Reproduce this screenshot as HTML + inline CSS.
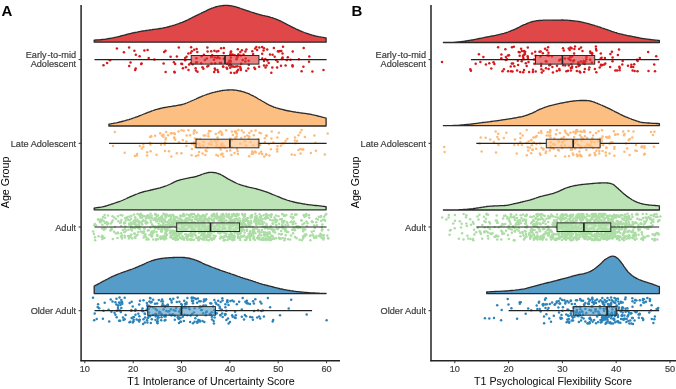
<!DOCTYPE html>
<html><head><meta charset="utf-8"><style>
html,body{margin:0;padding:0;background:#fff;width:676px;height:389px;overflow:hidden}
svg{display:block;filter:blur(0.35px);font-family:"Liberation Sans",sans-serif}
</style></head><body>
<svg width="676" height="389" viewBox="0 0 676 389">
<rect width="676" height="389" fill="#fff"/>
<text transform="translate(1.50,15.70) scale(1,1.000)" text-anchor="start" font-size="15.00" fill="#000" stroke="#000" stroke-width="0" font-weight="bold">A</text>
<line x1="81.1" y1="5" x2="81.1" y2="361.2" stroke="#222" stroke-width="1.5"/>
<line x1="80.4" y1="360.7" x2="340.0" y2="360.7" stroke="#222" stroke-width="1.5"/>
<line x1="78.6" y1="59.6" x2="81.1" y2="59.6" stroke="#333" stroke-width="1"/>
<text transform="translate(76.10,57.80) scale(1,1.080)" text-anchor="end" font-size="9.20" fill="#404040" stroke="#404040" stroke-width="0.2">Early<tspan dx="0.9">-to-mid</tspan></text>
<text transform="translate(76.10,67.40) scale(1,1.080)" text-anchor="end" font-size="9.20" fill="#404040" stroke="#404040" stroke-width="0.2">Adolescent</text>
<line x1="78.6" y1="143.3" x2="81.1" y2="143.3" stroke="#333" stroke-width="1"/>
<text transform="translate(76.10,146.80) scale(1,1.080)" text-anchor="end" font-size="9.20" fill="#404040" stroke="#404040" stroke-width="0.2">Late Adolescent</text>
<line x1="78.6" y1="227.0" x2="81.1" y2="227.0" stroke="#333" stroke-width="1"/>
<text transform="translate(76.10,230.50) scale(1,1.080)" text-anchor="end" font-size="9.20" fill="#404040" stroke="#404040" stroke-width="0.2">Adult</text>
<line x1="78.6" y1="310.7" x2="81.1" y2="310.7" stroke="#333" stroke-width="1"/>
<text transform="translate(76.10,314.20) scale(1,1.080)" text-anchor="end" font-size="9.20" fill="#404040" stroke="#404040" stroke-width="0.2">Older Adult</text>
<line x1="84.8" y1="360.7" x2="84.8" y2="363.2" stroke="#333" stroke-width="1"/>
<text transform="translate(84.80,372.20) scale(1,1.080)" text-anchor="middle" font-size="9.20" fill="#404040" stroke="#404040" stroke-width="0.2">10</text>
<line x1="133.2" y1="360.7" x2="133.2" y2="363.2" stroke="#333" stroke-width="1"/>
<text transform="translate(133.16,372.20) scale(1,1.080)" text-anchor="middle" font-size="9.20" fill="#404040" stroke="#404040" stroke-width="0.2">20</text>
<line x1="181.5" y1="360.7" x2="181.5" y2="363.2" stroke="#333" stroke-width="1"/>
<text transform="translate(181.52,372.20) scale(1,1.080)" text-anchor="middle" font-size="9.20" fill="#404040" stroke="#404040" stroke-width="0.2">30</text>
<line x1="229.9" y1="360.7" x2="229.9" y2="363.2" stroke="#333" stroke-width="1"/>
<text transform="translate(229.88,372.20) scale(1,1.080)" text-anchor="middle" font-size="9.20" fill="#404040" stroke="#404040" stroke-width="0.2">40</text>
<line x1="278.2" y1="360.7" x2="278.2" y2="363.2" stroke="#333" stroke-width="1"/>
<text transform="translate(278.24,372.20) scale(1,1.080)" text-anchor="middle" font-size="9.20" fill="#404040" stroke="#404040" stroke-width="0.2">50</text>
<line x1="326.6" y1="360.7" x2="326.6" y2="363.2" stroke="#333" stroke-width="1"/>
<text transform="translate(326.60,372.20) scale(1,1.080)" text-anchor="middle" font-size="9.20" fill="#404040" stroke="#404040" stroke-width="0.2">60</text>
<text transform="translate(211.00,384.80) scale(1,1.080)" text-anchor="middle" font-size="10.65" fill="#111" stroke="#111" stroke-width="0.05">T1 Intolerance of Uncertainty Score</text>
<text transform="translate(9.3,182.4) rotate(-90) scale(1,1.04)" text-anchor="middle" font-size="10.7" fill="#000">Age Group</text>
<path d="M94.2,42.2 L94.2,40.1 L94.9,40.1 L95.9,40.0 L97.0,39.9 L98.3,39.8 L99.6,39.8 L101.0,39.6 L102.3,39.5 L103.5,39.4 L104.7,39.3 L105.8,39.1 L107.0,38.9 L108.1,38.7 L109.2,38.5 L110.4,38.3 L111.5,38.1 L112.7,37.9 L113.9,37.7 L115.0,37.4 L116.2,37.1 L117.4,36.9 L118.5,36.6 L119.7,36.3 L120.8,36.0 L122.0,35.7 L123.2,35.4 L124.3,35.1 L125.5,34.8 L126.6,34.5 L127.7,34.2 L128.9,33.9 L130.0,33.6 L131.2,33.3 L132.4,33.0 L133.5,32.8 L134.7,32.5 L135.8,32.3 L137.0,32.1 L138.2,31.8 L139.3,31.6 L140.5,31.4 L141.7,31.2 L142.8,31.0 L144.0,30.8 L145.1,30.7 L146.2,30.5 L147.4,30.3 L148.5,30.2 L149.7,30.0 L150.9,29.8 L152.0,29.7 L153.2,29.5 L154.3,29.4 L155.5,29.2 L156.7,29.1 L157.8,28.9 L159.0,28.7 L160.2,28.5 L161.3,28.3 L162.5,28.1 L163.6,27.8 L164.7,27.6 L165.9,27.4 L167.0,27.1 L168.2,26.8 L169.4,26.5 L170.5,26.2 L171.7,25.9 L172.8,25.5 L174.0,25.2 L175.2,24.8 L176.3,24.4 L177.5,24.0 L178.7,23.6 L179.8,23.2 L181.0,22.7 L182.1,22.3 L183.2,21.8 L184.4,21.3 L185.5,20.8 L186.7,20.3 L187.9,19.8 L189.0,19.2 L190.2,18.6 L191.4,18.0 L192.5,17.4 L193.7,16.9 L194.8,16.3 L196.0,15.7 L197.1,15.1 L198.3,14.6 L199.4,14.0 L200.6,13.5 L201.7,12.9 L202.8,12.4 L204.0,11.8 L205.1,11.3 L206.2,10.8 L207.4,10.2 L208.5,9.7 L209.6,9.2 L210.8,8.7 L211.9,8.2 L213.1,7.8 L214.2,7.4 L215.4,7.0 L216.5,6.7 L217.7,6.4 L218.8,6.2 L220.0,5.9 L221.2,5.8 L222.3,5.6 L223.5,5.5 L224.7,5.4 L225.8,5.4 L227.0,5.4 L228.1,5.5 L229.2,5.6 L230.4,5.7 L231.5,5.9 L232.7,6.1 L233.9,6.3 L235.0,6.6 L236.2,7.0 L237.3,7.3 L238.5,7.7 L239.7,8.1 L240.8,8.5 L242.0,8.9 L243.2,9.3 L244.3,9.7 L245.5,10.1 L246.6,10.5 L247.7,10.8 L248.9,11.2 L250.0,11.6 L251.2,12.0 L252.4,12.4 L253.5,12.7 L254.7,13.1 L255.8,13.5 L257.0,13.8 L258.2,14.1 L259.3,14.5 L260.5,14.8 L261.7,15.1 L262.8,15.4 L264.0,15.6 L265.1,15.9 L266.2,16.1 L267.4,16.4 L268.5,16.7 L269.7,17.0 L270.9,17.4 L272.0,17.7 L273.2,18.1 L274.4,18.5 L275.5,18.9 L276.7,19.4 L277.8,19.8 L279.0,20.3 L280.2,20.8 L281.3,21.4 L282.5,22.0 L283.6,22.6 L284.7,23.2 L285.9,23.8 L287.0,24.4 L288.2,25.0 L289.4,25.6 L290.5,26.2 L291.7,26.8 L292.9,27.4 L294.0,27.9 L295.2,28.5 L296.3,29.1 L297.5,29.6 L298.7,30.1 L299.8,30.6 L301.0,31.1 L302.1,31.6 L303.2,32.0 L304.4,32.5 L305.5,32.9 L306.7,33.3 L307.9,33.7 L309.0,34.1 L310.1,34.5 L311.3,34.8 L312.4,35.2 L313.6,35.5 L314.8,35.8 L316.0,36.1 L317.3,36.4 L318.7,36.7 L320.2,36.9 L321.6,37.2 L323.0,37.4 L324.3,37.6 L325.3,37.8 L326.1,37.9 L326.1,42.2 Z" fill="#DF4749" stroke="#2a2a2a" stroke-width="1.3" stroke-linejoin="round"/>
<path d="M108.9,126.0 L108.9,124.2 L109.6,124.1 L110.6,123.9 L111.8,123.6 L113.1,123.4 L114.5,123.1 L115.9,122.9 L117.3,122.6 L118.5,122.3 L119.7,122.0 L120.8,121.8 L122.0,121.5 L123.1,121.2 L124.3,120.9 L125.4,120.6 L126.5,120.2 L127.7,119.9 L128.9,119.6 L130.0,119.2 L131.2,118.8 L132.3,118.4 L133.5,118.0 L134.7,117.6 L135.8,117.2 L137.0,116.8 L138.2,116.4 L139.3,115.9 L140.5,115.4 L141.6,115.0 L142.7,114.5 L143.9,114.0 L145.0,113.6 L146.2,113.1 L147.4,112.7 L148.5,112.2 L149.7,111.8 L150.8,111.3 L152.0,110.9 L153.2,110.5 L154.3,110.1 L155.5,109.7 L156.7,109.4 L157.8,109.0 L159.0,108.8 L160.1,108.5 L161.2,108.2 L162.4,108.0 L163.5,107.7 L164.7,107.5 L165.9,107.3 L167.0,107.1 L168.2,106.9 L169.3,106.7 L170.5,106.6 L171.7,106.4 L172.8,106.2 L174.0,106.0 L175.2,105.8 L176.3,105.6 L177.5,105.4 L178.6,105.2 L179.7,105.0 L180.9,104.8 L182.0,104.5 L183.2,104.2 L184.4,103.8 L185.5,103.4 L186.7,103.0 L187.8,102.5 L189.0,102.0 L190.2,101.5 L191.3,101.0 L192.5,100.5 L193.7,100.0 L194.8,99.5 L196.0,99.0 L197.1,98.4 L198.3,97.9 L199.4,97.4 L200.6,96.9 L201.7,96.4 L202.9,95.9 L204.1,95.5 L205.3,95.0 L206.5,94.6 L207.6,94.2 L208.8,93.8 L209.9,93.4 L210.9,93.1 L211.8,92.8 L212.7,92.6 L213.6,92.4 L214.4,92.2 L215.1,92.0 L215.9,91.8 L216.7,91.7 L217.5,91.5 L218.3,91.3 L219.1,91.2 L219.9,91.0 L220.7,90.8 L221.5,90.7 L222.3,90.5 L223.2,90.4 L224.2,90.3 L225.2,90.2 L226.3,90.1 L227.5,90.0 L228.7,90.0 L229.9,89.9 L231.1,89.9 L232.3,89.9 L233.5,90.0 L234.7,90.1 L235.8,90.2 L237.0,90.4 L238.1,90.6 L239.2,90.8 L240.4,91.0 L241.5,91.3 L242.7,91.6 L243.9,92.0 L245.0,92.3 L246.2,92.8 L247.3,93.2 L248.5,93.7 L249.7,94.2 L250.8,94.8 L252.0,95.3 L253.2,95.9 L254.3,96.5 L255.5,97.1 L256.6,97.8 L257.7,98.5 L258.9,99.2 L260.0,99.8 L261.2,100.5 L262.4,101.2 L263.5,101.8 L264.7,102.5 L265.9,103.2 L267.0,103.9 L268.2,104.5 L269.3,105.2 L270.5,105.7 L271.7,106.2 L272.8,106.6 L274.0,107.1 L275.1,107.4 L276.2,107.8 L277.4,108.1 L278.5,108.5 L279.7,108.8 L280.9,109.1 L282.0,109.4 L283.2,109.7 L284.4,110.0 L285.5,110.3 L286.7,110.5 L287.8,110.8 L289.0,111.0 L290.2,111.2 L291.3,111.4 L292.5,111.6 L293.6,111.8 L294.7,112.0 L295.9,112.2 L297.0,112.3 L298.2,112.5 L299.4,112.7 L300.5,112.8 L301.7,113.0 L302.9,113.1 L304.0,113.3 L305.2,113.4 L306.3,113.6 L307.5,113.8 L308.7,114.0 L309.8,114.2 L310.9,114.4 L312.1,114.7 L313.2,114.9 L314.4,115.2 L315.5,115.4 L316.7,115.7 L317.9,116.0 L319.3,116.3 L320.6,116.7 L322.0,117.0 L323.3,117.4 L324.4,117.7 L325.4,117.9 L326.1,118.1 L326.1,126.0 Z" fill="#FDBE81" stroke="#2a2a2a" stroke-width="1.3" stroke-linejoin="round"/>
<path d="M94.2,209.8 L94.2,208.1 L94.9,208.0 L95.9,207.9 L97.0,207.7 L98.3,207.5 L99.6,207.3 L101.0,207.1 L102.3,206.9 L103.5,206.6 L104.7,206.3 L105.8,206.0 L107.0,205.7 L108.1,205.3 L109.2,204.9 L110.4,204.6 L111.5,204.2 L112.7,203.8 L113.9,203.4 L115.0,203.0 L116.2,202.6 L117.4,202.2 L118.5,201.8 L119.7,201.4 L120.8,201.0 L122.0,200.5 L123.2,200.0 L124.3,199.5 L125.5,199.0 L126.6,198.5 L127.7,197.9 L128.9,197.4 L130.0,196.9 L131.2,196.4 L132.4,195.9 L133.5,195.4 L134.7,194.9 L135.8,194.4 L137.0,194.0 L138.2,193.5 L139.3,193.1 L140.5,192.7 L141.7,192.3 L142.8,192.0 L144.0,191.7 L145.1,191.4 L146.2,191.1 L147.4,190.9 L148.5,190.6 L149.7,190.3 L150.9,190.0 L152.0,189.8 L153.2,189.5 L154.3,189.2 L155.5,189.0 L156.7,188.7 L157.8,188.4 L159.0,188.1 L160.2,187.8 L161.3,187.4 L162.5,187.1 L163.6,186.7 L164.7,186.3 L165.9,185.9 L167.0,185.5 L168.2,185.0 L169.4,184.5 L170.5,184.0 L171.7,183.4 L172.8,182.8 L174.0,182.2 L175.2,181.7 L176.3,181.2 L177.5,180.7 L178.7,180.3 L179.8,180.0 L181.0,179.6 L182.1,179.3 L183.2,179.1 L184.4,178.8 L185.5,178.6 L186.7,178.3 L187.9,178.1 L189.0,177.8 L190.2,177.6 L191.4,177.4 L192.5,177.3 L193.7,177.0 L194.8,176.8 L196.0,176.5 L197.2,176.2 L198.3,175.7 L199.5,175.3 L200.7,174.8 L201.8,174.4 L203.0,174.0 L204.1,173.6 L205.1,173.3 L206.1,173.1 L207.0,172.9 L208.0,172.7 L208.9,172.5 L209.7,172.4 L210.6,172.4 L211.5,172.4 L212.4,172.4 L213.3,172.5 L214.2,172.6 L215.1,172.7 L216.0,172.9 L216.9,173.2 L217.8,173.4 L218.8,173.8 L219.8,174.2 L220.9,174.7 L222.0,175.3 L223.1,175.9 L224.3,176.6 L225.5,177.3 L226.7,178.1 L227.8,178.8 L229.0,179.4 L230.2,180.0 L231.3,180.6 L232.5,181.2 L233.7,181.9 L234.8,182.4 L236.0,183.0 L237.1,183.5 L238.3,184.0 L239.5,184.4 L240.6,184.8 L241.8,185.2 L242.9,185.5 L244.0,185.9 L245.2,186.2 L246.3,186.5 L247.5,186.8 L248.7,187.1 L249.8,187.4 L251.0,187.6 L252.2,187.9 L253.3,188.2 L254.5,188.4 L255.6,188.7 L256.8,189.0 L258.0,189.3 L259.1,189.6 L260.3,190.0 L261.4,190.3 L262.5,190.7 L263.7,191.0 L264.8,191.4 L266.0,191.8 L267.2,192.2 L268.3,192.7 L269.5,193.1 L270.7,193.6 L271.8,194.1 L273.0,194.6 L274.1,195.0 L275.3,195.5 L276.5,196.0 L277.6,196.4 L278.8,196.9 L279.9,197.4 L281.0,197.9 L282.2,198.3 L283.3,198.8 L284.5,199.2 L285.7,199.6 L286.8,200.0 L288.0,200.4 L289.2,200.7 L290.3,201.1 L291.5,201.4 L292.6,201.7 L293.8,202.0 L295.0,202.3 L296.1,202.5 L297.3,202.8 L298.4,203.0 L299.6,203.2 L300.7,203.4 L301.9,203.6 L303.0,203.8 L304.1,204.0 L305.2,204.2 L306.2,204.3 L307.3,204.5 L308.4,204.6 L309.6,204.8 L310.8,204.9 L312.2,205.1 L313.8,205.3 L315.7,205.5 L317.7,205.7 L319.7,205.9 L321.7,206.1 L323.5,206.3 L325.0,206.5 L326.1,206.6 L326.1,209.8 Z" fill="#BCE4B6" stroke="#2a2a2a" stroke-width="1.3" stroke-linejoin="round"/>
<path d="M94.2,293.6 L94.2,286.1 L94.9,285.7 L95.9,285.2 L97.0,284.6 L98.3,283.9 L99.6,283.2 L101.0,282.4 L102.3,281.7 L103.5,281.1 L104.7,280.5 L105.8,279.9 L107.0,279.3 L108.1,278.7 L109.2,278.1 L110.4,277.5 L111.5,276.9 L112.7,276.4 L113.9,275.9 L115.0,275.4 L116.2,274.9 L117.4,274.4 L118.5,273.9 L119.7,273.5 L120.8,273.0 L122.0,272.6 L123.2,272.2 L124.3,271.8 L125.5,271.4 L126.6,271.0 L127.7,270.6 L128.9,270.2 L130.0,269.8 L131.2,269.4 L132.4,269.0 L133.5,268.5 L134.7,268.1 L135.8,267.6 L137.0,267.1 L138.2,266.7 L139.3,266.2 L140.5,265.7 L141.7,265.2 L142.8,264.6 L144.0,264.1 L145.1,263.5 L146.2,263.0 L147.4,262.4 L148.5,262.0 L149.7,261.5 L150.9,261.1 L152.0,260.7 L153.2,260.3 L154.3,260.0 L155.5,259.7 L156.7,259.4 L157.8,259.1 L159.0,258.9 L160.2,258.7 L161.3,258.5 L162.5,258.3 L163.6,258.2 L164.7,258.1 L165.9,258.0 L167.0,257.9 L168.2,257.8 L169.4,257.7 L170.5,257.6 L171.7,257.6 L172.8,257.5 L174.0,257.5 L175.2,257.4 L176.3,257.4 L177.5,257.4 L178.7,257.4 L179.8,257.4 L181.0,257.4 L182.1,257.4 L183.2,257.5 L184.4,257.5 L185.5,257.6 L186.7,257.8 L187.9,258.0 L189.0,258.2 L190.2,258.5 L191.4,258.8 L192.5,259.1 L193.7,259.4 L194.8,259.8 L196.0,260.2 L197.1,260.6 L198.3,261.1 L199.4,261.6 L200.6,262.2 L201.7,262.7 L202.8,263.3 L204.0,263.8 L205.1,264.3 L206.2,264.8 L207.4,265.2 L208.5,265.7 L209.6,266.1 L210.8,266.6 L211.9,267.0 L213.1,267.5 L214.2,267.9 L215.4,268.3 L216.5,268.8 L217.7,269.2 L218.8,269.6 L220.0,270.1 L221.2,270.5 L222.3,270.9 L223.5,271.3 L224.7,271.7 L225.8,272.1 L227.0,272.5 L228.1,272.9 L229.2,273.2 L230.4,273.6 L231.5,274.0 L232.7,274.4 L233.9,274.8 L235.0,275.2 L236.2,275.6 L237.3,276.1 L238.5,276.5 L239.7,276.9 L240.8,277.3 L242.0,277.7 L243.2,278.1 L244.3,278.4 L245.5,278.8 L246.6,279.1 L247.7,279.4 L248.9,279.8 L250.0,280.1 L251.2,280.5 L252.4,280.9 L253.5,281.3 L254.7,281.7 L255.8,282.1 L257.0,282.5 L258.2,282.9 L259.3,283.3 L260.5,283.7 L261.7,284.0 L262.8,284.4 L264.0,284.7 L265.1,285.0 L266.2,285.2 L267.4,285.5 L268.5,285.8 L269.7,286.1 L270.9,286.4 L272.0,286.7 L273.2,287.0 L274.4,287.3 L275.5,287.6 L276.7,287.9 L277.8,288.2 L279.0,288.5 L280.2,288.8 L281.3,289.0 L282.5,289.2 L283.6,289.5 L284.7,289.7 L285.9,289.9 L287.0,290.1 L288.2,290.3 L289.4,290.5 L290.5,290.7 L291.7,290.8 L292.9,291.0 L294.0,291.2 L295.2,291.3 L296.3,291.5 L297.5,291.6 L298.7,291.7 L299.8,291.9 L301.0,292.0 L302.1,292.1 L303.2,292.2 L304.4,292.3 L305.5,292.4 L306.7,292.5 L307.9,292.6 L309.0,292.7 L310.1,292.8 L311.3,292.8 L312.4,292.9 L313.6,293.0 L314.8,293.0 L316.0,293.1 L317.3,293.2 L318.7,293.2 L320.2,293.3 L321.6,293.3 L323.0,293.4 L324.3,293.4 L325.3,293.5 L326.1,293.5 L326.1,293.6 Z" fill="#559CC8" stroke="#2a2a2a" stroke-width="1.3" stroke-linejoin="round"/>
<rect x="191.2" y="55.5" width="67.7" height="8.6" fill="#E98082"/>
<g fill="#D7191C"><circle cx="241.1" cy="63.8" r="1.25"/><circle cx="278.8" cy="51.4" r="1.25"/><circle cx="259.3" cy="47.4" r="1.25"/><circle cx="197.5" cy="71.8" r="1.25"/><circle cx="207.4" cy="47.6" r="1.25"/><circle cx="272.6" cy="54.8" r="1.25"/><circle cx="107.1" cy="63.0" r="1.25"/><circle cx="270.0" cy="54.6" r="1.25"/><circle cx="265.5" cy="67.5" r="1.25"/><circle cx="223.3" cy="66.7" r="1.25"/><circle cx="207.6" cy="51.5" r="1.25"/><circle cx="201.2" cy="63.3" r="1.25"/><circle cx="196.6" cy="48.9" r="1.25"/><circle cx="221.0" cy="63.1" r="1.25"/><circle cx="226.6" cy="67.7" r="1.25"/><circle cx="229.0" cy="65.5" r="1.25"/><circle cx="323.5" cy="70.1" r="1.25"/><circle cx="262.1" cy="47.0" r="1.25"/><circle cx="240.3" cy="52.0" r="1.25"/><circle cx="312.4" cy="71.4" r="1.25"/><circle cx="190.6" cy="53.0" r="1.25"/><circle cx="181.3" cy="63.8" r="1.25"/><circle cx="237.6" cy="56.4" r="1.25"/><circle cx="141.1" cy="63.9" r="1.25"/><circle cx="139.6" cy="56.3" r="1.25"/><circle cx="229.3" cy="60.7" r="1.25"/><circle cx="223.7" cy="52.9" r="1.25"/><circle cx="282.3" cy="58.5" r="1.25"/><circle cx="237.5" cy="66.3" r="1.25"/><circle cx="230.3" cy="54.3" r="1.25"/><circle cx="223.0" cy="66.6" r="1.25"/><circle cx="194.2" cy="49.8" r="1.25"/><circle cx="116.9" cy="48.5" r="1.25"/><circle cx="188.3" cy="53.5" r="1.25"/><circle cx="248.3" cy="68.5" r="1.25"/><circle cx="191.8" cy="51.3" r="1.25"/><circle cx="215.1" cy="69.8" r="1.25"/><circle cx="103.5" cy="65.2" r="1.25"/><circle cx="266.6" cy="65.6" r="1.25"/><circle cx="182.9" cy="68.3" r="1.25"/><circle cx="201.7" cy="56.2" r="1.25"/><circle cx="276.1" cy="60.1" r="1.25"/><circle cx="231.1" cy="51.4" r="1.25"/><circle cx="267.4" cy="60.6" r="1.25"/><circle cx="240.8" cy="70.1" r="1.25"/><circle cx="252.3" cy="51.2" r="1.25"/><circle cx="163.6" cy="63.4" r="1.25"/><circle cx="230.9" cy="72.8" r="1.25"/><circle cx="227.2" cy="68.7" r="1.25"/><circle cx="274.7" cy="56.8" r="1.25"/><circle cx="211.2" cy="51.2" r="1.25"/><circle cx="236.0" cy="66.5" r="1.25"/><circle cx="148.7" cy="58.1" r="1.25"/><circle cx="214.8" cy="57.5" r="1.25"/><circle cx="203.4" cy="68.8" r="1.25"/><circle cx="176.9" cy="56.6" r="1.25"/><circle cx="264.0" cy="65.5" r="1.25"/><circle cx="214.8" cy="68.4" r="1.25"/><circle cx="309.3" cy="56.6" r="1.25"/><circle cx="233.0" cy="66.5" r="1.25"/><circle cx="241.9" cy="50.2" r="1.25"/><circle cx="240.6" cy="68.3" r="1.25"/><circle cx="246.4" cy="49.6" r="1.25"/><circle cx="174.7" cy="72.6" r="1.25"/><circle cx="218.4" cy="51.0" r="1.25"/><circle cx="196.4" cy="58.2" r="1.25"/><circle cx="216.6" cy="51.4" r="1.25"/><circle cx="164.2" cy="52.1" r="1.25"/><circle cx="303.7" cy="48.1" r="1.25"/><circle cx="191.1" cy="47.2" r="1.25"/><circle cx="243.5" cy="54.6" r="1.25"/><circle cx="206.8" cy="58.4" r="1.25"/><circle cx="271.3" cy="72.8" r="1.25"/><circle cx="246.3" cy="70.7" r="1.25"/><circle cx="170.6" cy="56.8" r="1.25"/><circle cx="267.2" cy="49.6" r="1.25"/><circle cx="290.5" cy="59.7" r="1.25"/><circle cx="281.3" cy="51.0" r="1.25"/><circle cx="236.5" cy="59.2" r="1.25"/><circle cx="175.2" cy="64.1" r="1.25"/><circle cx="185.2" cy="60.3" r="1.25"/><circle cx="286.9" cy="60.0" r="1.25"/><circle cx="230.5" cy="60.6" r="1.25"/><circle cx="185.9" cy="67.3" r="1.25"/><circle cx="280.0" cy="51.1" r="1.25"/><circle cx="237.8" cy="49.3" r="1.25"/><circle cx="237.0" cy="71.3" r="1.25"/><circle cx="214.1" cy="72.1" r="1.25"/><circle cx="214.0" cy="59.8" r="1.25"/><circle cx="196.0" cy="70.6" r="1.25"/><circle cx="135.8" cy="54.7" r="1.25"/><circle cx="273.9" cy="48.1" r="1.25"/><circle cx="223.8" cy="58.7" r="1.25"/><circle cx="231.7" cy="66.5" r="1.25"/><circle cx="207.3" cy="66.5" r="1.25"/><circle cx="255.1" cy="68.9" r="1.25"/><circle cx="129.2" cy="65.9" r="1.25"/><circle cx="214.4" cy="50.8" r="1.25"/><circle cx="134.4" cy="50.7" r="1.25"/><circle cx="173.9" cy="62.2" r="1.25"/><circle cx="301.6" cy="71.2" r="1.25"/><circle cx="242.7" cy="60.0" r="1.25"/><circle cx="218.2" cy="72.0" r="1.25"/><circle cx="230.2" cy="67.7" r="1.25"/><circle cx="272.3" cy="67.6" r="1.25"/><circle cx="211.5" cy="63.4" r="1.25"/><circle cx="236.9" cy="57.8" r="1.25"/><circle cx="248.8" cy="64.7" r="1.25"/><circle cx="212.2" cy="55.2" r="1.25"/><circle cx="230.7" cy="51.9" r="1.25"/><circle cx="259.1" cy="66.8" r="1.25"/><circle cx="281.0" cy="65.7" r="1.25"/><circle cx="174.3" cy="71.8" r="1.25"/><circle cx="287.8" cy="57.2" r="1.25"/><circle cx="110.0" cy="60.2" r="1.25"/><circle cx="255.2" cy="48.6" r="1.25"/><circle cx="264.0" cy="61.1" r="1.25"/><circle cx="178.8" cy="47.4" r="1.25"/><circle cx="220.0" cy="63.1" r="1.25"/><circle cx="264.0" cy="48.3" r="1.25"/><circle cx="123.9" cy="52.2" r="1.25"/><circle cx="238.1" cy="69.7" r="1.25"/><circle cx="262.3" cy="58.4" r="1.25"/><circle cx="231.1" cy="65.1" r="1.25"/><circle cx="254.3" cy="67.8" r="1.25"/><circle cx="195.9" cy="62.8" r="1.25"/><circle cx="192.7" cy="64.3" r="1.25"/><circle cx="211.2" cy="57.1" r="1.25"/><circle cx="186.6" cy="56.8" r="1.25"/><circle cx="211.7" cy="56.4" r="1.25"/><circle cx="292.6" cy="66.4" r="1.25"/><circle cx="234.7" cy="55.3" r="1.25"/><circle cx="212.1" cy="56.4" r="1.25"/><circle cx="202.5" cy="67.2" r="1.25"/><circle cx="292.5" cy="65.3" r="1.25"/><circle cx="218.0" cy="56.7" r="1.25"/><circle cx="309.0" cy="61.7" r="1.25"/><circle cx="230.2" cy="64.0" r="1.25"/><circle cx="230.7" cy="61.8" r="1.25"/><circle cx="277.9" cy="51.2" r="1.25"/><circle cx="253.1" cy="54.1" r="1.25"/><circle cx="234.4" cy="72.9" r="1.25"/><circle cx="219.5" cy="58.2" r="1.25"/><circle cx="277.6" cy="61.8" r="1.25"/><circle cx="217.5" cy="69.9" r="1.25"/><circle cx="282.5" cy="53.4" r="1.25"/><circle cx="154.4" cy="59.4" r="1.25"/><circle cx="221.1" cy="48.2" r="1.25"/><circle cx="231.7" cy="54.6" r="1.25"/><circle cx="292.7" cy="51.6" r="1.25"/><circle cx="195.6" cy="68.3" r="1.25"/><circle cx="265.3" cy="58.9" r="1.25"/><circle cx="245.7" cy="58.5" r="1.25"/><circle cx="248.6" cy="60.8" r="1.25"/><circle cx="238.1" cy="54.7" r="1.25"/><circle cx="303.4" cy="66.8" r="1.25"/><circle cx="208.4" cy="65.8" r="1.25"/><circle cx="216.9" cy="58.1" r="1.25"/><circle cx="189.1" cy="64.5" r="1.25"/><circle cx="141.6" cy="63.4" r="1.25"/><circle cx="190.6" cy="63.2" r="1.25"/><circle cx="281.9" cy="59.0" r="1.25"/><circle cx="268.7" cy="63.1" r="1.25"/><circle cx="165.6" cy="71.9" r="1.25"/><circle cx="238.5" cy="54.4" r="1.25"/><circle cx="223.9" cy="48.1" r="1.25"/><circle cx="234.3" cy="66.8" r="1.25"/><circle cx="245.4" cy="51.5" r="1.25"/><circle cx="203.9" cy="54.8" r="1.25"/><circle cx="298.9" cy="59.3" r="1.25"/><circle cx="227.1" cy="63.8" r="1.25"/><circle cx="240.1" cy="66.7" r="1.25"/><circle cx="240.8" cy="55.4" r="1.25"/><circle cx="185.2" cy="57.9" r="1.25"/><circle cx="147.6" cy="50.1" r="1.25"/><circle cx="215.1" cy="63.3" r="1.25"/><circle cx="257.1" cy="50.0" r="1.25"/><circle cx="262.2" cy="53.8" r="1.25"/><circle cx="256.3" cy="47.0" r="1.25"/><circle cx="165.5" cy="50.7" r="1.25"/><circle cx="283.0" cy="46.7" r="1.25"/><circle cx="263.5" cy="50.6" r="1.25"/><circle cx="277.1" cy="67.4" r="1.25"/><circle cx="228.4" cy="62.7" r="1.25"/><circle cx="282.6" cy="57.4" r="1.25"/><circle cx="144.4" cy="50.6" r="1.25"/><circle cx="135.2" cy="70.1" r="1.25"/><circle cx="129.1" cy="47.6" r="1.25"/><circle cx="196.8" cy="62.3" r="1.25"/><circle cx="197.3" cy="52.0" r="1.25"/><circle cx="188.5" cy="69.9" r="1.25"/><circle cx="232.9" cy="54.7" r="1.25"/><circle cx="135.7" cy="68.4" r="1.25"/><circle cx="236.7" cy="72.6" r="1.25"/><circle cx="182.1" cy="64.0" r="1.25"/><circle cx="245.3" cy="61.5" r="1.25"/><circle cx="130.5" cy="62.5" r="1.25"/><circle cx="204.9" cy="59.9" r="1.25"/><circle cx="285.6" cy="65.6" r="1.25"/><circle cx="230.8" cy="57.5" r="1.25"/></g>
<line x1="94.5" y1="59.6" x2="191.2" y2="59.6" stroke="#222" stroke-width="1.2"/>
<line x1="258.9" y1="59.6" x2="326.6" y2="59.6" stroke="#222" stroke-width="1.2"/>
<rect x="191.2" y="55.5" width="67.7" height="8.6" fill="#E98082" fill-opacity="0.15" stroke="#2b2b2b" stroke-width="1"/>
<line x1="225.0" y1="55.5" x2="225.0" y2="64.1" stroke="#222" stroke-width="1.7"/>
<rect x="196.0" y="139.2" width="62.9" height="8.6" fill="#FED6B0"/>
<g fill="#FDBA79"><circle cx="271.7" cy="131.6" r="1.25"/><circle cx="260.1" cy="145.0" r="1.25"/><circle cx="206.5" cy="151.3" r="1.25"/><circle cx="151.2" cy="136.2" r="1.25"/><circle cx="165.9" cy="138.1" r="1.25"/><circle cx="182.8" cy="140.0" r="1.25"/><circle cx="200.0" cy="146.9" r="1.25"/><circle cx="218.7" cy="132.8" r="1.25"/><circle cx="298.5" cy="150.1" r="1.25"/><circle cx="195.0" cy="146.9" r="1.25"/><circle cx="285.7" cy="140.8" r="1.25"/><circle cx="244.8" cy="136.7" r="1.25"/><circle cx="277.5" cy="146.2" r="1.25"/><circle cx="215.8" cy="134.1" r="1.25"/><circle cx="114.8" cy="132.1" r="1.25"/><circle cx="266.0" cy="135.4" r="1.25"/><circle cx="190.0" cy="135.3" r="1.25"/><circle cx="174.2" cy="137.6" r="1.25"/><circle cx="264.2" cy="156.4" r="1.25"/><circle cx="251.4" cy="131.1" r="1.25"/><circle cx="186.5" cy="146.0" r="1.25"/><circle cx="197.0" cy="138.9" r="1.25"/><circle cx="301.6" cy="130.1" r="1.25"/><circle cx="193.8" cy="144.6" r="1.25"/><circle cx="247.2" cy="135.4" r="1.25"/><circle cx="166.2" cy="131.9" r="1.25"/><circle cx="266.3" cy="154.7" r="1.25"/><circle cx="161.9" cy="135.4" r="1.25"/><circle cx="226.1" cy="130.3" r="1.25"/><circle cx="136.8" cy="155.6" r="1.25"/><circle cx="231.8" cy="146.9" r="1.25"/><circle cx="271.4" cy="138.5" r="1.25"/><circle cx="155.1" cy="135.8" r="1.25"/><circle cx="193.7" cy="133.4" r="1.25"/><circle cx="259.5" cy="132.7" r="1.25"/><circle cx="237.9" cy="154.0" r="1.25"/><circle cx="200.1" cy="138.9" r="1.25"/><circle cx="237.6" cy="151.2" r="1.25"/><circle cx="221.1" cy="144.6" r="1.25"/><circle cx="278.8" cy="132.7" r="1.25"/><circle cx="199.7" cy="145.5" r="1.25"/><circle cx="261.1" cy="151.7" r="1.25"/><circle cx="240.2" cy="143.8" r="1.25"/><circle cx="251.7" cy="153.7" r="1.25"/><circle cx="208.4" cy="133.4" r="1.25"/><circle cx="255.0" cy="151.6" r="1.25"/><circle cx="250.6" cy="142.0" r="1.25"/><circle cx="209.0" cy="130.9" r="1.25"/><circle cx="134.9" cy="156.0" r="1.25"/><circle cx="310.9" cy="153.0" r="1.25"/><circle cx="248.8" cy="138.3" r="1.25"/><circle cx="181.5" cy="130.2" r="1.25"/><circle cx="253.8" cy="135.3" r="1.25"/><circle cx="197.1" cy="143.4" r="1.25"/><circle cx="222.0" cy="153.9" r="1.25"/><circle cx="277.4" cy="137.5" r="1.25"/><circle cx="222.3" cy="143.4" r="1.25"/><circle cx="194.1" cy="131.2" r="1.25"/><circle cx="203.2" cy="145.4" r="1.25"/><circle cx="150.3" cy="143.6" r="1.25"/><circle cx="186.4" cy="141.6" r="1.25"/><circle cx="198.2" cy="155.2" r="1.25"/><circle cx="174.9" cy="134.0" r="1.25"/><circle cx="147.2" cy="152.2" r="1.25"/><circle cx="220.8" cy="149.4" r="1.25"/><circle cx="186.7" cy="135.6" r="1.25"/><circle cx="255.6" cy="130.4" r="1.25"/><circle cx="298.5" cy="135.2" r="1.25"/><circle cx="195.9" cy="155.9" r="1.25"/><circle cx="234.9" cy="131.5" r="1.25"/><circle cx="224.7" cy="147.6" r="1.25"/><circle cx="150.4" cy="136.7" r="1.25"/><circle cx="164.7" cy="144.4" r="1.25"/><circle cx="282.5" cy="143.4" r="1.25"/><circle cx="219.2" cy="147.5" r="1.25"/><circle cx="262.2" cy="154.1" r="1.25"/><circle cx="149.9" cy="143.1" r="1.25"/><circle cx="234.5" cy="152.9" r="1.25"/><circle cx="277.2" cy="151.4" r="1.25"/><circle cx="277.2" cy="149.2" r="1.25"/><circle cx="113.0" cy="146.0" r="1.25"/><circle cx="231.9" cy="131.4" r="1.25"/><circle cx="212.0" cy="144.4" r="1.25"/><circle cx="258.3" cy="139.3" r="1.25"/><circle cx="150.4" cy="136.9" r="1.25"/><circle cx="196.6" cy="132.6" r="1.25"/><circle cx="269.4" cy="155.6" r="1.25"/><circle cx="222.5" cy="153.7" r="1.25"/><circle cx="221.7" cy="134.7" r="1.25"/><circle cx="314.4" cy="135.4" r="1.25"/><circle cx="202.6" cy="153.4" r="1.25"/><circle cx="143.4" cy="143.9" r="1.25"/><circle cx="209.1" cy="143.8" r="1.25"/><circle cx="170.8" cy="133.3" r="1.25"/><circle cx="150.7" cy="151.3" r="1.25"/><circle cx="236.8" cy="133.8" r="1.25"/><circle cx="304.9" cy="137.0" r="1.25"/><circle cx="232.9" cy="135.0" r="1.25"/><circle cx="244.8" cy="141.2" r="1.25"/><circle cx="205.4" cy="135.5" r="1.25"/><circle cx="235.5" cy="137.7" r="1.25"/><circle cx="258.4" cy="142.3" r="1.25"/><circle cx="236.7" cy="136.6" r="1.25"/><circle cx="264.8" cy="138.2" r="1.25"/><circle cx="231.8" cy="140.5" r="1.25"/><circle cx="181.5" cy="153.3" r="1.25"/><circle cx="235.6" cy="132.5" r="1.25"/><circle cx="223.3" cy="156.4" r="1.25"/><circle cx="174.4" cy="138.0" r="1.25"/><circle cx="241.8" cy="130.4" r="1.25"/><circle cx="266.9" cy="135.7" r="1.25"/><circle cx="165.0" cy="142.6" r="1.25"/><circle cx="230.3" cy="138.5" r="1.25"/><circle cx="252.2" cy="151.6" r="1.25"/><circle cx="216.8" cy="145.0" r="1.25"/><circle cx="194.3" cy="144.4" r="1.25"/><circle cx="211.2" cy="141.4" r="1.25"/><circle cx="231.6" cy="140.4" r="1.25"/><circle cx="249.3" cy="133.0" r="1.25"/><circle cx="230.2" cy="150.4" r="1.25"/><circle cx="163.3" cy="136.8" r="1.25"/><circle cx="270.9" cy="149.2" r="1.25"/><circle cx="297.2" cy="141.0" r="1.25"/><circle cx="163.5" cy="134.7" r="1.25"/><circle cx="191.9" cy="149.1" r="1.25"/><circle cx="176.8" cy="153.2" r="1.25"/><circle cx="273.3" cy="142.4" r="1.25"/><circle cx="291.7" cy="154.5" r="1.25"/><circle cx="141.9" cy="148.5" r="1.25"/><circle cx="205.3" cy="154.9" r="1.25"/><circle cx="183.7" cy="130.8" r="1.25"/><circle cx="222.6" cy="146.1" r="1.25"/><circle cx="295.5" cy="143.2" r="1.25"/><circle cx="150.3" cy="144.6" r="1.25"/><circle cx="175.2" cy="139.8" r="1.25"/><circle cx="224.1" cy="146.0" r="1.25"/><circle cx="231.4" cy="154.9" r="1.25"/><circle cx="253.2" cy="145.2" r="1.25"/><circle cx="217.8" cy="139.9" r="1.25"/><circle cx="174.1" cy="133.2" r="1.25"/><circle cx="207.5" cy="147.4" r="1.25"/><circle cx="315.9" cy="150.7" r="1.25"/><circle cx="253.0" cy="153.8" r="1.25"/><circle cx="160.2" cy="133.2" r="1.25"/><circle cx="264.9" cy="141.9" r="1.25"/><circle cx="199.2" cy="143.7" r="1.25"/><circle cx="257.9" cy="144.6" r="1.25"/><circle cx="124.7" cy="152.8" r="1.25"/><circle cx="280.9" cy="145.8" r="1.25"/><circle cx="179.0" cy="142.2" r="1.25"/><circle cx="221.5" cy="132.6" r="1.25"/><circle cx="246.2" cy="145.5" r="1.25"/><circle cx="226.9" cy="150.9" r="1.25"/><circle cx="178.5" cy="131.5" r="1.25"/><circle cx="168.1" cy="135.2" r="1.25"/><circle cx="194.9" cy="138.6" r="1.25"/><circle cx="143.3" cy="146.7" r="1.25"/><circle cx="188.4" cy="130.3" r="1.25"/><circle cx="165.5" cy="139.6" r="1.25"/><circle cx="221.7" cy="144.6" r="1.25"/><circle cx="205.8" cy="150.2" r="1.25"/><circle cx="235.5" cy="137.7" r="1.25"/><circle cx="194.0" cy="142.3" r="1.25"/><circle cx="139.8" cy="145.9" r="1.25"/><circle cx="203.5" cy="141.7" r="1.25"/><circle cx="258.3" cy="145.5" r="1.25"/><circle cx="191.6" cy="155.3" r="1.25"/><circle cx="214.6" cy="140.9" r="1.25"/><circle cx="259.4" cy="153.6" r="1.25"/><circle cx="216.4" cy="142.5" r="1.25"/><circle cx="284.6" cy="142.9" r="1.25"/><circle cx="295.0" cy="137.5" r="1.25"/><circle cx="199.1" cy="152.1" r="1.25"/><circle cx="253.1" cy="152.5" r="1.25"/><circle cx="191.7" cy="143.5" r="1.25"/><circle cx="165.0" cy="150.9" r="1.25"/><circle cx="218.1" cy="155.7" r="1.25"/><circle cx="241.4" cy="138.1" r="1.25"/><circle cx="300.6" cy="153.6" r="1.25"/><circle cx="171.8" cy="133.3" r="1.25"/><circle cx="249.2" cy="136.6" r="1.25"/><circle cx="219.8" cy="147.0" r="1.25"/><circle cx="169.0" cy="151.3" r="1.25"/><circle cx="315.3" cy="142.7" r="1.25"/><circle cx="249.2" cy="156.3" r="1.25"/><circle cx="165.0" cy="143.6" r="1.25"/><circle cx="294.8" cy="140.6" r="1.25"/><circle cx="161.0" cy="144.8" r="1.25"/><circle cx="156.5" cy="154.7" r="1.25"/><circle cx="203.7" cy="135.5" r="1.25"/><circle cx="300.4" cy="148.9" r="1.25"/><circle cx="137.0" cy="153.9" r="1.25"/><circle cx="294.7" cy="154.9" r="1.25"/><circle cx="238.4" cy="130.0" r="1.25"/><circle cx="147.1" cy="155.6" r="1.25"/><circle cx="236.0" cy="131.6" r="1.25"/><circle cx="221.2" cy="154.4" r="1.25"/><circle cx="237.0" cy="149.0" r="1.25"/><circle cx="255.8" cy="152.4" r="1.25"/><circle cx="243.7" cy="132.6" r="1.25"/><circle cx="327.7" cy="133.6" r="1.25"/><circle cx="171.3" cy="156.5" r="1.25"/><circle cx="268.9" cy="143.9" r="1.25"/><circle cx="217.5" cy="137.6" r="1.25"/><circle cx="266.1" cy="154.3" r="1.25"/><circle cx="287.3" cy="138.7" r="1.25"/><circle cx="324.8" cy="154.4" r="1.25"/><circle cx="194.5" cy="130.2" r="1.25"/><circle cx="222.1" cy="145.9" r="1.25"/><circle cx="303.3" cy="149.5" r="1.25"/><circle cx="300.2" cy="132.4" r="1.25"/><circle cx="210.5" cy="131.3" r="1.25"/><circle cx="302.4" cy="149.6" r="1.25"/><circle cx="216.1" cy="146.4" r="1.25"/><circle cx="208.3" cy="136.3" r="1.25"/><circle cx="260.8" cy="133.3" r="1.25"/><circle cx="220.4" cy="131.3" r="1.25"/><circle cx="222.3" cy="134.6" r="1.25"/><circle cx="210.1" cy="144.5" r="1.25"/><circle cx="216.4" cy="154.9" r="1.25"/></g>
<line x1="109.0" y1="143.3" x2="196.0" y2="143.3" stroke="#222" stroke-width="1.2"/>
<line x1="258.9" y1="143.3" x2="326.6" y2="143.3" stroke="#222" stroke-width="1.2"/>
<rect x="196.0" y="139.2" width="62.9" height="8.6" fill="#FED6B0" fill-opacity="0.15" stroke="#2b2b2b" stroke-width="1"/>
<line x1="229.9" y1="139.2" x2="229.9" y2="147.8" stroke="#222" stroke-width="1.7"/>
<rect x="176.7" y="222.9" width="62.9" height="8.6" fill="#D5EED2"/>
<g fill="#ABDDA4"><circle cx="245.0" cy="220.7" r="1.25"/><circle cx="187.9" cy="219.0" r="1.25"/><circle cx="127.9" cy="219.5" r="1.25"/><circle cx="241.3" cy="230.2" r="1.25"/><circle cx="312.7" cy="222.1" r="1.25"/><circle cx="102.6" cy="236.5" r="1.25"/><circle cx="255.3" cy="233.2" r="1.25"/><circle cx="154.9" cy="228.6" r="1.25"/><circle cx="199.3" cy="229.9" r="1.25"/><circle cx="209.5" cy="227.3" r="1.25"/><circle cx="224.8" cy="228.7" r="1.25"/><circle cx="323.8" cy="235.3" r="1.25"/><circle cx="234.3" cy="235.4" r="1.25"/><circle cx="192.9" cy="234.3" r="1.25"/><circle cx="239.8" cy="237.6" r="1.25"/><circle cx="200.8" cy="216.5" r="1.25"/><circle cx="194.9" cy="231.2" r="1.25"/><circle cx="185.8" cy="224.9" r="1.25"/><circle cx="205.2" cy="218.8" r="1.25"/><circle cx="169.9" cy="215.0" r="1.25"/><circle cx="167.8" cy="222.3" r="1.25"/><circle cx="147.5" cy="238.6" r="1.25"/><circle cx="201.5" cy="235.3" r="1.25"/><circle cx="178.0" cy="239.1" r="1.25"/><circle cx="266.5" cy="223.9" r="1.25"/><circle cx="270.7" cy="226.1" r="1.25"/><circle cx="188.5" cy="218.6" r="1.25"/><circle cx="222.9" cy="237.5" r="1.25"/><circle cx="282.6" cy="227.2" r="1.25"/><circle cx="188.5" cy="219.5" r="1.25"/><circle cx="217.6" cy="224.2" r="1.25"/><circle cx="199.6" cy="219.9" r="1.25"/><circle cx="230.0" cy="226.1" r="1.25"/><circle cx="309.1" cy="215.1" r="1.25"/><circle cx="140.6" cy="217.8" r="1.25"/><circle cx="312.6" cy="234.5" r="1.25"/><circle cx="229.8" cy="230.0" r="1.25"/><circle cx="259.6" cy="214.2" r="1.25"/><circle cx="223.8" cy="240.2" r="1.25"/><circle cx="272.6" cy="238.9" r="1.25"/><circle cx="181.5" cy="219.6" r="1.25"/><circle cx="237.1" cy="219.5" r="1.25"/><circle cx="171.0" cy="225.4" r="1.25"/><circle cx="210.3" cy="228.3" r="1.25"/><circle cx="234.6" cy="214.6" r="1.25"/><circle cx="156.2" cy="239.3" r="1.25"/><circle cx="121.2" cy="233.2" r="1.25"/><circle cx="253.9" cy="232.5" r="1.25"/><circle cx="258.1" cy="223.5" r="1.25"/><circle cx="230.0" cy="237.9" r="1.25"/><circle cx="180.7" cy="216.0" r="1.25"/><circle cx="227.6" cy="237.1" r="1.25"/><circle cx="127.4" cy="216.9" r="1.25"/><circle cx="230.3" cy="236.2" r="1.25"/><circle cx="220.7" cy="217.7" r="1.25"/><circle cx="224.6" cy="220.8" r="1.25"/><circle cx="198.5" cy="239.4" r="1.25"/><circle cx="162.0" cy="217.3" r="1.25"/><circle cx="246.2" cy="239.9" r="1.25"/><circle cx="202.4" cy="220.4" r="1.25"/><circle cx="242.9" cy="227.7" r="1.25"/><circle cx="186.8" cy="237.1" r="1.25"/><circle cx="135.4" cy="237.9" r="1.25"/><circle cx="214.6" cy="229.3" r="1.25"/><circle cx="223.2" cy="227.5" r="1.25"/><circle cx="290.7" cy="216.7" r="1.25"/><circle cx="276.4" cy="221.7" r="1.25"/><circle cx="117.7" cy="232.5" r="1.25"/><circle cx="252.0" cy="216.7" r="1.25"/><circle cx="172.6" cy="231.6" r="1.25"/><circle cx="240.6" cy="232.9" r="1.25"/><circle cx="192.0" cy="228.4" r="1.25"/><circle cx="182.7" cy="215.9" r="1.25"/><circle cx="204.3" cy="233.4" r="1.25"/><circle cx="209.0" cy="227.8" r="1.25"/><circle cx="233.6" cy="225.2" r="1.25"/><circle cx="226.7" cy="231.3" r="1.25"/><circle cx="234.5" cy="221.0" r="1.25"/><circle cx="192.7" cy="231.2" r="1.25"/><circle cx="234.4" cy="236.8" r="1.25"/><circle cx="187.3" cy="239.8" r="1.25"/><circle cx="221.0" cy="237.6" r="1.25"/><circle cx="201.1" cy="232.6" r="1.25"/><circle cx="217.0" cy="216.1" r="1.25"/><circle cx="104.0" cy="229.8" r="1.25"/><circle cx="203.6" cy="234.7" r="1.25"/><circle cx="163.2" cy="238.6" r="1.25"/><circle cx="190.6" cy="226.2" r="1.25"/><circle cx="130.3" cy="224.6" r="1.25"/><circle cx="231.5" cy="224.9" r="1.25"/><circle cx="282.3" cy="221.1" r="1.25"/><circle cx="185.0" cy="225.2" r="1.25"/><circle cx="136.4" cy="235.7" r="1.25"/><circle cx="227.3" cy="216.3" r="1.25"/><circle cx="140.7" cy="213.8" r="1.25"/><circle cx="285.2" cy="215.7" r="1.25"/><circle cx="138.9" cy="221.8" r="1.25"/><circle cx="184.9" cy="220.3" r="1.25"/><circle cx="206.6" cy="214.2" r="1.25"/><circle cx="139.8" cy="228.8" r="1.25"/><circle cx="180.2" cy="219.2" r="1.25"/><circle cx="172.6" cy="230.4" r="1.25"/><circle cx="238.7" cy="222.6" r="1.25"/><circle cx="321.6" cy="237.9" r="1.25"/><circle cx="186.5" cy="236.0" r="1.25"/><circle cx="254.7" cy="228.7" r="1.25"/><circle cx="142.8" cy="231.8" r="1.25"/><circle cx="220.2" cy="233.0" r="1.25"/><circle cx="194.5" cy="222.3" r="1.25"/><circle cx="178.5" cy="224.2" r="1.25"/><circle cx="265.4" cy="238.6" r="1.25"/><circle cx="244.8" cy="216.4" r="1.25"/><circle cx="144.1" cy="231.4" r="1.25"/><circle cx="175.7" cy="236.7" r="1.25"/><circle cx="263.6" cy="215.2" r="1.25"/><circle cx="324.5" cy="219.8" r="1.25"/><circle cx="225.6" cy="235.4" r="1.25"/><circle cx="271.5" cy="214.3" r="1.25"/><circle cx="322.4" cy="224.6" r="1.25"/><circle cx="244.1" cy="235.5" r="1.25"/><circle cx="231.9" cy="239.4" r="1.25"/><circle cx="163.5" cy="213.8" r="1.25"/><circle cx="184.7" cy="229.3" r="1.25"/><circle cx="227.2" cy="215.9" r="1.25"/><circle cx="292.8" cy="224.2" r="1.25"/><circle cx="176.2" cy="220.8" r="1.25"/><circle cx="190.1" cy="220.0" r="1.25"/><circle cx="102.2" cy="228.4" r="1.25"/><circle cx="239.3" cy="232.7" r="1.25"/><circle cx="201.5" cy="239.0" r="1.25"/><circle cx="258.1" cy="237.2" r="1.25"/><circle cx="166.5" cy="231.3" r="1.25"/><circle cx="231.4" cy="224.3" r="1.25"/><circle cx="234.5" cy="230.5" r="1.25"/><circle cx="199.0" cy="227.8" r="1.25"/><circle cx="155.4" cy="219.7" r="1.25"/><circle cx="191.8" cy="239.6" r="1.25"/><circle cx="246.8" cy="220.6" r="1.25"/><circle cx="155.6" cy="227.5" r="1.25"/><circle cx="132.9" cy="223.8" r="1.25"/><circle cx="202.2" cy="232.6" r="1.25"/><circle cx="167.3" cy="230.2" r="1.25"/><circle cx="259.3" cy="231.7" r="1.25"/><circle cx="265.8" cy="238.9" r="1.25"/><circle cx="304.7" cy="236.6" r="1.25"/><circle cx="266.7" cy="225.7" r="1.25"/><circle cx="231.2" cy="221.5" r="1.25"/><circle cx="157.9" cy="215.2" r="1.25"/><circle cx="262.3" cy="224.3" r="1.25"/><circle cx="242.3" cy="225.0" r="1.25"/><circle cx="243.1" cy="236.6" r="1.25"/><circle cx="238.7" cy="223.8" r="1.25"/><circle cx="265.2" cy="228.6" r="1.25"/><circle cx="174.5" cy="219.5" r="1.25"/><circle cx="235.3" cy="219.0" r="1.25"/><circle cx="209.3" cy="230.3" r="1.25"/><circle cx="181.5" cy="220.9" r="1.25"/><circle cx="181.8" cy="230.6" r="1.25"/><circle cx="145.4" cy="221.0" r="1.25"/><circle cx="204.8" cy="237.1" r="1.25"/><circle cx="184.2" cy="222.9" r="1.25"/><circle cx="194.6" cy="232.2" r="1.25"/><circle cx="270.1" cy="215.2" r="1.25"/><circle cx="236.5" cy="232.2" r="1.25"/><circle cx="233.3" cy="238.1" r="1.25"/><circle cx="320.8" cy="234.7" r="1.25"/><circle cx="160.1" cy="225.8" r="1.25"/><circle cx="210.6" cy="237.5" r="1.25"/><circle cx="134.8" cy="228.2" r="1.25"/><circle cx="189.0" cy="225.1" r="1.25"/><circle cx="301.8" cy="240.2" r="1.25"/><circle cx="129.2" cy="224.5" r="1.25"/><circle cx="248.6" cy="234.1" r="1.25"/><circle cx="271.4" cy="235.4" r="1.25"/><circle cx="211.4" cy="225.3" r="1.25"/><circle cx="259.9" cy="224.3" r="1.25"/><circle cx="199.1" cy="224.8" r="1.25"/><circle cx="184.2" cy="216.0" r="1.25"/><circle cx="210.2" cy="235.6" r="1.25"/><circle cx="155.9" cy="227.0" r="1.25"/><circle cx="179.0" cy="235.7" r="1.25"/><circle cx="178.6" cy="231.7" r="1.25"/><circle cx="322.2" cy="229.2" r="1.25"/><circle cx="182.0" cy="226.1" r="1.25"/><circle cx="161.5" cy="220.0" r="1.25"/><circle cx="295.5" cy="223.5" r="1.25"/><circle cx="144.1" cy="228.4" r="1.25"/><circle cx="310.5" cy="235.4" r="1.25"/><circle cx="266.4" cy="238.5" r="1.25"/><circle cx="230.6" cy="228.5" r="1.25"/><circle cx="195.6" cy="235.6" r="1.25"/><circle cx="155.0" cy="214.1" r="1.25"/><circle cx="138.1" cy="221.6" r="1.25"/><circle cx="132.7" cy="228.0" r="1.25"/><circle cx="184.1" cy="239.8" r="1.25"/><circle cx="196.9" cy="216.3" r="1.25"/><circle cx="293.9" cy="227.9" r="1.25"/><circle cx="211.4" cy="233.3" r="1.25"/><circle cx="324.1" cy="216.8" r="1.25"/><circle cx="242.0" cy="226.4" r="1.25"/><circle cx="146.2" cy="223.6" r="1.25"/><circle cx="214.7" cy="237.5" r="1.25"/><circle cx="147.8" cy="215.5" r="1.25"/><circle cx="114.9" cy="226.9" r="1.25"/><circle cx="303.9" cy="214.9" r="1.25"/><circle cx="183.3" cy="237.5" r="1.25"/><circle cx="155.0" cy="226.4" r="1.25"/><circle cx="131.3" cy="227.8" r="1.25"/><circle cx="227.9" cy="237.3" r="1.25"/><circle cx="199.3" cy="231.5" r="1.25"/><circle cx="100.1" cy="222.2" r="1.25"/><circle cx="238.2" cy="238.0" r="1.25"/><circle cx="164.8" cy="220.5" r="1.25"/><circle cx="253.2" cy="229.2" r="1.25"/><circle cx="205.1" cy="216.7" r="1.25"/><circle cx="210.9" cy="233.0" r="1.25"/><circle cx="201.9" cy="226.7" r="1.25"/><circle cx="233.8" cy="214.0" r="1.25"/><circle cx="321.9" cy="230.4" r="1.25"/><circle cx="258.6" cy="239.2" r="1.25"/><circle cx="122.0" cy="235.4" r="1.25"/><circle cx="206.8" cy="237.6" r="1.25"/><circle cx="169.1" cy="220.0" r="1.25"/><circle cx="135.2" cy="224.4" r="1.25"/><circle cx="158.2" cy="239.0" r="1.25"/><circle cx="167.5" cy="229.2" r="1.25"/><circle cx="305.2" cy="229.6" r="1.25"/><circle cx="243.1" cy="224.0" r="1.25"/><circle cx="268.0" cy="239.6" r="1.25"/><circle cx="240.2" cy="233.0" r="1.25"/><circle cx="179.9" cy="221.8" r="1.25"/><circle cx="193.0" cy="216.9" r="1.25"/><circle cx="203.1" cy="225.1" r="1.25"/><circle cx="176.2" cy="227.4" r="1.25"/><circle cx="195.8" cy="226.2" r="1.25"/><circle cx="253.7" cy="232.4" r="1.25"/><circle cx="127.2" cy="218.1" r="1.25"/><circle cx="171.5" cy="216.0" r="1.25"/><circle cx="205.4" cy="226.8" r="1.25"/><circle cx="236.1" cy="216.6" r="1.25"/><circle cx="229.4" cy="234.5" r="1.25"/><circle cx="243.6" cy="235.9" r="1.25"/><circle cx="139.1" cy="214.8" r="1.25"/><circle cx="151.9" cy="234.1" r="1.25"/><circle cx="176.8" cy="231.6" r="1.25"/><circle cx="174.2" cy="231.7" r="1.25"/><circle cx="249.4" cy="236.2" r="1.25"/><circle cx="326.3" cy="214.0" r="1.25"/><circle cx="233.6" cy="229.5" r="1.25"/><circle cx="111.1" cy="229.8" r="1.25"/><circle cx="175.6" cy="240.1" r="1.25"/><circle cx="258.4" cy="219.8" r="1.25"/><circle cx="293.0" cy="222.9" r="1.25"/><circle cx="218.3" cy="232.7" r="1.25"/><circle cx="187.3" cy="239.6" r="1.25"/><circle cx="184.6" cy="237.9" r="1.25"/><circle cx="226.5" cy="220.4" r="1.25"/><circle cx="273.3" cy="230.5" r="1.25"/><circle cx="180.6" cy="216.6" r="1.25"/><circle cx="159.0" cy="218.1" r="1.25"/><circle cx="94.4" cy="225.3" r="1.25"/><circle cx="144.8" cy="228.6" r="1.25"/><circle cx="268.2" cy="239.7" r="1.25"/><circle cx="224.3" cy="233.0" r="1.25"/><circle cx="320.5" cy="233.8" r="1.25"/><circle cx="124.7" cy="235.7" r="1.25"/><circle cx="186.3" cy="219.6" r="1.25"/><circle cx="259.5" cy="237.9" r="1.25"/><circle cx="229.0" cy="214.2" r="1.25"/><circle cx="122.0" cy="238.5" r="1.25"/><circle cx="188.8" cy="215.1" r="1.25"/><circle cx="223.1" cy="237.4" r="1.25"/><circle cx="234.2" cy="232.1" r="1.25"/><circle cx="201.9" cy="225.2" r="1.25"/><circle cx="158.5" cy="226.0" r="1.25"/><circle cx="312.3" cy="221.9" r="1.25"/><circle cx="198.5" cy="229.5" r="1.25"/><circle cx="238.4" cy="221.0" r="1.25"/><circle cx="212.4" cy="223.3" r="1.25"/><circle cx="126.4" cy="230.5" r="1.25"/><circle cx="167.2" cy="215.2" r="1.25"/><circle cx="122.8" cy="230.0" r="1.25"/><circle cx="156.3" cy="239.9" r="1.25"/><circle cx="158.8" cy="227.1" r="1.25"/><circle cx="198.0" cy="214.6" r="1.25"/><circle cx="180.2" cy="238.0" r="1.25"/><circle cx="186.4" cy="218.2" r="1.25"/><circle cx="264.1" cy="233.1" r="1.25"/><circle cx="104.6" cy="214.9" r="1.25"/><circle cx="130.9" cy="224.5" r="1.25"/><circle cx="256.6" cy="215.9" r="1.25"/><circle cx="211.2" cy="225.4" r="1.25"/><circle cx="198.9" cy="237.0" r="1.25"/><circle cx="171.2" cy="237.2" r="1.25"/><circle cx="215.9" cy="230.2" r="1.25"/><circle cx="161.8" cy="231.6" r="1.25"/><circle cx="272.2" cy="220.5" r="1.25"/><circle cx="265.5" cy="219.1" r="1.25"/><circle cx="181.0" cy="233.5" r="1.25"/><circle cx="108.2" cy="223.4" r="1.25"/><circle cx="280.2" cy="219.2" r="1.25"/><circle cx="175.4" cy="237.3" r="1.25"/><circle cx="228.8" cy="222.5" r="1.25"/><circle cx="275.3" cy="222.2" r="1.25"/><circle cx="261.3" cy="235.5" r="1.25"/><circle cx="275.1" cy="219.7" r="1.25"/><circle cx="204.3" cy="233.7" r="1.25"/><circle cx="270.1" cy="219.7" r="1.25"/><circle cx="199.4" cy="220.2" r="1.25"/><circle cx="170.1" cy="224.9" r="1.25"/><circle cx="205.7" cy="230.4" r="1.25"/><circle cx="179.4" cy="218.8" r="1.25"/><circle cx="247.4" cy="220.9" r="1.25"/><circle cx="262.2" cy="238.6" r="1.25"/><circle cx="142.2" cy="217.4" r="1.25"/><circle cx="153.3" cy="239.6" r="1.25"/><circle cx="192.6" cy="230.9" r="1.25"/><circle cx="200.3" cy="224.4" r="1.25"/><circle cx="306.3" cy="235.1" r="1.25"/><circle cx="299.1" cy="226.7" r="1.25"/><circle cx="313.8" cy="231.0" r="1.25"/><circle cx="245.3" cy="220.8" r="1.25"/><circle cx="233.5" cy="219.8" r="1.25"/><circle cx="173.8" cy="235.0" r="1.25"/><circle cx="188.3" cy="235.6" r="1.25"/><circle cx="95.9" cy="225.3" r="1.25"/><circle cx="265.0" cy="218.1" r="1.25"/><circle cx="172.6" cy="214.8" r="1.25"/><circle cx="130.6" cy="237.1" r="1.25"/><circle cx="179.9" cy="234.1" r="1.25"/><circle cx="183.1" cy="214.8" r="1.25"/><circle cx="244.7" cy="224.9" r="1.25"/><circle cx="95.0" cy="237.3" r="1.25"/><circle cx="163.3" cy="219.3" r="1.25"/><circle cx="283.3" cy="228.6" r="1.25"/><circle cx="266.2" cy="217.2" r="1.25"/><circle cx="224.4" cy="218.4" r="1.25"/><circle cx="214.1" cy="231.7" r="1.25"/><circle cx="164.4" cy="225.9" r="1.25"/><circle cx="278.9" cy="234.0" r="1.25"/><circle cx="250.1" cy="231.2" r="1.25"/><circle cx="208.1" cy="236.8" r="1.25"/><circle cx="146.0" cy="218.5" r="1.25"/><circle cx="162.2" cy="229.3" r="1.25"/><circle cx="192.4" cy="221.5" r="1.25"/><circle cx="183.7" cy="230.4" r="1.25"/><circle cx="125.2" cy="226.4" r="1.25"/><circle cx="194.0" cy="214.0" r="1.25"/><circle cx="201.5" cy="225.0" r="1.25"/><circle cx="176.4" cy="222.4" r="1.25"/><circle cx="189.6" cy="226.3" r="1.25"/><circle cx="180.3" cy="237.4" r="1.25"/><circle cx="189.6" cy="239.4" r="1.25"/><circle cx="226.8" cy="223.9" r="1.25"/><circle cx="207.0" cy="229.1" r="1.25"/><circle cx="157.2" cy="235.3" r="1.25"/><circle cx="260.5" cy="219.1" r="1.25"/><circle cx="212.5" cy="214.6" r="1.25"/><circle cx="198.5" cy="226.6" r="1.25"/><circle cx="238.6" cy="224.9" r="1.25"/><circle cx="249.1" cy="226.2" r="1.25"/><circle cx="270.5" cy="238.1" r="1.25"/><circle cx="258.2" cy="221.4" r="1.25"/><circle cx="230.6" cy="219.0" r="1.25"/><circle cx="239.1" cy="232.8" r="1.25"/><circle cx="145.3" cy="234.2" r="1.25"/><circle cx="240.7" cy="224.0" r="1.25"/><circle cx="165.8" cy="228.1" r="1.25"/><circle cx="170.9" cy="235.5" r="1.25"/><circle cx="138.4" cy="221.9" r="1.25"/><circle cx="192.7" cy="229.9" r="1.25"/><circle cx="102.4" cy="224.7" r="1.25"/><circle cx="229.8" cy="238.8" r="1.25"/><circle cx="248.4" cy="225.6" r="1.25"/><circle cx="256.4" cy="225.0" r="1.25"/><circle cx="144.4" cy="216.3" r="1.25"/><circle cx="229.4" cy="218.6" r="1.25"/><circle cx="270.4" cy="228.4" r="1.25"/><circle cx="112.5" cy="216.2" r="1.25"/><circle cx="157.0" cy="216.3" r="1.25"/><circle cx="171.8" cy="233.1" r="1.25"/><circle cx="199.9" cy="218.2" r="1.25"/><circle cx="151.8" cy="218.1" r="1.25"/><circle cx="212.2" cy="216.3" r="1.25"/><circle cx="187.5" cy="222.6" r="1.25"/><circle cx="231.0" cy="234.2" r="1.25"/><circle cx="208.8" cy="233.8" r="1.25"/><circle cx="236.9" cy="228.8" r="1.25"/><circle cx="167.7" cy="222.3" r="1.25"/><circle cx="238.0" cy="233.5" r="1.25"/><circle cx="245.9" cy="219.2" r="1.25"/><circle cx="237.7" cy="223.1" r="1.25"/><circle cx="124.1" cy="223.4" r="1.25"/><circle cx="304.7" cy="234.8" r="1.25"/><circle cx="222.2" cy="229.7" r="1.25"/><circle cx="173.1" cy="239.0" r="1.25"/><circle cx="193.8" cy="229.0" r="1.25"/><circle cx="209.0" cy="234.8" r="1.25"/><circle cx="209.2" cy="233.4" r="1.25"/><circle cx="166.2" cy="231.0" r="1.25"/><circle cx="172.7" cy="237.9" r="1.25"/><circle cx="188.2" cy="225.3" r="1.25"/><circle cx="255.0" cy="218.6" r="1.25"/><circle cx="198.9" cy="232.7" r="1.25"/><circle cx="115.8" cy="233.6" r="1.25"/><circle cx="200.9" cy="230.4" r="1.25"/><circle cx="158.5" cy="228.8" r="1.25"/><circle cx="98.6" cy="236.3" r="1.25"/><circle cx="316.3" cy="237.7" r="1.25"/><circle cx="178.1" cy="234.8" r="1.25"/><circle cx="212.1" cy="239.9" r="1.25"/><circle cx="188.7" cy="227.0" r="1.25"/><circle cx="118.1" cy="233.2" r="1.25"/><circle cx="285.3" cy="230.5" r="1.25"/><circle cx="295.3" cy="214.7" r="1.25"/><circle cx="157.2" cy="234.7" r="1.25"/><circle cx="197.9" cy="223.7" r="1.25"/><circle cx="191.3" cy="227.3" r="1.25"/><circle cx="150.5" cy="213.7" r="1.25"/><circle cx="230.0" cy="227.1" r="1.25"/><circle cx="255.8" cy="218.5" r="1.25"/><circle cx="250.9" cy="220.9" r="1.25"/><circle cx="234.9" cy="232.5" r="1.25"/><circle cx="102.4" cy="238.9" r="1.25"/><circle cx="164.4" cy="239.5" r="1.25"/><circle cx="208.1" cy="230.8" r="1.25"/><circle cx="240.4" cy="237.1" r="1.25"/><circle cx="189.7" cy="217.0" r="1.25"/><circle cx="202.4" cy="220.7" r="1.25"/><circle cx="266.5" cy="216.1" r="1.25"/><circle cx="104.8" cy="228.0" r="1.25"/><circle cx="173.0" cy="235.2" r="1.25"/><circle cx="174.3" cy="238.5" r="1.25"/><circle cx="328.4" cy="238.5" r="1.25"/><circle cx="163.5" cy="223.9" r="1.25"/><circle cx="117.4" cy="238.0" r="1.25"/><circle cx="195.6" cy="226.7" r="1.25"/><circle cx="230.8" cy="232.0" r="1.25"/><circle cx="148.6" cy="230.3" r="1.25"/><circle cx="268.6" cy="234.1" r="1.25"/><circle cx="156.8" cy="220.7" r="1.25"/><circle cx="241.5" cy="236.2" r="1.25"/><circle cx="148.7" cy="218.2" r="1.25"/><circle cx="276.0" cy="238.2" r="1.25"/><circle cx="159.5" cy="220.9" r="1.25"/><circle cx="245.0" cy="214.2" r="1.25"/><circle cx="268.1" cy="232.4" r="1.25"/><circle cx="166.3" cy="235.2" r="1.25"/><circle cx="135.2" cy="217.3" r="1.25"/><circle cx="221.1" cy="223.7" r="1.25"/><circle cx="204.1" cy="223.0" r="1.25"/><circle cx="205.6" cy="237.5" r="1.25"/><circle cx="255.3" cy="213.8" r="1.25"/><circle cx="198.7" cy="240.1" r="1.25"/><circle cx="206.0" cy="229.9" r="1.25"/><circle cx="205.0" cy="235.8" r="1.25"/><circle cx="201.1" cy="229.5" r="1.25"/><circle cx="194.8" cy="234.4" r="1.25"/><circle cx="146.3" cy="217.4" r="1.25"/><circle cx="177.2" cy="235.8" r="1.25"/><circle cx="170.8" cy="221.7" r="1.25"/><circle cx="165.3" cy="229.7" r="1.25"/><circle cx="255.4" cy="217.0" r="1.25"/><circle cx="138.2" cy="228.1" r="1.25"/><circle cx="155.4" cy="227.8" r="1.25"/><circle cx="209.4" cy="219.0" r="1.25"/><circle cx="183.9" cy="216.1" r="1.25"/><circle cx="166.3" cy="230.2" r="1.25"/><circle cx="190.7" cy="214.2" r="1.25"/><circle cx="207.5" cy="220.1" r="1.25"/><circle cx="234.3" cy="237.9" r="1.25"/><circle cx="314.4" cy="238.0" r="1.25"/><circle cx="268.1" cy="233.5" r="1.25"/><circle cx="197.7" cy="218.9" r="1.25"/><circle cx="203.1" cy="216.4" r="1.25"/><circle cx="196.8" cy="220.1" r="1.25"/><circle cx="165.6" cy="217.4" r="1.25"/><circle cx="304.6" cy="217.1" r="1.25"/><circle cx="125.5" cy="218.1" r="1.25"/><circle cx="156.5" cy="219.3" r="1.25"/><circle cx="232.2" cy="216.2" r="1.25"/><circle cx="222.0" cy="221.7" r="1.25"/><circle cx="174.0" cy="233.7" r="1.25"/><circle cx="296.4" cy="227.3" r="1.25"/><circle cx="194.4" cy="224.5" r="1.25"/><circle cx="217.9" cy="231.8" r="1.25"/><circle cx="133.6" cy="220.9" r="1.25"/><circle cx="280.7" cy="238.7" r="1.25"/><circle cx="131.3" cy="222.4" r="1.25"/><circle cx="188.9" cy="223.9" r="1.25"/><circle cx="277.8" cy="227.9" r="1.25"/><circle cx="301.6" cy="220.3" r="1.25"/><circle cx="284.5" cy="221.1" r="1.25"/><circle cx="262.9" cy="226.8" r="1.25"/><circle cx="165.9" cy="233.0" r="1.25"/><circle cx="107.0" cy="222.3" r="1.25"/><circle cx="200.5" cy="220.6" r="1.25"/><circle cx="125.1" cy="223.1" r="1.25"/><circle cx="306.9" cy="226.2" r="1.25"/><circle cx="100.9" cy="219.5" r="1.25"/><circle cx="183.1" cy="238.9" r="1.25"/><circle cx="156.2" cy="218.2" r="1.25"/><circle cx="100.7" cy="222.0" r="1.25"/><circle cx="204.4" cy="215.8" r="1.25"/><circle cx="128.9" cy="238.6" r="1.25"/><circle cx="284.9" cy="229.4" r="1.25"/><circle cx="234.4" cy="239.7" r="1.25"/><circle cx="187.1" cy="239.1" r="1.25"/><circle cx="269.5" cy="232.2" r="1.25"/><circle cx="259.9" cy="217.0" r="1.25"/><circle cx="180.3" cy="215.5" r="1.25"/><circle cx="270.7" cy="240.2" r="1.25"/><circle cx="293.3" cy="217.8" r="1.25"/><circle cx="223.2" cy="225.6" r="1.25"/><circle cx="185.8" cy="218.9" r="1.25"/><circle cx="281.1" cy="230.9" r="1.25"/><circle cx="303.8" cy="215.4" r="1.25"/><circle cx="185.4" cy="221.7" r="1.25"/><circle cx="128.5" cy="229.8" r="1.25"/><circle cx="273.0" cy="236.7" r="1.25"/><circle cx="229.4" cy="221.8" r="1.25"/><circle cx="163.5" cy="236.1" r="1.25"/><circle cx="217.2" cy="218.2" r="1.25"/><circle cx="175.2" cy="226.0" r="1.25"/><circle cx="295.0" cy="230.2" r="1.25"/><circle cx="182.1" cy="222.4" r="1.25"/><circle cx="159.7" cy="218.6" r="1.25"/><circle cx="114.1" cy="231.7" r="1.25"/><circle cx="187.9" cy="235.3" r="1.25"/><circle cx="321.2" cy="220.9" r="1.25"/><circle cx="164.5" cy="228.4" r="1.25"/><circle cx="199.8" cy="217.4" r="1.25"/><circle cx="313.6" cy="236.3" r="1.25"/><circle cx="94.8" cy="223.9" r="1.25"/><circle cx="177.5" cy="239.8" r="1.25"/><circle cx="264.1" cy="234.6" r="1.25"/><circle cx="135.0" cy="233.8" r="1.25"/><circle cx="292.7" cy="218.4" r="1.25"/><circle cx="264.7" cy="235.8" r="1.25"/><circle cx="149.9" cy="217.8" r="1.25"/><circle cx="218.3" cy="230.6" r="1.25"/><circle cx="217.0" cy="215.7" r="1.25"/><circle cx="235.3" cy="220.8" r="1.25"/><circle cx="179.1" cy="223.3" r="1.25"/><circle cx="189.2" cy="234.5" r="1.25"/><circle cx="166.0" cy="224.8" r="1.25"/><circle cx="174.9" cy="222.5" r="1.25"/><circle cx="150.7" cy="220.5" r="1.25"/><circle cx="283.5" cy="221.7" r="1.25"/><circle cx="279.0" cy="237.7" r="1.25"/><circle cx="186.7" cy="214.5" r="1.25"/><circle cx="236.9" cy="219.0" r="1.25"/><circle cx="205.0" cy="227.7" r="1.25"/><circle cx="172.4" cy="222.8" r="1.25"/><circle cx="186.1" cy="230.4" r="1.25"/><circle cx="311.9" cy="221.2" r="1.25"/><circle cx="181.1" cy="223.9" r="1.25"/><circle cx="219.2" cy="229.7" r="1.25"/><circle cx="302.5" cy="224.6" r="1.25"/><circle cx="177.7" cy="235.3" r="1.25"/><circle cx="259.6" cy="222.8" r="1.25"/><circle cx="140.1" cy="216.5" r="1.25"/><circle cx="245.9" cy="224.9" r="1.25"/><circle cx="258.4" cy="236.1" r="1.25"/><circle cx="269.3" cy="239.6" r="1.25"/><circle cx="318.8" cy="216.8" r="1.25"/><circle cx="239.6" cy="234.1" r="1.25"/><circle cx="314.9" cy="228.1" r="1.25"/><circle cx="174.2" cy="220.1" r="1.25"/><circle cx="208.7" cy="221.4" r="1.25"/><circle cx="161.4" cy="221.3" r="1.25"/><circle cx="128.0" cy="235.9" r="1.25"/><circle cx="200.9" cy="229.4" r="1.25"/><circle cx="237.7" cy="215.4" r="1.25"/><circle cx="256.2" cy="222.9" r="1.25"/><circle cx="106.3" cy="222.6" r="1.25"/><circle cx="303.1" cy="231.3" r="1.25"/><circle cx="165.0" cy="215.6" r="1.25"/><circle cx="176.4" cy="217.1" r="1.25"/><circle cx="262.7" cy="218.9" r="1.25"/><circle cx="282.2" cy="225.8" r="1.25"/><circle cx="243.5" cy="222.6" r="1.25"/><circle cx="181.5" cy="231.9" r="1.25"/><circle cx="198.6" cy="240.2" r="1.25"/><circle cx="263.4" cy="238.3" r="1.25"/><circle cx="184.0" cy="215.2" r="1.25"/><circle cx="257.0" cy="238.0" r="1.25"/><circle cx="253.6" cy="236.2" r="1.25"/><circle cx="201.8" cy="216.0" r="1.25"/><circle cx="282.4" cy="222.5" r="1.25"/><circle cx="191.0" cy="233.8" r="1.25"/><circle cx="247.2" cy="238.3" r="1.25"/><circle cx="229.8" cy="223.4" r="1.25"/><circle cx="182.5" cy="221.1" r="1.25"/><circle cx="211.6" cy="224.8" r="1.25"/><circle cx="220.1" cy="218.7" r="1.25"/><circle cx="209.1" cy="236.6" r="1.25"/><circle cx="138.4" cy="224.9" r="1.25"/><circle cx="327.9" cy="238.0" r="1.25"/><circle cx="310.4" cy="240.2" r="1.25"/><circle cx="111.5" cy="230.0" r="1.25"/><circle cx="301.3" cy="220.4" r="1.25"/><circle cx="210.5" cy="229.8" r="1.25"/><circle cx="142.5" cy="232.7" r="1.25"/><circle cx="265.9" cy="218.2" r="1.25"/><circle cx="194.8" cy="229.9" r="1.25"/><circle cx="239.1" cy="222.1" r="1.25"/><circle cx="263.8" cy="232.2" r="1.25"/><circle cx="212.5" cy="238.7" r="1.25"/><circle cx="120.2" cy="222.9" r="1.25"/><circle cx="265.6" cy="232.6" r="1.25"/><circle cx="233.1" cy="239.1" r="1.25"/><circle cx="286.7" cy="231.8" r="1.25"/><circle cx="172.8" cy="237.9" r="1.25"/><circle cx="254.9" cy="239.9" r="1.25"/><circle cx="271.3" cy="214.7" r="1.25"/><circle cx="184.9" cy="229.0" r="1.25"/><circle cx="195.7" cy="215.9" r="1.25"/><circle cx="180.1" cy="229.1" r="1.25"/><circle cx="94.0" cy="234.0" r="1.25"/><circle cx="162.0" cy="237.0" r="1.25"/><circle cx="182.8" cy="226.9" r="1.25"/><circle cx="137.3" cy="219.4" r="1.25"/><circle cx="248.2" cy="223.1" r="1.25"/><circle cx="195.4" cy="218.5" r="1.25"/><circle cx="215.2" cy="216.7" r="1.25"/><circle cx="178.5" cy="228.3" r="1.25"/><circle cx="184.4" cy="222.4" r="1.25"/><circle cx="248.0" cy="217.9" r="1.25"/><circle cx="205.6" cy="218.6" r="1.25"/><circle cx="218.5" cy="232.4" r="1.25"/><circle cx="195.7" cy="231.6" r="1.25"/><circle cx="215.2" cy="227.1" r="1.25"/><circle cx="282.2" cy="225.0" r="1.25"/><circle cx="171.8" cy="222.8" r="1.25"/><circle cx="212.1" cy="220.3" r="1.25"/><circle cx="233.4" cy="222.9" r="1.25"/><circle cx="129.7" cy="236.2" r="1.25"/><circle cx="307.6" cy="223.3" r="1.25"/><circle cx="206.4" cy="235.7" r="1.25"/><circle cx="165.8" cy="231.5" r="1.25"/><circle cx="250.2" cy="224.1" r="1.25"/><circle cx="262.0" cy="229.9" r="1.25"/><circle cx="223.6" cy="223.5" r="1.25"/><circle cx="288.1" cy="239.3" r="1.25"/><circle cx="131.5" cy="215.7" r="1.25"/><circle cx="210.7" cy="238.8" r="1.25"/><circle cx="242.2" cy="230.8" r="1.25"/><circle cx="285.6" cy="228.4" r="1.25"/><circle cx="228.0" cy="231.2" r="1.25"/><circle cx="219.5" cy="231.1" r="1.25"/><circle cx="190.0" cy="215.7" r="1.25"/><circle cx="213.8" cy="221.0" r="1.25"/><circle cx="213.8" cy="219.0" r="1.25"/><circle cx="288.1" cy="225.3" r="1.25"/><circle cx="265.3" cy="226.9" r="1.25"/><circle cx="244.6" cy="232.6" r="1.25"/><circle cx="294.5" cy="229.3" r="1.25"/><circle cx="121.2" cy="225.9" r="1.25"/><circle cx="247.0" cy="229.8" r="1.25"/><circle cx="198.8" cy="228.1" r="1.25"/><circle cx="247.5" cy="236.5" r="1.25"/><circle cx="174.7" cy="231.2" r="1.25"/><circle cx="201.8" cy="221.0" r="1.25"/><circle cx="264.2" cy="222.5" r="1.25"/><circle cx="112.7" cy="220.6" r="1.25"/><circle cx="174.3" cy="231.6" r="1.25"/><circle cx="203.6" cy="218.9" r="1.25"/><circle cx="266.6" cy="235.1" r="1.25"/><circle cx="172.0" cy="226.1" r="1.25"/><circle cx="264.1" cy="235.2" r="1.25"/><circle cx="167.6" cy="227.4" r="1.25"/><circle cx="175.8" cy="227.4" r="1.25"/><circle cx="217.7" cy="228.9" r="1.25"/><circle cx="229.8" cy="237.3" r="1.25"/><circle cx="276.1" cy="215.4" r="1.25"/><circle cx="279.6" cy="238.8" r="1.25"/><circle cx="164.8" cy="214.3" r="1.25"/><circle cx="242.0" cy="229.0" r="1.25"/><circle cx="223.3" cy="228.6" r="1.25"/><circle cx="192.0" cy="214.1" r="1.25"/><circle cx="255.8" cy="220.4" r="1.25"/><circle cx="283.3" cy="223.1" r="1.25"/><circle cx="204.9" cy="224.4" r="1.25"/><circle cx="285.5" cy="225.1" r="1.25"/><circle cx="141.7" cy="223.2" r="1.25"/><circle cx="150.9" cy="222.6" r="1.25"/><circle cx="250.2" cy="239.9" r="1.25"/><circle cx="175.2" cy="236.8" r="1.25"/><circle cx="220.8" cy="216.4" r="1.25"/><circle cx="203.4" cy="237.2" r="1.25"/><circle cx="146.4" cy="216.5" r="1.25"/><circle cx="250.0" cy="232.5" r="1.25"/><circle cx="246.3" cy="227.0" r="1.25"/><circle cx="146.8" cy="222.2" r="1.25"/><circle cx="170.4" cy="230.6" r="1.25"/><circle cx="261.0" cy="216.0" r="1.25"/><circle cx="287.4" cy="223.1" r="1.25"/><circle cx="271.4" cy="229.5" r="1.25"/><circle cx="208.0" cy="221.1" r="1.25"/><circle cx="187.5" cy="237.7" r="1.25"/><circle cx="199.8" cy="238.1" r="1.25"/><circle cx="153.7" cy="230.9" r="1.25"/><circle cx="204.2" cy="221.1" r="1.25"/><circle cx="160.2" cy="237.5" r="1.25"/><circle cx="149.2" cy="216.0" r="1.25"/><circle cx="191.3" cy="219.4" r="1.25"/><circle cx="124.8" cy="228.9" r="1.25"/><circle cx="207.9" cy="233.0" r="1.25"/><circle cx="232.8" cy="223.6" r="1.25"/><circle cx="230.2" cy="238.0" r="1.25"/><circle cx="316.3" cy="218.7" r="1.25"/><circle cx="277.2" cy="220.3" r="1.25"/><circle cx="223.4" cy="222.8" r="1.25"/><circle cx="281.9" cy="227.3" r="1.25"/><circle cx="202.8" cy="239.1" r="1.25"/><circle cx="257.2" cy="228.8" r="1.25"/><circle cx="177.5" cy="217.8" r="1.25"/><circle cx="210.7" cy="219.0" r="1.25"/><circle cx="316.3" cy="222.3" r="1.25"/><circle cx="221.7" cy="219.9" r="1.25"/><circle cx="210.7" cy="229.3" r="1.25"/><circle cx="253.2" cy="238.4" r="1.25"/><circle cx="175.9" cy="222.4" r="1.25"/><circle cx="264.7" cy="226.7" r="1.25"/><circle cx="105.2" cy="217.8" r="1.25"/><circle cx="165.3" cy="233.3" r="1.25"/><circle cx="152.0" cy="236.5" r="1.25"/><circle cx="170.6" cy="220.1" r="1.25"/><circle cx="304.2" cy="223.3" r="1.25"/><circle cx="102.3" cy="219.6" r="1.25"/><circle cx="178.0" cy="220.8" r="1.25"/><circle cx="215.6" cy="235.9" r="1.25"/><circle cx="240.1" cy="233.7" r="1.25"/><circle cx="256.4" cy="221.7" r="1.25"/><circle cx="193.0" cy="228.4" r="1.25"/><circle cx="160.7" cy="217.2" r="1.25"/><circle cx="267.7" cy="217.4" r="1.25"/><circle cx="139.3" cy="228.5" r="1.25"/><circle cx="121.3" cy="237.1" r="1.25"/><circle cx="162.6" cy="225.5" r="1.25"/><circle cx="204.0" cy="226.2" r="1.25"/><circle cx="304.4" cy="229.2" r="1.25"/><circle cx="244.2" cy="229.9" r="1.25"/><circle cx="215.6" cy="230.3" r="1.25"/><circle cx="209.1" cy="217.7" r="1.25"/><circle cx="232.4" cy="235.8" r="1.25"/><circle cx="222.6" cy="220.5" r="1.25"/><circle cx="181.9" cy="227.0" r="1.25"/><circle cx="135.1" cy="219.4" r="1.25"/><circle cx="155.5" cy="218.0" r="1.25"/><circle cx="254.0" cy="221.4" r="1.25"/><circle cx="224.8" cy="232.0" r="1.25"/><circle cx="258.0" cy="231.4" r="1.25"/><circle cx="111.5" cy="228.2" r="1.25"/><circle cx="285.0" cy="238.5" r="1.25"/><circle cx="191.5" cy="239.9" r="1.25"/><circle cx="291.5" cy="221.6" r="1.25"/><circle cx="220.0" cy="227.2" r="1.25"/><circle cx="216.9" cy="225.6" r="1.25"/><circle cx="261.5" cy="232.3" r="1.25"/><circle cx="223.7" cy="237.2" r="1.25"/><circle cx="233.3" cy="221.6" r="1.25"/><circle cx="145.9" cy="221.7" r="1.25"/><circle cx="220.7" cy="220.8" r="1.25"/><circle cx="184.2" cy="229.3" r="1.25"/><circle cx="129.5" cy="216.6" r="1.25"/><circle cx="142.5" cy="215.5" r="1.25"/><circle cx="203.4" cy="223.7" r="1.25"/><circle cx="170.8" cy="237.0" r="1.25"/><circle cx="246.9" cy="230.9" r="1.25"/><circle cx="139.1" cy="224.8" r="1.25"/><circle cx="99.3" cy="220.3" r="1.25"/><circle cx="325.4" cy="215.1" r="1.25"/><circle cx="183.5" cy="214.5" r="1.25"/><circle cx="208.8" cy="233.0" r="1.25"/><circle cx="162.0" cy="227.3" r="1.25"/><circle cx="161.2" cy="218.0" r="1.25"/><circle cx="192.6" cy="217.0" r="1.25"/><circle cx="253.1" cy="233.7" r="1.25"/><circle cx="112.8" cy="239.0" r="1.25"/><circle cx="267.0" cy="227.7" r="1.25"/><circle cx="321.9" cy="227.0" r="1.25"/><circle cx="216.7" cy="214.9" r="1.25"/><circle cx="186.6" cy="234.7" r="1.25"/><circle cx="164.8" cy="228.2" r="1.25"/><circle cx="152.2" cy="224.5" r="1.25"/><circle cx="181.7" cy="230.3" r="1.25"/><circle cx="269.6" cy="237.6" r="1.25"/><circle cx="95.2" cy="240.3" r="1.25"/><circle cx="254.9" cy="220.9" r="1.25"/><circle cx="228.2" cy="215.6" r="1.25"/><circle cx="103.0" cy="216.9" r="1.25"/><circle cx="124.4" cy="232.0" r="1.25"/><circle cx="244.9" cy="223.9" r="1.25"/><circle cx="234.5" cy="220.6" r="1.25"/><circle cx="183.5" cy="214.1" r="1.25"/><circle cx="272.5" cy="228.9" r="1.25"/><circle cx="160.6" cy="236.4" r="1.25"/><circle cx="195.9" cy="223.6" r="1.25"/><circle cx="135.9" cy="221.2" r="1.25"/><circle cx="230.3" cy="221.2" r="1.25"/><circle cx="131.0" cy="229.1" r="1.25"/><circle cx="151.6" cy="236.2" r="1.25"/><circle cx="250.2" cy="232.9" r="1.25"/><circle cx="207.6" cy="235.2" r="1.25"/><circle cx="229.1" cy="228.8" r="1.25"/><circle cx="243.2" cy="219.1" r="1.25"/><circle cx="218.8" cy="216.7" r="1.25"/><circle cx="156.1" cy="219.7" r="1.25"/><circle cx="240.4" cy="220.4" r="1.25"/><circle cx="135.8" cy="224.9" r="1.25"/><circle cx="170.4" cy="232.0" r="1.25"/><circle cx="199.5" cy="228.5" r="1.25"/><circle cx="136.4" cy="226.5" r="1.25"/><circle cx="139.8" cy="221.8" r="1.25"/><circle cx="230.0" cy="225.4" r="1.25"/><circle cx="242.3" cy="214.2" r="1.25"/><circle cx="188.0" cy="222.8" r="1.25"/><circle cx="192.1" cy="224.7" r="1.25"/><circle cx="159.0" cy="218.9" r="1.25"/><circle cx="210.5" cy="228.3" r="1.25"/><circle cx="221.6" cy="214.5" r="1.25"/><circle cx="296.9" cy="226.3" r="1.25"/><circle cx="114.2" cy="217.5" r="1.25"/><circle cx="288.1" cy="232.1" r="1.25"/><circle cx="322.9" cy="219.7" r="1.25"/><circle cx="186.1" cy="221.6" r="1.25"/><circle cx="243.8" cy="223.4" r="1.25"/><circle cx="265.9" cy="214.1" r="1.25"/><circle cx="232.0" cy="214.6" r="1.25"/><circle cx="174.6" cy="219.2" r="1.25"/><circle cx="224.0" cy="236.5" r="1.25"/><circle cx="279.9" cy="238.6" r="1.25"/><circle cx="137.5" cy="214.1" r="1.25"/><circle cx="206.3" cy="237.6" r="1.25"/><circle cx="102.2" cy="235.7" r="1.25"/><circle cx="266.2" cy="233.2" r="1.25"/><circle cx="254.0" cy="237.9" r="1.25"/><circle cx="120.5" cy="214.9" r="1.25"/><circle cx="244.4" cy="220.1" r="1.25"/><circle cx="234.4" cy="215.5" r="1.25"/><circle cx="142.2" cy="224.6" r="1.25"/><circle cx="208.1" cy="226.3" r="1.25"/><circle cx="236.6" cy="215.3" r="1.25"/><circle cx="183.7" cy="226.7" r="1.25"/><circle cx="204.3" cy="239.5" r="1.25"/><circle cx="316.8" cy="225.3" r="1.25"/><circle cx="224.4" cy="237.1" r="1.25"/><circle cx="203.9" cy="219.3" r="1.25"/><circle cx="122.4" cy="215.4" r="1.25"/><circle cx="139.7" cy="226.7" r="1.25"/><circle cx="269.1" cy="237.3" r="1.25"/><circle cx="244.4" cy="221.0" r="1.25"/><circle cx="263.9" cy="227.0" r="1.25"/><circle cx="219.2" cy="219.9" r="1.25"/><circle cx="219.5" cy="233.3" r="1.25"/><circle cx="208.9" cy="240.2" r="1.25"/><circle cx="243.1" cy="221.0" r="1.25"/><circle cx="179.7" cy="224.1" r="1.25"/><circle cx="205.1" cy="231.8" r="1.25"/><circle cx="207.6" cy="220.3" r="1.25"/><circle cx="231.4" cy="221.9" r="1.25"/><circle cx="161.7" cy="217.1" r="1.25"/><circle cx="110.9" cy="223.6" r="1.25"/><circle cx="134.1" cy="214.4" r="1.25"/><circle cx="153.5" cy="219.7" r="1.25"/><circle cx="273.2" cy="231.6" r="1.25"/><circle cx="238.0" cy="227.7" r="1.25"/><circle cx="250.8" cy="218.0" r="1.25"/><circle cx="200.7" cy="218.6" r="1.25"/><circle cx="131.4" cy="226.7" r="1.25"/><circle cx="200.7" cy="230.8" r="1.25"/><circle cx="275.1" cy="232.5" r="1.25"/><circle cx="209.7" cy="226.6" r="1.25"/><circle cx="225.9" cy="236.0" r="1.25"/><circle cx="192.1" cy="227.1" r="1.25"/><circle cx="145.9" cy="236.8" r="1.25"/><circle cx="224.0" cy="224.5" r="1.25"/><circle cx="207.6" cy="219.2" r="1.25"/><circle cx="188.4" cy="219.8" r="1.25"/><circle cx="169.9" cy="227.4" r="1.25"/><circle cx="236.1" cy="224.4" r="1.25"/><circle cx="183.2" cy="224.2" r="1.25"/><circle cx="221.7" cy="216.7" r="1.25"/><circle cx="170.8" cy="217.0" r="1.25"/><circle cx="250.4" cy="226.2" r="1.25"/><circle cx="191.9" cy="220.0" r="1.25"/><circle cx="206.8" cy="240.1" r="1.25"/><circle cx="290.7" cy="222.2" r="1.25"/><circle cx="241.3" cy="236.4" r="1.25"/><circle cx="246.2" cy="219.7" r="1.25"/><circle cx="181.8" cy="216.0" r="1.25"/><circle cx="268.2" cy="229.0" r="1.25"/><circle cx="190.0" cy="224.9" r="1.25"/><circle cx="321.1" cy="216.0" r="1.25"/><circle cx="281.0" cy="234.5" r="1.25"/><circle cx="227.5" cy="239.9" r="1.25"/><circle cx="265.7" cy="240.0" r="1.25"/><circle cx="216.8" cy="213.8" r="1.25"/><circle cx="242.5" cy="222.2" r="1.25"/><circle cx="141.3" cy="215.3" r="1.25"/><circle cx="323.8" cy="237.9" r="1.25"/><circle cx="260.2" cy="220.4" r="1.25"/><circle cx="144.5" cy="235.5" r="1.25"/><circle cx="166.2" cy="217.1" r="1.25"/><circle cx="218.4" cy="224.6" r="1.25"/><circle cx="250.8" cy="215.7" r="1.25"/><circle cx="147.3" cy="223.1" r="1.25"/><circle cx="309.2" cy="217.8" r="1.25"/><circle cx="187.1" cy="222.3" r="1.25"/><circle cx="327.3" cy="235.6" r="1.25"/><circle cx="250.8" cy="236.2" r="1.25"/><circle cx="204.7" cy="221.0" r="1.25"/><circle cx="184.5" cy="220.5" r="1.25"/><circle cx="131.3" cy="234.6" r="1.25"/><circle cx="131.0" cy="218.8" r="1.25"/><circle cx="226.4" cy="234.1" r="1.25"/><circle cx="256.3" cy="223.9" r="1.25"/><circle cx="285.7" cy="235.2" r="1.25"/><circle cx="185.3" cy="234.3" r="1.25"/><circle cx="295.3" cy="214.6" r="1.25"/><circle cx="177.2" cy="231.9" r="1.25"/><circle cx="297.9" cy="227.9" r="1.25"/><circle cx="293.2" cy="217.2" r="1.25"/><circle cx="145.6" cy="223.0" r="1.25"/><circle cx="273.6" cy="220.3" r="1.25"/><circle cx="238.0" cy="225.6" r="1.25"/><circle cx="239.1" cy="220.8" r="1.25"/><circle cx="270.6" cy="238.8" r="1.25"/><circle cx="208.3" cy="226.5" r="1.25"/><circle cx="209.3" cy="222.6" r="1.25"/><circle cx="184.1" cy="215.8" r="1.25"/><circle cx="271.1" cy="217.0" r="1.25"/><circle cx="283.8" cy="215.8" r="1.25"/><circle cx="149.5" cy="235.0" r="1.25"/><circle cx="252.9" cy="232.1" r="1.25"/><circle cx="174.0" cy="216.8" r="1.25"/><circle cx="152.8" cy="226.1" r="1.25"/><circle cx="156.4" cy="221.4" r="1.25"/><circle cx="213.4" cy="230.9" r="1.25"/><circle cx="170.4" cy="224.9" r="1.25"/><circle cx="169.1" cy="223.0" r="1.25"/><circle cx="132.3" cy="238.5" r="1.25"/><circle cx="181.9" cy="228.9" r="1.25"/><circle cx="252.7" cy="230.8" r="1.25"/><circle cx="103.6" cy="228.2" r="1.25"/><circle cx="205.2" cy="215.9" r="1.25"/><circle cx="222.0" cy="232.1" r="1.25"/><circle cx="120.9" cy="221.9" r="1.25"/><circle cx="175.6" cy="217.3" r="1.25"/><circle cx="287.0" cy="222.3" r="1.25"/><circle cx="325.1" cy="220.7" r="1.25"/><circle cx="267.6" cy="236.5" r="1.25"/><circle cx="152.2" cy="235.5" r="1.25"/><circle cx="247.0" cy="218.7" r="1.25"/><circle cx="203.1" cy="215.0" r="1.25"/><circle cx="150.4" cy="227.5" r="1.25"/><circle cx="204.7" cy="218.9" r="1.25"/><circle cx="293.3" cy="229.9" r="1.25"/><circle cx="276.7" cy="228.0" r="1.25"/><circle cx="191.0" cy="236.2" r="1.25"/><circle cx="121.4" cy="219.9" r="1.25"/><circle cx="283.4" cy="214.6" r="1.25"/><circle cx="323.4" cy="239.5" r="1.25"/><circle cx="209.7" cy="234.3" r="1.25"/><circle cx="161.0" cy="238.9" r="1.25"/><circle cx="214.0" cy="213.9" r="1.25"/><circle cx="232.6" cy="225.9" r="1.25"/><circle cx="203.5" cy="239.8" r="1.25"/><circle cx="187.0" cy="228.8" r="1.25"/><circle cx="167.6" cy="224.8" r="1.25"/><circle cx="178.5" cy="232.7" r="1.25"/><circle cx="118.3" cy="221.3" r="1.25"/><circle cx="165.3" cy="222.1" r="1.25"/><circle cx="306.5" cy="215.8" r="1.25"/><circle cx="101.4" cy="220.6" r="1.25"/><circle cx="244.6" cy="215.5" r="1.25"/><circle cx="254.3" cy="230.9" r="1.25"/><circle cx="194.0" cy="239.7" r="1.25"/><circle cx="218.6" cy="220.7" r="1.25"/><circle cx="163.3" cy="222.7" r="1.25"/><circle cx="231.7" cy="220.0" r="1.25"/><circle cx="238.7" cy="232.1" r="1.25"/><circle cx="246.1" cy="237.2" r="1.25"/><circle cx="204.7" cy="227.8" r="1.25"/><circle cx="311.7" cy="231.7" r="1.25"/><circle cx="272.1" cy="236.0" r="1.25"/><circle cx="216.4" cy="218.4" r="1.25"/><circle cx="233.8" cy="222.6" r="1.25"/><circle cx="173.9" cy="225.8" r="1.25"/><circle cx="303.0" cy="238.5" r="1.25"/><circle cx="229.4" cy="238.9" r="1.25"/><circle cx="282.1" cy="214.0" r="1.25"/><circle cx="174.8" cy="232.1" r="1.25"/><circle cx="316.4" cy="235.9" r="1.25"/><circle cx="138.2" cy="231.9" r="1.25"/><circle cx="209.8" cy="229.3" r="1.25"/><circle cx="139.0" cy="223.7" r="1.25"/><circle cx="157.3" cy="236.1" r="1.25"/><circle cx="251.3" cy="223.0" r="1.25"/><circle cx="121.4" cy="236.1" r="1.25"/><circle cx="190.9" cy="239.5" r="1.25"/><circle cx="158.6" cy="223.5" r="1.25"/><circle cx="270.3" cy="228.3" r="1.25"/><circle cx="129.4" cy="237.2" r="1.25"/><circle cx="181.9" cy="238.9" r="1.25"/><circle cx="272.9" cy="223.8" r="1.25"/><circle cx="235.4" cy="224.5" r="1.25"/><circle cx="240.6" cy="227.8" r="1.25"/><circle cx="322.9" cy="235.7" r="1.25"/><circle cx="104.5" cy="238.0" r="1.25"/><circle cx="231.2" cy="236.5" r="1.25"/><circle cx="242.1" cy="214.1" r="1.25"/><circle cx="249.9" cy="222.6" r="1.25"/><circle cx="241.4" cy="224.1" r="1.25"/><circle cx="129.5" cy="220.2" r="1.25"/><circle cx="129.0" cy="237.7" r="1.25"/><circle cx="255.8" cy="223.4" r="1.25"/><circle cx="225.0" cy="227.9" r="1.25"/><circle cx="171.1" cy="226.6" r="1.25"/><circle cx="101.6" cy="237.1" r="1.25"/><circle cx="209.6" cy="231.9" r="1.25"/><circle cx="135.3" cy="223.3" r="1.25"/><circle cx="250.9" cy="234.9" r="1.25"/><circle cx="183.4" cy="215.9" r="1.25"/><circle cx="260.9" cy="239.8" r="1.25"/><circle cx="131.9" cy="230.5" r="1.25"/><circle cx="203.7" cy="229.7" r="1.25"/><circle cx="134.2" cy="233.5" r="1.25"/><circle cx="255.8" cy="221.5" r="1.25"/><circle cx="213.5" cy="235.4" r="1.25"/><circle cx="164.7" cy="219.9" r="1.25"/><circle cx="306.0" cy="234.3" r="1.25"/><circle cx="234.4" cy="236.0" r="1.25"/><circle cx="182.3" cy="236.1" r="1.25"/><circle cx="270.0" cy="237.1" r="1.25"/><circle cx="190.1" cy="223.2" r="1.25"/><circle cx="303.0" cy="229.2" r="1.25"/><circle cx="178.0" cy="235.2" r="1.25"/><circle cx="320.8" cy="216.9" r="1.25"/><circle cx="124.7" cy="232.0" r="1.25"/><circle cx="243.3" cy="215.2" r="1.25"/><circle cx="174.4" cy="220.3" r="1.25"/><circle cx="194.9" cy="219.2" r="1.25"/><circle cx="222.9" cy="218.2" r="1.25"/><circle cx="117.9" cy="216.2" r="1.25"/><circle cx="160.8" cy="225.4" r="1.25"/><circle cx="134.8" cy="236.9" r="1.25"/><circle cx="243.9" cy="217.0" r="1.25"/><circle cx="161.1" cy="231.6" r="1.25"/><circle cx="205.3" cy="228.9" r="1.25"/><circle cx="182.7" cy="231.2" r="1.25"/><circle cx="168.8" cy="216.0" r="1.25"/><circle cx="296.6" cy="214.6" r="1.25"/><circle cx="210.6" cy="230.1" r="1.25"/><circle cx="228.7" cy="215.2" r="1.25"/><circle cx="239.4" cy="218.2" r="1.25"/><circle cx="262.3" cy="223.8" r="1.25"/><circle cx="174.0" cy="223.3" r="1.25"/><circle cx="129.3" cy="223.6" r="1.25"/><circle cx="200.4" cy="217.4" r="1.25"/><circle cx="151.0" cy="234.2" r="1.25"/><circle cx="103.8" cy="221.3" r="1.25"/><circle cx="295.1" cy="237.1" r="1.25"/><circle cx="223.9" cy="225.3" r="1.25"/><circle cx="196.4" cy="218.1" r="1.25"/><circle cx="142.5" cy="221.3" r="1.25"/><circle cx="250.7" cy="216.2" r="1.25"/><circle cx="212.9" cy="220.0" r="1.25"/><circle cx="151.7" cy="215.7" r="1.25"/><circle cx="318.9" cy="235.7" r="1.25"/><circle cx="300.3" cy="227.7" r="1.25"/><circle cx="292.2" cy="229.8" r="1.25"/><circle cx="262.9" cy="239.1" r="1.25"/><circle cx="209.2" cy="235.5" r="1.25"/><circle cx="175.6" cy="231.0" r="1.25"/><circle cx="229.5" cy="227.7" r="1.25"/><circle cx="147.8" cy="230.4" r="1.25"/><circle cx="223.0" cy="215.3" r="1.25"/><circle cx="125.8" cy="220.4" r="1.25"/><circle cx="98.6" cy="220.1" r="1.25"/><circle cx="240.3" cy="239.9" r="1.25"/><circle cx="185.9" cy="222.2" r="1.25"/><circle cx="238.8" cy="214.4" r="1.25"/><circle cx="252.1" cy="215.0" r="1.25"/><circle cx="262.9" cy="239.9" r="1.25"/><circle cx="223.3" cy="228.3" r="1.25"/><circle cx="267.2" cy="214.7" r="1.25"/><circle cx="231.5" cy="217.1" r="1.25"/><circle cx="291.0" cy="235.4" r="1.25"/><circle cx="281.8" cy="219.0" r="1.25"/><circle cx="116.0" cy="218.9" r="1.25"/><circle cx="173.5" cy="221.9" r="1.25"/><circle cx="191.5" cy="222.0" r="1.25"/><circle cx="166.2" cy="238.5" r="1.25"/><circle cx="154.5" cy="218.4" r="1.25"/><circle cx="274.5" cy="217.4" r="1.25"/><circle cx="108.0" cy="215.6" r="1.25"/><circle cx="153.2" cy="233.0" r="1.25"/><circle cx="250.4" cy="234.3" r="1.25"/><circle cx="161.7" cy="218.4" r="1.25"/><circle cx="169.5" cy="225.4" r="1.25"/><circle cx="314.2" cy="225.6" r="1.25"/><circle cx="249.8" cy="238.1" r="1.25"/><circle cx="202.6" cy="233.4" r="1.25"/><circle cx="143.3" cy="219.9" r="1.25"/><circle cx="173.1" cy="224.8" r="1.25"/><circle cx="317.9" cy="219.6" r="1.25"/><circle cx="256.2" cy="218.1" r="1.25"/><circle cx="124.9" cy="237.4" r="1.25"/><circle cx="237.9" cy="236.7" r="1.25"/><circle cx="191.9" cy="229.8" r="1.25"/><circle cx="238.4" cy="222.4" r="1.25"/><circle cx="175.4" cy="225.4" r="1.25"/><circle cx="143.5" cy="233.1" r="1.25"/><circle cx="105.1" cy="222.9" r="1.25"/><circle cx="175.9" cy="234.0" r="1.25"/><circle cx="275.7" cy="219.6" r="1.25"/><circle cx="282.7" cy="221.0" r="1.25"/><circle cx="237.0" cy="214.1" r="1.25"/><circle cx="251.1" cy="234.1" r="1.25"/><circle cx="156.5" cy="231.8" r="1.25"/><circle cx="185.7" cy="230.6" r="1.25"/><circle cx="282.7" cy="238.0" r="1.25"/><circle cx="321.6" cy="235.3" r="1.25"/><circle cx="201.2" cy="223.6" r="1.25"/><circle cx="256.3" cy="218.9" r="1.25"/><circle cx="299.6" cy="239.8" r="1.25"/><circle cx="328.3" cy="229.9" r="1.25"/><circle cx="177.3" cy="238.4" r="1.25"/><circle cx="229.6" cy="235.6" r="1.25"/><circle cx="192.5" cy="236.5" r="1.25"/><circle cx="200.6" cy="231.1" r="1.25"/><circle cx="198.9" cy="215.6" r="1.25"/><circle cx="169.9" cy="233.3" r="1.25"/><circle cx="103.4" cy="237.9" r="1.25"/><circle cx="247.2" cy="218.3" r="1.25"/><circle cx="236.3" cy="224.8" r="1.25"/><circle cx="267.2" cy="234.5" r="1.25"/><circle cx="146.4" cy="239.6" r="1.25"/><circle cx="165.9" cy="236.5" r="1.25"/><circle cx="220.1" cy="238.6" r="1.25"/><circle cx="296.6" cy="238.3" r="1.25"/><circle cx="204.7" cy="225.6" r="1.25"/><circle cx="158.0" cy="228.4" r="1.25"/><circle cx="221.0" cy="232.2" r="1.25"/><circle cx="306.1" cy="213.9" r="1.25"/><circle cx="274.5" cy="229.7" r="1.25"/><circle cx="283.4" cy="226.9" r="1.25"/><circle cx="198.1" cy="221.6" r="1.25"/><circle cx="173.8" cy="218.2" r="1.25"/><circle cx="274.3" cy="238.7" r="1.25"/><circle cx="252.4" cy="234.2" r="1.25"/><circle cx="267.5" cy="215.3" r="1.25"/><circle cx="190.9" cy="232.3" r="1.25"/><circle cx="175.6" cy="239.0" r="1.25"/><circle cx="164.6" cy="220.8" r="1.25"/><circle cx="272.6" cy="223.6" r="1.25"/><circle cx="291.8" cy="214.3" r="1.25"/><circle cx="185.0" cy="220.7" r="1.25"/><circle cx="279.1" cy="223.7" r="1.25"/><circle cx="192.3" cy="225.5" r="1.25"/><circle cx="200.1" cy="217.9" r="1.25"/><circle cx="214.1" cy="237.7" r="1.25"/><circle cx="162.0" cy="222.0" r="1.25"/><circle cx="170.5" cy="237.0" r="1.25"/><circle cx="172.8" cy="232.2" r="1.25"/><circle cx="173.3" cy="220.1" r="1.25"/><circle cx="211.7" cy="215.6" r="1.25"/><circle cx="134.0" cy="222.3" r="1.25"/><circle cx="254.8" cy="219.7" r="1.25"/><circle cx="151.8" cy="231.5" r="1.25"/><circle cx="203.0" cy="222.8" r="1.25"/><circle cx="228.3" cy="217.0" r="1.25"/><circle cx="143.7" cy="237.5" r="1.25"/><circle cx="193.7" cy="222.9" r="1.25"/><circle cx="213.8" cy="239.1" r="1.25"/><circle cx="213.6" cy="215.5" r="1.25"/><circle cx="284.4" cy="240.3" r="1.25"/><circle cx="255.4" cy="216.7" r="1.25"/><circle cx="137.6" cy="227.5" r="1.25"/><circle cx="265.7" cy="233.7" r="1.25"/><circle cx="213.2" cy="225.8" r="1.25"/><circle cx="236.1" cy="228.1" r="1.25"/><circle cx="148.5" cy="239.4" r="1.25"/><circle cx="208.0" cy="236.0" r="1.25"/><circle cx="239.9" cy="221.9" r="1.25"/><circle cx="257.3" cy="218.2" r="1.25"/><circle cx="259.6" cy="234.3" r="1.25"/><circle cx="163.9" cy="238.0" r="1.25"/><circle cx="262.7" cy="222.6" r="1.25"/><circle cx="213.9" cy="228.2" r="1.25"/><circle cx="232.0" cy="233.9" r="1.25"/><circle cx="268.3" cy="217.9" r="1.25"/><circle cx="197.7" cy="237.5" r="1.25"/><circle cx="294.0" cy="221.5" r="1.25"/><circle cx="277.7" cy="229.2" r="1.25"/><circle cx="260.9" cy="220.2" r="1.25"/><circle cx="190.8" cy="215.3" r="1.25"/><circle cx="208.1" cy="220.2" r="1.25"/><circle cx="154.0" cy="231.7" r="1.25"/><circle cx="249.1" cy="224.6" r="1.25"/><circle cx="281.9" cy="234.1" r="1.25"/><circle cx="147.6" cy="215.6" r="1.25"/><circle cx="245.0" cy="240.1" r="1.25"/><circle cx="232.7" cy="240.2" r="1.25"/><circle cx="111.9" cy="221.9" r="1.25"/><circle cx="290.2" cy="239.6" r="1.25"/><circle cx="204.2" cy="232.9" r="1.25"/><circle cx="172.4" cy="224.3" r="1.25"/><circle cx="110.4" cy="230.6" r="1.25"/><circle cx="252.7" cy="226.7" r="1.25"/><circle cx="182.5" cy="230.2" r="1.25"/><circle cx="210.7" cy="233.3" r="1.25"/><circle cx="155.6" cy="214.8" r="1.25"/><circle cx="217.9" cy="230.2" r="1.25"/><circle cx="190.9" cy="235.9" r="1.25"/><circle cx="261.2" cy="216.7" r="1.25"/><circle cx="229.3" cy="224.9" r="1.25"/><circle cx="239.8" cy="237.9" r="1.25"/><circle cx="167.5" cy="221.8" r="1.25"/><circle cx="124.3" cy="222.5" r="1.25"/><circle cx="278.5" cy="216.3" r="1.25"/><circle cx="297.9" cy="226.4" r="1.25"/><circle cx="230.6" cy="228.8" r="1.25"/><circle cx="293.1" cy="233.3" r="1.25"/><circle cx="237.8" cy="233.7" r="1.25"/><circle cx="220.8" cy="232.0" r="1.25"/><circle cx="195.5" cy="216.0" r="1.25"/><circle cx="188.4" cy="235.7" r="1.25"/><circle cx="208.0" cy="225.9" r="1.25"/><circle cx="164.0" cy="236.9" r="1.25"/><circle cx="196.3" cy="237.7" r="1.25"/><circle cx="212.1" cy="216.4" r="1.25"/><circle cx="107.2" cy="224.5" r="1.25"/><circle cx="191.4" cy="231.1" r="1.25"/><circle cx="177.0" cy="237.0" r="1.25"/><circle cx="226.5" cy="216.4" r="1.25"/><circle cx="258.1" cy="237.3" r="1.25"/><circle cx="226.3" cy="214.1" r="1.25"/><circle cx="230.5" cy="217.1" r="1.25"/><circle cx="225.1" cy="240.1" r="1.25"/><circle cx="165.0" cy="235.6" r="1.25"/><circle cx="191.1" cy="239.7" r="1.25"/><circle cx="270.3" cy="215.4" r="1.25"/><circle cx="303.1" cy="236.6" r="1.25"/><circle cx="151.4" cy="232.4" r="1.25"/><circle cx="98.1" cy="219.2" r="1.25"/><circle cx="306.4" cy="221.5" r="1.25"/><circle cx="275.6" cy="220.0" r="1.25"/><circle cx="219.8" cy="226.6" r="1.25"/><circle cx="264.7" cy="239.5" r="1.25"/><circle cx="220.8" cy="236.6" r="1.25"/><circle cx="286.1" cy="231.3" r="1.25"/><circle cx="165.4" cy="236.9" r="1.25"/><circle cx="201.3" cy="217.3" r="1.25"/><circle cx="236.4" cy="227.7" r="1.25"/><circle cx="162.1" cy="215.9" r="1.25"/><circle cx="241.5" cy="227.4" r="1.25"/><circle cx="173.6" cy="215.7" r="1.25"/><circle cx="240.4" cy="223.7" r="1.25"/><circle cx="259.1" cy="230.3" r="1.25"/><circle cx="197.6" cy="238.3" r="1.25"/><circle cx="320.2" cy="236.6" r="1.25"/><circle cx="223.2" cy="214.0" r="1.25"/><circle cx="248.3" cy="221.3" r="1.25"/><circle cx="105.5" cy="228.6" r="1.25"/><circle cx="137.5" cy="234.7" r="1.25"/><circle cx="241.7" cy="230.8" r="1.25"/><circle cx="303.2" cy="236.6" r="1.25"/><circle cx="224.0" cy="240.2" r="1.25"/><circle cx="286.3" cy="214.9" r="1.25"/><circle cx="125.1" cy="218.3" r="1.25"/><circle cx="282.3" cy="227.3" r="1.25"/><circle cx="276.4" cy="225.0" r="1.25"/><circle cx="224.3" cy="216.0" r="1.25"/><circle cx="196.5" cy="225.7" r="1.25"/><circle cx="237.9" cy="234.7" r="1.25"/><circle cx="166.6" cy="214.4" r="1.25"/><circle cx="231.7" cy="224.6" r="1.25"/><circle cx="232.7" cy="221.4" r="1.25"/><circle cx="214.2" cy="214.9" r="1.25"/><circle cx="171.0" cy="218.2" r="1.25"/><circle cx="93.1" cy="231.6" r="1.25"/><circle cx="155.7" cy="214.3" r="1.25"/><circle cx="262.2" cy="221.6" r="1.25"/><circle cx="160.6" cy="229.6" r="1.25"/><circle cx="130.2" cy="235.8" r="1.25"/><circle cx="166.9" cy="234.6" r="1.25"/><circle cx="211.9" cy="230.6" r="1.25"/><circle cx="221.7" cy="223.8" r="1.25"/><circle cx="279.4" cy="227.6" r="1.25"/><circle cx="269.7" cy="233.4" r="1.25"/><circle cx="310.0" cy="235.9" r="1.25"/><circle cx="276.0" cy="225.1" r="1.25"/><circle cx="201.3" cy="235.6" r="1.25"/><circle cx="140.7" cy="231.6" r="1.25"/><circle cx="306.5" cy="214.8" r="1.25"/><circle cx="161.4" cy="230.7" r="1.25"/></g>
<line x1="94.5" y1="227.0" x2="176.7" y2="227.0" stroke="#222" stroke-width="1.2"/>
<line x1="239.6" y1="227.0" x2="326.6" y2="227.0" stroke="#222" stroke-width="1.2"/>
<rect x="176.7" y="222.9" width="62.9" height="8.6" fill="#D5EED2" fill-opacity="0.15" stroke="#2b2b2b" stroke-width="1"/>
<line x1="210.5" y1="222.9" x2="210.5" y2="231.5" stroke="#222" stroke-width="1.7"/>
<rect x="147.7" y="306.6" width="67.7" height="8.6" fill="#95C1DC"/>
<g fill="#2B83BA"><circle cx="124.7" cy="297.7" r="1.25"/><circle cx="225.4" cy="307.2" r="1.25"/><circle cx="114.5" cy="312.8" r="1.25"/><circle cx="147.6" cy="318.1" r="1.25"/><circle cx="157.7" cy="321.3" r="1.25"/><circle cx="119.1" cy="320.7" r="1.25"/><circle cx="246.1" cy="316.2" r="1.25"/><circle cx="258.1" cy="310.3" r="1.25"/><circle cx="232.7" cy="316.7" r="1.25"/><circle cx="143.5" cy="319.2" r="1.25"/><circle cx="218.2" cy="300.8" r="1.25"/><circle cx="158.0" cy="316.9" r="1.25"/><circle cx="150.4" cy="298.2" r="1.25"/><circle cx="200.0" cy="306.4" r="1.25"/><circle cx="121.3" cy="300.0" r="1.25"/><circle cx="93.0" cy="297.8" r="1.25"/><circle cx="242.7" cy="298.1" r="1.25"/><circle cx="161.5" cy="317.3" r="1.25"/><circle cx="216.2" cy="313.5" r="1.25"/><circle cx="171.7" cy="302.4" r="1.25"/><circle cx="121.3" cy="302.3" r="1.25"/><circle cx="178.8" cy="319.1" r="1.25"/><circle cx="138.3" cy="313.7" r="1.25"/><circle cx="124.7" cy="319.3" r="1.25"/><circle cx="102.9" cy="318.7" r="1.25"/><circle cx="167.7" cy="304.8" r="1.25"/><circle cx="151.5" cy="302.0" r="1.25"/><circle cx="157.6" cy="323.2" r="1.25"/><circle cx="260.3" cy="301.8" r="1.25"/><circle cx="218.4" cy="304.9" r="1.25"/><circle cx="199.2" cy="301.2" r="1.25"/><circle cx="148.8" cy="305.8" r="1.25"/><circle cx="206.0" cy="305.8" r="1.25"/><circle cx="203.2" cy="313.2" r="1.25"/><circle cx="179.8" cy="318.1" r="1.25"/><circle cx="146.7" cy="309.5" r="1.25"/><circle cx="141.8" cy="310.4" r="1.25"/><circle cx="166.1" cy="305.9" r="1.25"/><circle cx="150.8" cy="322.9" r="1.25"/><circle cx="228.5" cy="304.9" r="1.25"/><circle cx="171.4" cy="300.5" r="1.25"/><circle cx="194.7" cy="308.2" r="1.25"/><circle cx="235.1" cy="311.7" r="1.25"/><circle cx="190.6" cy="315.4" r="1.25"/><circle cx="139.2" cy="304.5" r="1.25"/><circle cx="156.1" cy="314.0" r="1.25"/><circle cx="244.0" cy="319.5" r="1.25"/><circle cx="111.4" cy="311.8" r="1.25"/><circle cx="146.9" cy="303.0" r="1.25"/><circle cx="193.0" cy="303.2" r="1.25"/><circle cx="226.4" cy="320.1" r="1.25"/><circle cx="222.5" cy="300.5" r="1.25"/><circle cx="204.0" cy="299.6" r="1.25"/><circle cx="200.0" cy="321.5" r="1.25"/><circle cx="162.9" cy="301.5" r="1.25"/><circle cx="116.7" cy="317.3" r="1.25"/><circle cx="191.8" cy="297.5" r="1.25"/><circle cx="119.1" cy="302.5" r="1.25"/><circle cx="214.4" cy="300.1" r="1.25"/><circle cx="135.5" cy="309.6" r="1.25"/><circle cx="104.7" cy="302.8" r="1.25"/><circle cx="306.7" cy="314.6" r="1.25"/><circle cx="139.2" cy="321.5" r="1.25"/><circle cx="185.1" cy="303.8" r="1.25"/><circle cx="118.2" cy="305.6" r="1.25"/><circle cx="270.1" cy="307.3" r="1.25"/><circle cx="103.5" cy="310.8" r="1.25"/><circle cx="201.2" cy="306.8" r="1.25"/><circle cx="222.7" cy="317.0" r="1.25"/><circle cx="155.5" cy="320.1" r="1.25"/><circle cx="98.1" cy="304.2" r="1.25"/><circle cx="109.2" cy="321.5" r="1.25"/><circle cx="118.1" cy="310.2" r="1.25"/><circle cx="205.3" cy="300.4" r="1.25"/><circle cx="180.5" cy="321.8" r="1.25"/><circle cx="236.8" cy="304.2" r="1.25"/><circle cx="193.2" cy="297.8" r="1.25"/><circle cx="187.4" cy="298.1" r="1.25"/><circle cx="142.5" cy="308.4" r="1.25"/><circle cx="147.4" cy="322.4" r="1.25"/><circle cx="267.9" cy="297.9" r="1.25"/><circle cx="252.2" cy="317.3" r="1.25"/><circle cx="170.1" cy="299.0" r="1.25"/><circle cx="213.9" cy="323.4" r="1.25"/><circle cx="200.6" cy="301.3" r="1.25"/><circle cx="153.3" cy="307.4" r="1.25"/><circle cx="143.1" cy="323.9" r="1.25"/><circle cx="206.7" cy="311.6" r="1.25"/><circle cx="261.3" cy="310.9" r="1.25"/><circle cx="273.2" cy="320.0" r="1.25"/><circle cx="164.4" cy="316.5" r="1.25"/><circle cx="118.0" cy="308.1" r="1.25"/><circle cx="155.0" cy="303.8" r="1.25"/><circle cx="120.0" cy="310.4" r="1.25"/><circle cx="280.0" cy="315.2" r="1.25"/><circle cx="157.7" cy="318.8" r="1.25"/><circle cx="225.0" cy="315.1" r="1.25"/><circle cx="147.6" cy="306.8" r="1.25"/><circle cx="255.3" cy="299.3" r="1.25"/><circle cx="179.0" cy="323.0" r="1.25"/><circle cx="221.8" cy="309.8" r="1.25"/><circle cx="186.1" cy="308.1" r="1.25"/><circle cx="210.3" cy="303.3" r="1.25"/><circle cx="120.1" cy="320.8" r="1.25"/><circle cx="123.5" cy="320.1" r="1.25"/><circle cx="161.2" cy="320.3" r="1.25"/><circle cx="232.2" cy="315.2" r="1.25"/><circle cx="241.8" cy="316.7" r="1.25"/><circle cx="201.8" cy="310.0" r="1.25"/><circle cx="184.2" cy="300.7" r="1.25"/><circle cx="115.4" cy="302.2" r="1.25"/><circle cx="245.3" cy="301.7" r="1.25"/><circle cx="197.3" cy="322.8" r="1.25"/><circle cx="191.8" cy="298.4" r="1.25"/><circle cx="221.4" cy="310.1" r="1.25"/><circle cx="149.4" cy="301.4" r="1.25"/><circle cx="190.1" cy="321.9" r="1.25"/><circle cx="197.7" cy="321.6" r="1.25"/><circle cx="205.8" cy="315.3" r="1.25"/><circle cx="125.6" cy="315.0" r="1.25"/><circle cx="203.7" cy="301.5" r="1.25"/><circle cx="232.3" cy="300.4" r="1.25"/><circle cx="188.9" cy="307.6" r="1.25"/><circle cx="138.6" cy="320.3" r="1.25"/><circle cx="239.1" cy="301.7" r="1.25"/><circle cx="130.3" cy="321.8" r="1.25"/><circle cx="150.0" cy="298.0" r="1.25"/><circle cx="225.5" cy="314.2" r="1.25"/><circle cx="186.5" cy="302.4" r="1.25"/><circle cx="159.4" cy="311.7" r="1.25"/><circle cx="213.1" cy="306.6" r="1.25"/><circle cx="197.1" cy="302.8" r="1.25"/><circle cx="129.7" cy="303.0" r="1.25"/><circle cx="147.3" cy="305.2" r="1.25"/><circle cx="213.6" cy="320.9" r="1.25"/><circle cx="214.6" cy="317.4" r="1.25"/><circle cx="120.5" cy="304.9" r="1.25"/><circle cx="179.1" cy="311.4" r="1.25"/><circle cx="199.6" cy="320.6" r="1.25"/><circle cx="155.7" cy="316.6" r="1.25"/><circle cx="116.4" cy="304.6" r="1.25"/><circle cx="165.5" cy="320.1" r="1.25"/><circle cx="244.9" cy="314.9" r="1.25"/><circle cx="203.7" cy="305.6" r="1.25"/><circle cx="144.7" cy="313.7" r="1.25"/><circle cx="226.3" cy="310.7" r="1.25"/><circle cx="194.6" cy="321.7" r="1.25"/><circle cx="151.4" cy="301.9" r="1.25"/><circle cx="153.2" cy="299.7" r="1.25"/><circle cx="139.3" cy="316.3" r="1.25"/><circle cx="166.4" cy="311.1" r="1.25"/><circle cx="162.1" cy="299.4" r="1.25"/><circle cx="150.5" cy="306.8" r="1.25"/><circle cx="227.5" cy="302.3" r="1.25"/><circle cx="209.9" cy="314.1" r="1.25"/><circle cx="176.8" cy="302.0" r="1.25"/><circle cx="260.2" cy="318.5" r="1.25"/><circle cx="196.8" cy="315.7" r="1.25"/><circle cx="252.9" cy="319.7" r="1.25"/><circle cx="220.6" cy="302.1" r="1.25"/><circle cx="192.1" cy="314.1" r="1.25"/><circle cx="201.2" cy="309.9" r="1.25"/><circle cx="211.8" cy="316.8" r="1.25"/><circle cx="206.1" cy="299.2" r="1.25"/><circle cx="228.6" cy="323.4" r="1.25"/><circle cx="161.7" cy="314.2" r="1.25"/><circle cx="160.4" cy="312.6" r="1.25"/><circle cx="148.2" cy="317.7" r="1.25"/><circle cx="241.8" cy="309.5" r="1.25"/><circle cx="233.8" cy="301.6" r="1.25"/><circle cx="171.0" cy="309.2" r="1.25"/><circle cx="169.3" cy="311.0" r="1.25"/><circle cx="134.0" cy="316.9" r="1.25"/><circle cx="261.4" cy="303.6" r="1.25"/><circle cx="196.2" cy="298.9" r="1.25"/><circle cx="257.2" cy="317.4" r="1.25"/><circle cx="192.0" cy="301.1" r="1.25"/><circle cx="174.8" cy="319.8" r="1.25"/><circle cx="205.6" cy="305.8" r="1.25"/><circle cx="235.8" cy="315.2" r="1.25"/><circle cx="227.4" cy="300.2" r="1.25"/><circle cx="163.5" cy="309.6" r="1.25"/><circle cx="175.5" cy="310.7" r="1.25"/><circle cx="246.9" cy="300.7" r="1.25"/><circle cx="174.8" cy="315.8" r="1.25"/><circle cx="216.4" cy="303.9" r="1.25"/><circle cx="180.6" cy="318.0" r="1.25"/><circle cx="219.7" cy="306.7" r="1.25"/><circle cx="120.8" cy="311.9" r="1.25"/><circle cx="94.7" cy="313.6" r="1.25"/><circle cx="121.3" cy="308.0" r="1.25"/><circle cx="173.2" cy="314.7" r="1.25"/><circle cx="164.1" cy="305.7" r="1.25"/><circle cx="253.9" cy="303.6" r="1.25"/><circle cx="291.2" cy="299.8" r="1.25"/><circle cx="131.7" cy="301.8" r="1.25"/><circle cx="219.9" cy="308.3" r="1.25"/><circle cx="178.0" cy="318.1" r="1.25"/><circle cx="220.4" cy="314.9" r="1.25"/><circle cx="162.0" cy="305.7" r="1.25"/><circle cx="210.6" cy="314.2" r="1.25"/><circle cx="96.7" cy="319.1" r="1.25"/><circle cx="169.8" cy="314.4" r="1.25"/><circle cx="155.4" cy="313.9" r="1.25"/><circle cx="149.4" cy="316.0" r="1.25"/><circle cx="155.5" cy="308.7" r="1.25"/><circle cx="165.5" cy="315.0" r="1.25"/><circle cx="177.7" cy="317.0" r="1.25"/><circle cx="180.8" cy="313.3" r="1.25"/><circle cx="204.3" cy="322.1" r="1.25"/><circle cx="222.3" cy="298.2" r="1.25"/><circle cx="259.2" cy="316.5" r="1.25"/><circle cx="194.7" cy="298.3" r="1.25"/><circle cx="150.1" cy="316.2" r="1.25"/><circle cx="184.0" cy="307.7" r="1.25"/><circle cx="173.3" cy="298.8" r="1.25"/><circle cx="148.7" cy="308.9" r="1.25"/><circle cx="156.8" cy="310.3" r="1.25"/><circle cx="147.0" cy="320.3" r="1.25"/><circle cx="182.3" cy="307.7" r="1.25"/><circle cx="116.8" cy="310.8" r="1.25"/><circle cx="183.9" cy="321.1" r="1.25"/><circle cx="164.9" cy="306.9" r="1.25"/><circle cx="99.2" cy="308.2" r="1.25"/><circle cx="150.6" cy="302.4" r="1.25"/><circle cx="263.9" cy="316.6" r="1.25"/><circle cx="187.4" cy="315.3" r="1.25"/><circle cx="119.5" cy="297.6" r="1.25"/><circle cx="185.0" cy="306.4" r="1.25"/><circle cx="199.7" cy="307.7" r="1.25"/><circle cx="132.7" cy="306.4" r="1.25"/><circle cx="164.6" cy="320.4" r="1.25"/><circle cx="145.0" cy="313.8" r="1.25"/><circle cx="180.4" cy="309.4" r="1.25"/><circle cx="222.2" cy="313.4" r="1.25"/><circle cx="148.6" cy="316.0" r="1.25"/><circle cx="135.5" cy="314.8" r="1.25"/><circle cx="131.3" cy="310.8" r="1.25"/><circle cx="193.2" cy="300.8" r="1.25"/><circle cx="116.5" cy="298.7" r="1.25"/><circle cx="179.4" cy="301.8" r="1.25"/><circle cx="216.7" cy="313.3" r="1.25"/><circle cx="211.7" cy="312.2" r="1.25"/><circle cx="195.3" cy="318.3" r="1.25"/><circle cx="97.7" cy="307.0" r="1.25"/><circle cx="171.4" cy="315.5" r="1.25"/><circle cx="148.9" cy="312.5" r="1.25"/><circle cx="182.0" cy="304.9" r="1.25"/><circle cx="133.6" cy="319.8" r="1.25"/><circle cx="132.9" cy="317.4" r="1.25"/><circle cx="254.1" cy="311.0" r="1.25"/><circle cx="230.4" cy="301.1" r="1.25"/><circle cx="122.1" cy="302.1" r="1.25"/><circle cx="220.4" cy="315.2" r="1.25"/><circle cx="119.7" cy="302.9" r="1.25"/><circle cx="161.4" cy="301.3" r="1.25"/><circle cx="288.7" cy="308.6" r="1.25"/><circle cx="248.1" cy="303.4" r="1.25"/><circle cx="174.0" cy="310.2" r="1.25"/><circle cx="203.2" cy="305.9" r="1.25"/><circle cx="165.6" cy="316.4" r="1.25"/><circle cx="227.0" cy="301.8" r="1.25"/><circle cx="159.1" cy="313.0" r="1.25"/><circle cx="144.8" cy="322.6" r="1.25"/><circle cx="132.8" cy="322.4" r="1.25"/><circle cx="189.6" cy="309.2" r="1.25"/><circle cx="181.2" cy="303.9" r="1.25"/><circle cx="234.6" cy="317.4" r="1.25"/><circle cx="131.3" cy="310.2" r="1.25"/><circle cx="215.5" cy="302.6" r="1.25"/><circle cx="249.9" cy="304.1" r="1.25"/><circle cx="206.0" cy="312.6" r="1.25"/><circle cx="129.5" cy="322.3" r="1.25"/><circle cx="135.2" cy="310.8" r="1.25"/><circle cx="122.3" cy="303.8" r="1.25"/><circle cx="158.7" cy="317.6" r="1.25"/><circle cx="212.0" cy="319.6" r="1.25"/><circle cx="133.5" cy="321.3" r="1.25"/><circle cx="172.6" cy="314.2" r="1.25"/><circle cx="115.4" cy="314.7" r="1.25"/><circle cx="197.3" cy="322.1" r="1.25"/><circle cx="123.0" cy="317.4" r="1.25"/><circle cx="214.4" cy="310.3" r="1.25"/><circle cx="193.0" cy="323.3" r="1.25"/><circle cx="145.0" cy="317.6" r="1.25"/><circle cx="202.5" cy="320.9" r="1.25"/><circle cx="162.7" cy="303.9" r="1.25"/><circle cx="179.2" cy="317.6" r="1.25"/><circle cx="182.8" cy="316.8" r="1.25"/><circle cx="152.9" cy="314.9" r="1.25"/><circle cx="168.1" cy="311.5" r="1.25"/><circle cx="211.3" cy="303.4" r="1.25"/><circle cx="225.2" cy="314.1" r="1.25"/><circle cx="225.4" cy="304.2" r="1.25"/><circle cx="184.6" cy="314.8" r="1.25"/><circle cx="228.0" cy="318.5" r="1.25"/><circle cx="131.6" cy="317.9" r="1.25"/><circle cx="272.7" cy="321.4" r="1.25"/><circle cx="112.5" cy="301.6" r="1.25"/><circle cx="235.6" cy="318.0" r="1.25"/><circle cx="214.6" cy="310.0" r="1.25"/><circle cx="167.8" cy="305.3" r="1.25"/><circle cx="214.8" cy="312.5" r="1.25"/><circle cx="253.1" cy="301.3" r="1.25"/><circle cx="140.0" cy="300.7" r="1.25"/><circle cx="198.4" cy="319.9" r="1.25"/><circle cx="94.2" cy="320.3" r="1.25"/><circle cx="193.9" cy="312.4" r="1.25"/><circle cx="117.9" cy="305.4" r="1.25"/><circle cx="197.9" cy="298.4" r="1.25"/><circle cx="110.7" cy="299.5" r="1.25"/><circle cx="167.9" cy="305.0" r="1.25"/><circle cx="230.0" cy="322.0" r="1.25"/><circle cx="158.8" cy="300.0" r="1.25"/><circle cx="262.8" cy="310.4" r="1.25"/><circle cx="177.7" cy="297.5" r="1.25"/><circle cx="139.8" cy="319.8" r="1.25"/><circle cx="246.6" cy="302.8" r="1.25"/><circle cx="136.6" cy="319.6" r="1.25"/><circle cx="186.4" cy="303.9" r="1.25"/><circle cx="246.9" cy="303.2" r="1.25"/><circle cx="250.1" cy="316.9" r="1.25"/><circle cx="180.8" cy="321.8" r="1.25"/><circle cx="142.9" cy="311.2" r="1.25"/><circle cx="176.2" cy="308.1" r="1.25"/><circle cx="151.8" cy="319.3" r="1.25"/><circle cx="157.1" cy="303.6" r="1.25"/><circle cx="157.0" cy="322.0" r="1.25"/><circle cx="143.5" cy="300.2" r="1.25"/><circle cx="108.6" cy="309.8" r="1.25"/><circle cx="326.6" cy="320.2" r="1.25"/></g>
<line x1="94.5" y1="310.7" x2="147.7" y2="310.7" stroke="#222" stroke-width="1.2"/>
<line x1="215.4" y1="310.7" x2="312.1" y2="310.7" stroke="#222" stroke-width="1.2"/>
<rect x="147.7" y="306.6" width="67.7" height="8.6" fill="#95C1DC" fill-opacity="0.15" stroke="#2b2b2b" stroke-width="1"/>
<line x1="181.5" y1="306.6" x2="181.5" y2="315.2" stroke="#222" stroke-width="1.7"/>
<text transform="translate(351.50,15.70) scale(1,1.000)" text-anchor="start" font-size="15.00" fill="#000" stroke="#000" stroke-width="0" font-weight="bold">B</text>
<line x1="431.0" y1="5" x2="431.0" y2="361.2" stroke="#222" stroke-width="1.5"/>
<line x1="430.3" y1="360.7" x2="676.0" y2="360.7" stroke="#222" stroke-width="1.5"/>
<line x1="428.5" y1="59.6" x2="431.0" y2="59.6" stroke="#333" stroke-width="1"/>
<text transform="translate(426.00,57.80) scale(1,1.080)" text-anchor="end" font-size="9.20" fill="#404040" stroke="#404040" stroke-width="0.2">Early<tspan dx="0.9">-to-mid</tspan></text>
<text transform="translate(426.00,67.40) scale(1,1.080)" text-anchor="end" font-size="9.20" fill="#404040" stroke="#404040" stroke-width="0.2">Adolescent</text>
<line x1="428.5" y1="143.3" x2="431.0" y2="143.3" stroke="#333" stroke-width="1"/>
<text transform="translate(426.00,146.80) scale(1,1.080)" text-anchor="end" font-size="9.20" fill="#404040" stroke="#404040" stroke-width="0.2">Late Adolescent</text>
<line x1="428.5" y1="227.0" x2="431.0" y2="227.0" stroke="#333" stroke-width="1"/>
<text transform="translate(426.00,230.50) scale(1,1.080)" text-anchor="end" font-size="9.20" fill="#404040" stroke="#404040" stroke-width="0.2">Adult</text>
<line x1="428.5" y1="310.7" x2="431.0" y2="310.7" stroke="#333" stroke-width="1"/>
<text transform="translate(426.00,314.20) scale(1,1.080)" text-anchor="end" font-size="9.20" fill="#404040" stroke="#404040" stroke-width="0.2">Older Adult</text>
<line x1="454.8" y1="360.7" x2="454.8" y2="363.2" stroke="#333" stroke-width="1"/>
<text transform="translate(454.80,372.20) scale(1,1.080)" text-anchor="middle" font-size="9.20" fill="#404040" stroke="#404040" stroke-width="0.2">10</text>
<line x1="508.6" y1="360.7" x2="508.6" y2="363.2" stroke="#333" stroke-width="1"/>
<text transform="translate(508.60,372.20) scale(1,1.080)" text-anchor="middle" font-size="9.20" fill="#404040" stroke="#404040" stroke-width="0.2">20</text>
<line x1="562.4" y1="360.7" x2="562.4" y2="363.2" stroke="#333" stroke-width="1"/>
<text transform="translate(562.40,372.20) scale(1,1.080)" text-anchor="middle" font-size="9.20" fill="#404040" stroke="#404040" stroke-width="0.2">30</text>
<line x1="616.2" y1="360.7" x2="616.2" y2="363.2" stroke="#333" stroke-width="1"/>
<text transform="translate(616.20,372.20) scale(1,1.080)" text-anchor="middle" font-size="9.20" fill="#404040" stroke="#404040" stroke-width="0.2">40</text>
<line x1="670.0" y1="360.7" x2="670.0" y2="363.2" stroke="#333" stroke-width="1"/>
<text transform="translate(670.00,372.20) scale(1,1.080)" text-anchor="middle" font-size="9.20" fill="#404040" stroke="#404040" stroke-width="0.2">50</text>
<text transform="translate(553.00,384.80) scale(1,1.080)" text-anchor="middle" font-size="10.65" fill="#111" stroke="#111" stroke-width="0.05">T1 Psychological Flexibility Score</text>
<text transform="translate(359.2,182.4) rotate(-90) scale(1,1.04)" text-anchor="middle" font-size="10.7" fill="#000">Age Group</text>
<path d="M443.4,42.5 L443.4,42.4 L444.3,42.4 L445.6,42.4 L447.0,42.4 L448.7,42.4 L450.4,42.3 L452.0,42.3 L453.6,42.3 L455.0,42.2 L456.2,42.1 L457.3,42.0 L458.4,41.9 L459.4,41.8 L460.4,41.7 L461.4,41.6 L462.5,41.4 L463.5,41.3 L464.6,41.2 L465.6,41.0 L466.7,40.9 L467.8,40.7 L468.8,40.5 L469.9,40.4 L470.9,40.2 L472.0,40.0 L473.1,39.8 L474.1,39.6 L475.2,39.4 L476.2,39.2 L477.3,39.0 L478.4,38.7 L479.4,38.5 L480.5,38.3 L481.6,38.1 L482.6,37.9 L483.7,37.7 L484.8,37.4 L485.8,37.2 L486.9,37.0 L487.9,36.8 L489.0,36.6 L490.1,36.4 L491.1,36.2 L492.2,36.0 L493.2,35.8 L494.3,35.6 L495.4,35.4 L496.4,35.1 L497.5,34.9 L498.6,34.7 L499.6,34.4 L500.7,34.2 L501.7,33.9 L502.8,33.6 L503.9,33.3 L504.9,33.0 L506.0,32.7 L507.1,32.3 L508.1,32.0 L509.2,31.5 L510.3,31.1 L511.4,30.7 L512.5,30.2 L513.5,29.8 L514.6,29.3 L515.7,28.8 L516.7,28.3 L517.8,27.8 L518.9,27.3 L519.9,26.7 L521.0,26.2 L522.0,25.7 L523.1,25.2 L524.2,24.7 L525.2,24.3 L526.3,23.8 L527.4,23.3 L528.4,22.9 L529.5,22.5 L530.5,22.1 L531.6,21.8 L532.7,21.5 L533.7,21.3 L534.8,21.1 L535.9,20.9 L536.9,20.7 L538.0,20.6 L539.1,20.5 L540.1,20.4 L541.1,20.3 L542.2,20.3 L543.2,20.2 L544.2,20.2 L545.2,20.2 L546.3,20.2 L547.3,20.2 L548.3,20.2 L549.3,20.2 L550.3,20.2 L551.4,20.2 L552.4,20.1 L553.4,20.1 L554.4,20.1 L555.5,20.1 L556.5,20.1 L557.5,20.1 L558.6,20.1 L559.7,20.1 L560.7,20.1 L561.8,20.0 L562.9,20.0 L563.9,20.1 L565.0,20.1 L566.1,20.1 L567.1,20.2 L568.2,20.3 L569.2,20.4 L570.3,20.5 L571.4,20.6 L572.4,20.7 L573.5,20.8 L574.6,20.9 L575.6,21.1 L576.7,21.2 L577.8,21.4 L578.8,21.5 L579.9,21.7 L580.9,21.9 L582.0,22.1 L583.1,22.3 L584.1,22.6 L585.2,22.8 L586.2,23.1 L587.3,23.4 L588.4,23.7 L589.4,24.0 L590.5,24.3 L591.6,24.6 L592.6,24.9 L593.7,25.2 L594.8,25.6 L595.8,25.9 L596.9,26.2 L597.9,26.6 L599.0,26.9 L600.1,27.2 L601.1,27.6 L602.2,28.0 L603.2,28.3 L604.3,28.7 L605.4,29.1 L606.4,29.4 L607.5,29.8 L608.6,30.2 L609.6,30.5 L610.7,30.9 L611.7,31.3 L612.8,31.7 L613.9,32.0 L614.9,32.4 L616.0,32.7 L617.1,33.0 L618.1,33.3 L619.2,33.6 L620.3,33.9 L621.4,34.1 L622.5,34.4 L623.5,34.7 L624.6,34.9 L625.7,35.1 L626.7,35.4 L627.8,35.6 L628.9,35.8 L629.9,36.0 L631.0,36.2 L632.0,36.4 L633.1,36.6 L634.2,36.8 L635.2,37.0 L636.3,37.3 L637.4,37.5 L638.4,37.7 L639.5,37.9 L640.5,38.1 L641.6,38.3 L642.7,38.5 L643.7,38.6 L644.8,38.8 L645.8,38.9 L646.9,39.1 L647.9,39.2 L649.0,39.4 L650.1,39.5 L651.3,39.6 L652.6,39.8 L653.9,39.9 L655.3,40.1 L656.6,40.2 L657.7,40.3 L658.7,40.4 L659.4,40.5 L659.4,42.5 Z" fill="#DF4749" stroke="#2a2a2a" stroke-width="1.3" stroke-linejoin="round"/>
<path d="M443.4,125.7 L443.4,125.6 L444.3,125.6 L445.6,125.6 L447.0,125.6 L448.7,125.6 L450.4,125.6 L452.0,125.6 L453.6,125.5 L455.0,125.5 L456.2,125.4 L457.3,125.4 L458.4,125.3 L459.4,125.2 L460.4,125.1 L461.4,125.0 L462.5,124.9 L463.5,124.8 L464.6,124.7 L465.6,124.6 L466.7,124.5 L467.8,124.4 L468.8,124.3 L469.9,124.2 L470.9,124.1 L472.0,124.0 L473.1,123.9 L474.1,123.7 L475.2,123.6 L476.2,123.4 L477.3,123.3 L478.4,123.1 L479.4,122.9 L480.5,122.8 L481.6,122.7 L482.6,122.5 L483.7,122.4 L484.8,122.3 L485.8,122.2 L486.9,122.1 L487.9,121.9 L489.0,121.8 L490.1,121.7 L491.1,121.5 L492.2,121.4 L493.2,121.2 L494.3,121.1 L495.4,120.9 L496.4,120.8 L497.5,120.6 L498.6,120.5 L499.6,120.3 L500.7,120.2 L501.7,120.0 L502.8,119.9 L503.9,119.7 L504.9,119.6 L506.0,119.4 L507.1,119.2 L508.1,119.1 L509.2,118.9 L510.3,118.7 L511.4,118.6 L512.5,118.4 L513.5,118.2 L514.6,118.0 L515.7,117.8 L516.7,117.6 L517.8,117.4 L518.9,117.2 L519.9,117.0 L521.0,116.8 L522.0,116.6 L523.1,116.3 L524.2,116.0 L525.2,115.7 L526.3,115.3 L527.4,115.0 L528.4,114.6 L529.5,114.2 L530.5,113.7 L531.6,113.3 L532.7,112.8 L533.7,112.3 L534.8,111.8 L535.9,111.3 L536.9,110.7 L538.0,110.2 L539.1,109.7 L540.1,109.2 L541.1,108.8 L542.2,108.4 L543.2,108.0 L544.2,107.6 L545.2,107.2 L546.3,106.9 L547.3,106.5 L548.3,106.2 L549.3,105.9 L550.3,105.6 L551.4,105.3 L552.4,105.1 L553.4,104.8 L554.4,104.6 L555.5,104.3 L556.5,104.1 L557.5,103.9 L558.6,103.6 L559.7,103.4 L560.7,103.2 L561.8,103.0 L562.9,102.8 L563.9,102.6 L565.0,102.4 L566.1,102.2 L567.1,102.0 L568.2,101.8 L569.2,101.6 L570.3,101.4 L571.4,101.3 L572.4,101.1 L573.5,101.0 L574.6,100.9 L575.6,100.8 L576.7,100.7 L577.8,100.6 L578.8,100.6 L579.9,100.5 L580.9,100.5 L582.0,100.5 L583.1,100.5 L584.1,100.5 L585.2,100.5 L586.2,100.5 L587.3,100.6 L588.4,100.7 L589.4,100.8 L590.5,101.0 L591.6,101.3 L592.6,101.6 L593.7,101.9 L594.8,102.4 L595.8,102.8 L596.9,103.2 L597.9,103.7 L599.0,104.1 L600.1,104.5 L601.1,105.0 L602.2,105.4 L603.2,105.9 L604.3,106.3 L605.4,106.8 L606.4,107.3 L607.5,107.8 L608.6,108.3 L609.6,108.8 L610.7,109.4 L611.7,109.9 L612.8,110.5 L613.9,111.0 L614.9,111.6 L616.0,112.1 L617.1,112.6 L618.1,113.2 L619.2,113.7 L620.3,114.3 L621.4,114.8 L622.5,115.3 L623.5,115.8 L624.6,116.3 L625.7,116.8 L626.7,117.2 L627.8,117.7 L628.9,118.1 L629.9,118.5 L631.0,118.9 L632.0,119.3 L633.1,119.7 L634.2,120.1 L635.2,120.4 L636.3,120.8 L637.4,121.2 L638.4,121.5 L639.5,121.8 L640.5,122.1 L641.6,122.3 L642.7,122.5 L643.7,122.6 L644.8,122.7 L645.8,122.8 L646.9,122.9 L647.9,123.0 L649.0,123.0 L650.1,123.1 L651.3,123.2 L652.6,123.3 L653.9,123.3 L655.3,123.4 L656.6,123.5 L657.7,123.5 L658.7,123.6 L659.4,123.6 L659.4,125.7 Z" fill="#FDBE81" stroke="#2a2a2a" stroke-width="1.3" stroke-linejoin="round"/>
<path d="M443.4,210.0 L443.4,209.9 L444.3,209.9 L445.6,209.9 L447.0,209.9 L448.7,209.9 L450.4,209.9 L452.0,209.9 L453.6,209.9 L455.0,209.9 L456.2,209.9 L457.3,209.8 L458.4,209.8 L459.4,209.7 L460.4,209.7 L461.4,209.6 L462.5,209.6 L463.5,209.5 L464.6,209.4 L465.6,209.4 L466.7,209.3 L467.8,209.2 L468.8,209.1 L469.9,209.0 L470.9,208.9 L472.0,208.8 L473.1,208.7 L474.1,208.5 L475.2,208.4 L476.2,208.2 L477.3,208.0 L478.4,207.8 L479.4,207.7 L480.5,207.5 L481.6,207.3 L482.6,207.2 L483.7,207.0 L484.8,206.8 L485.8,206.7 L486.9,206.5 L487.9,206.4 L489.0,206.3 L490.1,206.2 L491.1,206.1 L492.2,206.1 L493.2,206.0 L494.3,205.9 L495.4,205.9 L496.4,205.9 L497.5,205.8 L498.6,205.8 L499.6,205.7 L500.7,205.7 L501.7,205.7 L502.8,205.6 L503.9,205.6 L504.9,205.5 L506.0,205.4 L507.1,205.3 L508.1,205.1 L509.2,204.9 L510.3,204.7 L511.4,204.4 L512.5,204.2 L513.5,203.9 L514.6,203.7 L515.7,203.5 L516.7,203.2 L517.8,203.0 L518.9,202.7 L519.9,202.5 L521.0,202.2 L522.0,202.0 L523.1,201.7 L524.2,201.4 L525.2,201.2 L526.3,200.9 L527.4,200.7 L528.4,200.4 L529.5,200.1 L530.5,199.8 L531.6,199.5 L532.7,199.2 L533.7,198.8 L534.8,198.4 L535.9,198.0 L536.9,197.6 L538.0,197.3 L539.1,196.9 L540.1,196.6 L541.1,196.3 L542.2,196.1 L543.2,195.8 L544.2,195.6 L545.2,195.4 L546.3,195.2 L547.3,195.0 L548.3,194.7 L549.3,194.4 L550.3,194.1 L551.4,193.9 L552.4,193.6 L553.4,193.3 L554.4,192.9 L555.5,192.6 L556.5,192.2 L557.5,191.8 L558.6,191.3 L559.7,190.8 L560.7,190.3 L561.8,189.8 L562.9,189.3 L563.9,188.8 L565.0,188.4 L566.1,188.0 L567.1,187.7 L568.2,187.3 L569.2,187.0 L570.3,186.7 L571.4,186.4 L572.4,186.2 L573.5,185.9 L574.6,185.7 L575.6,185.5 L576.7,185.3 L577.8,185.1 L578.8,184.9 L579.9,184.8 L580.9,184.6 L582.0,184.5 L583.1,184.4 L584.1,184.3 L585.2,184.2 L586.2,184.1 L587.3,184.0 L588.4,183.9 L589.4,183.8 L590.5,183.7 L591.6,183.6 L592.6,183.5 L593.7,183.4 L594.8,183.3 L595.8,183.2 L596.9,183.1 L597.9,183.1 L599.0,183.0 L600.1,183.0 L601.2,182.9 L602.3,182.9 L603.5,182.9 L604.6,182.9 L605.6,182.9 L606.6,182.9 L607.5,183.0 L608.3,183.1 L609.1,183.2 L609.7,183.3 L610.4,183.4 L611.0,183.6 L611.5,183.8 L612.1,184.0 L612.6,184.2 L613.1,184.4 L613.4,184.6 L613.8,184.8 L614.1,185.0 L614.4,185.3 L614.8,185.7 L615.3,186.1 L616.0,186.7 L616.8,187.4 L617.8,188.3 L618.8,189.3 L620.0,190.3 L621.2,191.4 L622.3,192.5 L623.5,193.5 L624.6,194.4 L625.7,195.2 L626.7,196.1 L627.8,196.9 L628.9,197.6 L629.9,198.3 L631.0,199.0 L632.0,199.7 L633.1,200.3 L634.2,200.9 L635.2,201.4 L636.3,201.8 L637.4,202.3 L638.4,202.7 L639.5,203.0 L640.5,203.4 L641.6,203.7 L642.7,204.0 L643.7,204.2 L644.8,204.4 L645.8,204.6 L646.9,204.7 L647.9,204.8 L649.0,205.0 L650.1,205.1 L651.3,205.2 L652.6,205.3 L653.9,205.4 L655.3,205.5 L656.6,205.6 L657.7,205.7 L658.7,205.8 L659.4,205.8 L659.4,210.0 Z" fill="#BCE4B6" stroke="#2a2a2a" stroke-width="1.3" stroke-linejoin="round"/>
<path d="M486.7,293.6 L486.7,292.0 L487.3,292.0 L488.0,291.9 L488.8,291.9 L489.8,291.8 L490.9,291.7 L492.1,291.7 L493.4,291.6 L494.8,291.5 L496.3,291.4 L498.0,291.3 L499.9,291.3 L501.8,291.2 L503.8,291.1 L505.7,291.0 L507.7,290.9 L509.6,290.7 L511.5,290.5 L513.3,290.4 L515.1,290.2 L517.0,289.9 L518.9,289.7 L520.7,289.4 L522.5,289.1 L524.4,288.8 L526.2,288.4 L528.1,287.9 L529.9,287.4 L531.8,286.9 L533.6,286.4 L535.5,285.8 L537.4,285.3 L539.2,284.8 L541.0,284.3 L542.9,283.9 L544.7,283.4 L546.5,283.0 L548.4,282.5 L550.2,282.1 L552.1,281.6 L554.0,281.1 L556.0,280.6 L558.1,280.0 L560.3,279.5 L562.5,278.9 L564.6,278.3 L566.6,277.8 L568.4,277.3 L570.0,276.9 L571.3,276.5 L572.5,276.2 L573.4,276.0 L574.2,275.7 L575.0,275.5 L575.8,275.3 L576.5,275.1 L577.4,274.9 L578.3,274.7 L579.2,274.5 L580.2,274.4 L581.1,274.2 L582.0,274.1 L582.9,273.9 L583.9,273.7 L584.8,273.4 L585.7,273.1 L586.6,272.8 L587.6,272.5 L588.5,272.2 L589.4,271.8 L590.4,271.4 L591.3,270.9 L592.2,270.4 L593.1,269.8 L594.1,269.2 L595.0,268.5 L596.0,267.8 L596.9,267.0 L597.9,266.3 L598.7,265.5 L599.6,264.8 L600.4,264.1 L601.2,263.3 L601.9,262.6 L602.6,261.8 L603.3,261.1 L604.0,260.4 L604.7,259.8 L605.5,259.2 L606.3,258.7 L607.2,258.2 L608.0,257.7 L608.9,257.2 L609.8,256.9 L610.6,256.5 L611.4,256.3 L612.2,256.2 L612.9,256.2 L613.6,256.3 L614.3,256.4 L614.9,256.6 L615.5,256.9 L616.1,257.3 L616.7,257.7 L617.3,258.1 L617.9,258.6 L618.4,259.1 L619.0,259.7 L619.5,260.3 L620.0,261.0 L620.6,261.7 L621.2,262.5 L621.8,263.3 L622.5,264.2 L623.2,265.2 L623.9,266.3 L624.7,267.3 L625.4,268.4 L626.2,269.5 L627.0,270.5 L627.7,271.4 L628.4,272.2 L629.1,272.9 L629.8,273.6 L630.6,274.3 L631.3,274.9 L632.0,275.5 L632.8,276.0 L633.6,276.6 L634.4,277.1 L635.3,277.6 L636.2,278.1 L637.1,278.6 L638.0,279.0 L639.0,279.5 L640.0,279.9 L641.0,280.3 L642.0,280.7 L643.1,281.1 L644.2,281.5 L645.3,281.8 L646.5,282.2 L647.6,282.5 L648.7,282.9 L649.9,283.3 L651.1,283.7 L652.5,284.2 L653.8,284.7 L655.2,285.2 L656.5,285.7 L657.7,286.1 L658.7,286.4 L659.4,286.7 L659.4,293.6 Z" fill="#559CC8" stroke="#2a2a2a" stroke-width="1.3" stroke-linejoin="round"/>
<rect x="535.5" y="55.5" width="59.2" height="8.6" fill="#E98082"/>
<g fill="#D7191C"><circle cx="478.9" cy="54.2" r="1.25"/><circle cx="637.5" cy="71.2" r="1.25"/><circle cx="619.6" cy="70.2" r="1.25"/><circle cx="507.9" cy="55.4" r="1.25"/><circle cx="570.4" cy="56.7" r="1.25"/><circle cx="539.5" cy="51.8" r="1.25"/><circle cx="525.8" cy="63.2" r="1.25"/><circle cx="534.1" cy="59.5" r="1.25"/><circle cx="491.3" cy="68.6" r="1.25"/><circle cx="583.2" cy="62.7" r="1.25"/><circle cx="548.5" cy="52.7" r="1.25"/><circle cx="586.4" cy="59.2" r="1.25"/><circle cx="600.8" cy="53.5" r="1.25"/><circle cx="568.8" cy="65.6" r="1.25"/><circle cx="541.4" cy="69.2" r="1.25"/><circle cx="513.8" cy="46.7" r="1.25"/><circle cx="580.8" cy="61.4" r="1.25"/><circle cx="584.5" cy="62.2" r="1.25"/><circle cx="592.2" cy="53.9" r="1.25"/><circle cx="511.8" cy="63.6" r="1.25"/><circle cx="494.4" cy="63.9" r="1.25"/><circle cx="617.9" cy="55.1" r="1.25"/><circle cx="570.6" cy="57.2" r="1.25"/><circle cx="501.4" cy="54.4" r="1.25"/><circle cx="582.5" cy="51.1" r="1.25"/><circle cx="493.5" cy="62.2" r="1.25"/><circle cx="580.3" cy="72.5" r="1.25"/><circle cx="566.4" cy="71.3" r="1.25"/><circle cx="585.4" cy="61.3" r="1.25"/><circle cx="505.8" cy="59.9" r="1.25"/><circle cx="619.0" cy="49.6" r="1.25"/><circle cx="631.3" cy="64.8" r="1.25"/><circle cx="654.2" cy="64.5" r="1.25"/><circle cx="592.1" cy="52.9" r="1.25"/><circle cx="541.2" cy="63.7" r="1.25"/><circle cx="648.1" cy="52.1" r="1.25"/><circle cx="572.1" cy="66.5" r="1.25"/><circle cx="590.5" cy="52.9" r="1.25"/><circle cx="581.0" cy="47.5" r="1.25"/><circle cx="523.3" cy="58.0" r="1.25"/><circle cx="612.5" cy="61.3" r="1.25"/><circle cx="579.5" cy="71.6" r="1.25"/><circle cx="524.0" cy="51.1" r="1.25"/><circle cx="545.8" cy="61.3" r="1.25"/><circle cx="512.0" cy="47.3" r="1.25"/><circle cx="552.9" cy="72.6" r="1.25"/><circle cx="656.2" cy="56.3" r="1.25"/><circle cx="546.0" cy="68.3" r="1.25"/><circle cx="548.9" cy="55.8" r="1.25"/><circle cx="602.5" cy="64.9" r="1.25"/><circle cx="501.3" cy="58.3" r="1.25"/><circle cx="505.9" cy="57.1" r="1.25"/><circle cx="589.4" cy="67.5" r="1.25"/><circle cx="513.1" cy="63.6" r="1.25"/><circle cx="574.0" cy="60.2" r="1.25"/><circle cx="600.7" cy="58.5" r="1.25"/><circle cx="568.4" cy="58.6" r="1.25"/><circle cx="505.4" cy="49.3" r="1.25"/><circle cx="526.7" cy="66.1" r="1.25"/><circle cx="565.2" cy="65.4" r="1.25"/><circle cx="637.0" cy="59.8" r="1.25"/><circle cx="578.6" cy="65.9" r="1.25"/><circle cx="583.8" cy="63.2" r="1.25"/><circle cx="571.6" cy="48.2" r="1.25"/><circle cx="541.8" cy="72.6" r="1.25"/><circle cx="570.9" cy="70.5" r="1.25"/><circle cx="475.7" cy="63.7" r="1.25"/><circle cx="550.4" cy="64.7" r="1.25"/><circle cx="599.7" cy="67.4" r="1.25"/><circle cx="523.5" cy="55.2" r="1.25"/><circle cx="579.2" cy="49.1" r="1.25"/><circle cx="591.9" cy="62.5" r="1.25"/><circle cx="521.9" cy="51.0" r="1.25"/><circle cx="611.9" cy="51.7" r="1.25"/><circle cx="527.9" cy="58.1" r="1.25"/><circle cx="637.6" cy="61.1" r="1.25"/><circle cx="540.7" cy="51.5" r="1.25"/><circle cx="574.1" cy="53.4" r="1.25"/><circle cx="631.2" cy="67.1" r="1.25"/><circle cx="601.0" cy="65.6" r="1.25"/><circle cx="559.3" cy="69.0" r="1.25"/><circle cx="523.2" cy="72.3" r="1.25"/><circle cx="573.3" cy="61.2" r="1.25"/><circle cx="572.0" cy="56.6" r="1.25"/><circle cx="498.1" cy="47.2" r="1.25"/><circle cx="547.4" cy="55.6" r="1.25"/><circle cx="628.0" cy="65.8" r="1.25"/><circle cx="563.0" cy="48.3" r="1.25"/><circle cx="519.7" cy="55.7" r="1.25"/><circle cx="579.7" cy="65.2" r="1.25"/><circle cx="557.0" cy="65.8" r="1.25"/><circle cx="619.7" cy="68.0" r="1.25"/><circle cx="559.5" cy="70.3" r="1.25"/><circle cx="483.4" cy="57.1" r="1.25"/><circle cx="521.7" cy="61.3" r="1.25"/><circle cx="517.8" cy="60.7" r="1.25"/><circle cx="634.2" cy="64.3" r="1.25"/><circle cx="548.1" cy="47.2" r="1.25"/><circle cx="543.4" cy="70.8" r="1.25"/><circle cx="648.5" cy="70.9" r="1.25"/><circle cx="523.0" cy="56.0" r="1.25"/><circle cx="571.4" cy="64.1" r="1.25"/><circle cx="634.6" cy="71.1" r="1.25"/><circle cx="619.3" cy="66.7" r="1.25"/><circle cx="519.7" cy="52.2" r="1.25"/><circle cx="559.1" cy="60.4" r="1.25"/><circle cx="527.7" cy="56.3" r="1.25"/><circle cx="584.9" cy="68.9" r="1.25"/><circle cx="528.5" cy="62.0" r="1.25"/><circle cx="517.1" cy="70.6" r="1.25"/><circle cx="532.9" cy="72.1" r="1.25"/><circle cx="514.3" cy="66.3" r="1.25"/><circle cx="590.2" cy="59.8" r="1.25"/><circle cx="535.2" cy="51.8" r="1.25"/><circle cx="545.1" cy="48.8" r="1.25"/><circle cx="534.3" cy="63.7" r="1.25"/><circle cx="546.5" cy="61.4" r="1.25"/><circle cx="535.7" cy="71.5" r="1.25"/><circle cx="542.8" cy="53.3" r="1.25"/><circle cx="584.2" cy="72.1" r="1.25"/><circle cx="518.1" cy="65.0" r="1.25"/><circle cx="584.7" cy="64.1" r="1.25"/><circle cx="541.2" cy="66.0" r="1.25"/><circle cx="502.5" cy="71.2" r="1.25"/><circle cx="509.0" cy="55.3" r="1.25"/><circle cx="622.3" cy="64.5" r="1.25"/><circle cx="489.3" cy="63.2" r="1.25"/><circle cx="535.6" cy="55.7" r="1.25"/><circle cx="610.4" cy="53.9" r="1.25"/><circle cx="503.9" cy="69.2" r="1.25"/><circle cx="525.2" cy="51.7" r="1.25"/><circle cx="533.0" cy="69.7" r="1.25"/><circle cx="604.3" cy="64.6" r="1.25"/><circle cx="511.0" cy="71.3" r="1.25"/><circle cx="632.6" cy="70.6" r="1.25"/><circle cx="508.1" cy="71.3" r="1.25"/><circle cx="568.7" cy="48.4" r="1.25"/><circle cx="596.4" cy="50.6" r="1.25"/><circle cx="570.5" cy="47.6" r="1.25"/><circle cx="563.8" cy="50.4" r="1.25"/><circle cx="551.9" cy="56.2" r="1.25"/><circle cx="532.1" cy="53.6" r="1.25"/><circle cx="655.0" cy="71.3" r="1.25"/><circle cx="549.3" cy="65.3" r="1.25"/><circle cx="576.3" cy="67.0" r="1.25"/><circle cx="569.7" cy="50.0" r="1.25"/><circle cx="639.8" cy="58.0" r="1.25"/><circle cx="529.1" cy="72.0" r="1.25"/><circle cx="518.7" cy="51.9" r="1.25"/><circle cx="615.3" cy="70.4" r="1.25"/><circle cx="565.0" cy="58.4" r="1.25"/><circle cx="578.5" cy="62.2" r="1.25"/><circle cx="575.0" cy="46.5" r="1.25"/><circle cx="596.3" cy="72.2" r="1.25"/><circle cx="604.9" cy="57.9" r="1.25"/><circle cx="586.4" cy="57.1" r="1.25"/><circle cx="470.3" cy="69.2" r="1.25"/><circle cx="605.3" cy="63.5" r="1.25"/><circle cx="485.9" cy="64.4" r="1.25"/><circle cx="610.1" cy="67.1" r="1.25"/><circle cx="470.9" cy="70.8" r="1.25"/><circle cx="594.9" cy="69.1" r="1.25"/><circle cx="578.2" cy="64.1" r="1.25"/><circle cx="480.4" cy="61.9" r="1.25"/><circle cx="590.2" cy="51.4" r="1.25"/><circle cx="568.0" cy="70.8" r="1.25"/><circle cx="507.0" cy="59.3" r="1.25"/><circle cx="612.6" cy="57.6" r="1.25"/><circle cx="570.6" cy="60.3" r="1.25"/><circle cx="556.8" cy="71.0" r="1.25"/><circle cx="633.2" cy="67.0" r="1.25"/><circle cx="524.0" cy="70.1" r="1.25"/><circle cx="521.1" cy="48.7" r="1.25"/><circle cx="617.1" cy="70.4" r="1.25"/><circle cx="520.2" cy="72.1" r="1.25"/><circle cx="598.8" cy="61.9" r="1.25"/><circle cx="524.9" cy="54.2" r="1.25"/><circle cx="601.6" cy="57.8" r="1.25"/><circle cx="552.4" cy="67.1" r="1.25"/><circle cx="574.4" cy="49.0" r="1.25"/><circle cx="570.8" cy="68.1" r="1.25"/><circle cx="547.1" cy="50.2" r="1.25"/><circle cx="560.4" cy="59.5" r="1.25"/><circle cx="576.8" cy="71.1" r="1.25"/><circle cx="512.5" cy="71.4" r="1.25"/><circle cx="622.7" cy="61.1" r="1.25"/><circle cx="601.0" cy="64.7" r="1.25"/><circle cx="523.6" cy="59.3" r="1.25"/><circle cx="527.8" cy="47.6" r="1.25"/><circle cx="548.6" cy="68.9" r="1.25"/><circle cx="596.0" cy="49.1" r="1.25"/><circle cx="563.1" cy="65.3" r="1.25"/><circle cx="540.5" cy="56.4" r="1.25"/><circle cx="595.9" cy="46.6" r="1.25"/><circle cx="524.6" cy="53.1" r="1.25"/><circle cx="583.6" cy="61.0" r="1.25"/><circle cx="588.9" cy="69.6" r="1.25"/><circle cx="510.7" cy="66.5" r="1.25"/><circle cx="569.4" cy="59.6" r="1.25"/><circle cx="571.9" cy="68.0" r="1.25"/><circle cx="442.0" cy="62.1" r="1.25"/></g>
<line x1="470.9" y1="59.6" x2="535.5" y2="59.6" stroke="#222" stroke-width="1.2"/>
<line x1="594.7" y1="59.6" x2="659.2" y2="59.6" stroke="#222" stroke-width="1.2"/>
<rect x="535.5" y="55.5" width="59.2" height="8.6" fill="#E98082" fill-opacity="0.15" stroke="#2b2b2b" stroke-width="1"/>
<line x1="562.4" y1="55.5" x2="562.4" y2="64.1" stroke="#222" stroke-width="1.7"/>
<rect x="546.3" y="139.2" width="53.8" height="8.6" fill="#FED6B0"/>
<g fill="#FDBA79"><circle cx="584.8" cy="131.4" r="1.25"/><circle cx="518.1" cy="144.8" r="1.25"/><circle cx="533.8" cy="142.4" r="1.25"/><circle cx="590.2" cy="132.2" r="1.25"/><circle cx="609.5" cy="153.4" r="1.25"/><circle cx="559.9" cy="133.0" r="1.25"/><circle cx="580.3" cy="148.0" r="1.25"/><circle cx="594.5" cy="152.9" r="1.25"/><circle cx="577.0" cy="130.1" r="1.25"/><circle cx="569.5" cy="147.0" r="1.25"/><circle cx="588.4" cy="145.4" r="1.25"/><circle cx="592.4" cy="138.3" r="1.25"/><circle cx="605.8" cy="152.5" r="1.25"/><circle cx="577.6" cy="131.6" r="1.25"/><circle cx="587.1" cy="138.1" r="1.25"/><circle cx="536.2" cy="148.8" r="1.25"/><circle cx="531.2" cy="153.3" r="1.25"/><circle cx="606.4" cy="147.8" r="1.25"/><circle cx="541.4" cy="147.7" r="1.25"/><circle cx="569.0" cy="156.0" r="1.25"/><circle cx="614.5" cy="147.1" r="1.25"/><circle cx="522.7" cy="135.5" r="1.25"/><circle cx="591.6" cy="140.8" r="1.25"/><circle cx="546.6" cy="135.6" r="1.25"/><circle cx="584.0" cy="130.6" r="1.25"/><circle cx="605.9" cy="155.4" r="1.25"/><circle cx="606.4" cy="147.7" r="1.25"/><circle cx="600.4" cy="138.5" r="1.25"/><circle cx="574.6" cy="140.3" r="1.25"/><circle cx="577.7" cy="144.6" r="1.25"/><circle cx="532.7" cy="149.5" r="1.25"/><circle cx="520.3" cy="133.4" r="1.25"/><circle cx="601.7" cy="141.2" r="1.25"/><circle cx="498.5" cy="144.9" r="1.25"/><circle cx="628.5" cy="130.9" r="1.25"/><circle cx="533.3" cy="137.5" r="1.25"/><circle cx="593.1" cy="148.1" r="1.25"/><circle cx="565.7" cy="132.5" r="1.25"/><circle cx="584.1" cy="131.8" r="1.25"/><circle cx="601.6" cy="138.8" r="1.25"/><circle cx="550.6" cy="145.9" r="1.25"/><circle cx="608.0" cy="137.5" r="1.25"/><circle cx="598.6" cy="139.8" r="1.25"/><circle cx="580.0" cy="154.8" r="1.25"/><circle cx="576.7" cy="130.8" r="1.25"/><circle cx="561.4" cy="138.5" r="1.25"/><circle cx="644.4" cy="148.1" r="1.25"/><circle cx="563.7" cy="140.4" r="1.25"/><circle cx="540.5" cy="155.1" r="1.25"/><circle cx="576.1" cy="130.6" r="1.25"/><circle cx="624.4" cy="151.7" r="1.25"/><circle cx="627.1" cy="148.5" r="1.25"/><circle cx="579.4" cy="151.6" r="1.25"/><circle cx="562.6" cy="138.7" r="1.25"/><circle cx="598.0" cy="140.9" r="1.25"/><circle cx="576.9" cy="154.6" r="1.25"/><circle cx="606.9" cy="137.6" r="1.25"/><circle cx="610.9" cy="142.5" r="1.25"/><circle cx="595.2" cy="155.2" r="1.25"/><circle cx="641.9" cy="146.3" r="1.25"/><circle cx="589.3" cy="155.4" r="1.25"/><circle cx="641.6" cy="147.2" r="1.25"/><circle cx="587.1" cy="144.5" r="1.25"/><circle cx="543.4" cy="149.1" r="1.25"/><circle cx="581.4" cy="156.2" r="1.25"/><circle cx="600.3" cy="145.4" r="1.25"/><circle cx="564.8" cy="145.6" r="1.25"/><circle cx="528.6" cy="141.4" r="1.25"/><circle cx="558.4" cy="140.5" r="1.25"/><circle cx="598.3" cy="140.4" r="1.25"/><circle cx="538.7" cy="132.7" r="1.25"/><circle cx="479.7" cy="143.5" r="1.25"/><circle cx="615.2" cy="134.8" r="1.25"/><circle cx="644.4" cy="146.3" r="1.25"/><circle cx="617.9" cy="134.3" r="1.25"/><circle cx="606.1" cy="137.0" r="1.25"/><circle cx="594.7" cy="141.9" r="1.25"/><circle cx="579.0" cy="145.2" r="1.25"/><circle cx="591.6" cy="146.6" r="1.25"/><circle cx="599.3" cy="151.1" r="1.25"/><circle cx="549.8" cy="150.6" r="1.25"/><circle cx="535.9" cy="136.9" r="1.25"/><circle cx="596.0" cy="133.0" r="1.25"/><circle cx="581.4" cy="137.2" r="1.25"/><circle cx="653.9" cy="146.8" r="1.25"/><circle cx="561.4" cy="145.4" r="1.25"/><circle cx="565.0" cy="156.6" r="1.25"/><circle cx="520.5" cy="138.0" r="1.25"/><circle cx="481.6" cy="151.5" r="1.25"/><circle cx="526.8" cy="155.3" r="1.25"/><circle cx="583.3" cy="139.0" r="1.25"/><circle cx="636.8" cy="150.9" r="1.25"/><circle cx="521.8" cy="145.0" r="1.25"/><circle cx="529.8" cy="147.7" r="1.25"/><circle cx="588.9" cy="145.2" r="1.25"/><circle cx="550.0" cy="132.6" r="1.25"/><circle cx="497.3" cy="137.1" r="1.25"/><circle cx="614.3" cy="155.7" r="1.25"/><circle cx="531.2" cy="140.3" r="1.25"/><circle cx="570.4" cy="132.8" r="1.25"/><circle cx="599.2" cy="153.5" r="1.25"/><circle cx="602.6" cy="151.1" r="1.25"/><circle cx="636.0" cy="145.1" r="1.25"/><circle cx="581.6" cy="131.7" r="1.25"/><circle cx="526.7" cy="130.1" r="1.25"/><circle cx="506.4" cy="132.8" r="1.25"/><circle cx="590.4" cy="146.7" r="1.25"/><circle cx="577.0" cy="140.9" r="1.25"/><circle cx="548.7" cy="135.6" r="1.25"/><circle cx="527.8" cy="147.2" r="1.25"/><circle cx="554.9" cy="144.8" r="1.25"/><circle cx="550.3" cy="130.9" r="1.25"/><circle cx="557.9" cy="150.0" r="1.25"/><circle cx="556.0" cy="134.2" r="1.25"/><circle cx="602.6" cy="136.5" r="1.25"/><circle cx="566.4" cy="139.7" r="1.25"/><circle cx="609.4" cy="136.5" r="1.25"/><circle cx="575.4" cy="132.2" r="1.25"/><circle cx="553.4" cy="144.2" r="1.25"/><circle cx="624.5" cy="134.0" r="1.25"/><circle cx="590.1" cy="144.9" r="1.25"/><circle cx="609.4" cy="137.7" r="1.25"/><circle cx="543.2" cy="149.6" r="1.25"/><circle cx="644.0" cy="154.6" r="1.25"/><circle cx="582.5" cy="138.8" r="1.25"/><circle cx="558.8" cy="141.7" r="1.25"/><circle cx="546.0" cy="151.5" r="1.25"/><circle cx="516.7" cy="153.6" r="1.25"/><circle cx="493.9" cy="141.9" r="1.25"/><circle cx="536.6" cy="136.0" r="1.25"/><circle cx="550.3" cy="135.4" r="1.25"/><circle cx="579.5" cy="155.2" r="1.25"/><circle cx="563.8" cy="137.1" r="1.25"/><circle cx="498.7" cy="139.3" r="1.25"/><circle cx="526.5" cy="142.9" r="1.25"/><circle cx="485.7" cy="137.7" r="1.25"/><circle cx="490.2" cy="139.6" r="1.25"/><circle cx="550.8" cy="142.2" r="1.25"/><circle cx="590.1" cy="154.7" r="1.25"/><circle cx="531.8" cy="145.3" r="1.25"/><circle cx="615.5" cy="134.5" r="1.25"/><circle cx="654.4" cy="131.7" r="1.25"/><circle cx="581.5" cy="147.1" r="1.25"/><circle cx="496.0" cy="152.6" r="1.25"/><circle cx="536.4" cy="144.0" r="1.25"/><circle cx="575.5" cy="133.5" r="1.25"/><circle cx="625.9" cy="143.5" r="1.25"/><circle cx="651.0" cy="132.1" r="1.25"/><circle cx="595.2" cy="154.5" r="1.25"/><circle cx="614.3" cy="148.7" r="1.25"/><circle cx="515.0" cy="139.6" r="1.25"/><circle cx="573.4" cy="154.9" r="1.25"/><circle cx="573.0" cy="142.1" r="1.25"/><circle cx="541.2" cy="130.9" r="1.25"/><circle cx="580.2" cy="131.4" r="1.25"/><circle cx="581.1" cy="155.8" r="1.25"/><circle cx="644.8" cy="153.8" r="1.25"/><circle cx="503.8" cy="138.1" r="1.25"/><circle cx="552.2" cy="148.1" r="1.25"/><circle cx="528.2" cy="150.6" r="1.25"/><circle cx="539.8" cy="143.6" r="1.25"/><circle cx="550.4" cy="137.5" r="1.25"/><circle cx="559.0" cy="150.5" r="1.25"/><circle cx="635.4" cy="150.5" r="1.25"/><circle cx="553.9" cy="148.7" r="1.25"/><circle cx="574.2" cy="137.0" r="1.25"/><circle cx="531.2" cy="140.1" r="1.25"/><circle cx="543.2" cy="148.7" r="1.25"/><circle cx="539.9" cy="153.5" r="1.25"/><circle cx="580.0" cy="135.3" r="1.25"/><circle cx="550.1" cy="130.3" r="1.25"/><circle cx="547.7" cy="132.3" r="1.25"/><circle cx="572.0" cy="149.6" r="1.25"/><circle cx="480.7" cy="137.6" r="1.25"/><circle cx="613.9" cy="131.3" r="1.25"/><circle cx="498.2" cy="133.7" r="1.25"/><circle cx="564.9" cy="130.7" r="1.25"/><circle cx="652.9" cy="134.9" r="1.25"/><circle cx="532.3" cy="150.0" r="1.25"/><circle cx="495.7" cy="131.5" r="1.25"/><circle cx="570.9" cy="149.7" r="1.25"/><circle cx="585.3" cy="146.8" r="1.25"/><circle cx="562.3" cy="142.3" r="1.25"/><circle cx="541.4" cy="132.9" r="1.25"/><circle cx="596.3" cy="150.7" r="1.25"/><circle cx="584.9" cy="136.3" r="1.25"/><circle cx="555.5" cy="156.1" r="1.25"/><circle cx="586.3" cy="149.9" r="1.25"/><circle cx="612.4" cy="142.2" r="1.25"/><circle cx="575.2" cy="148.4" r="1.25"/><circle cx="562.1" cy="148.1" r="1.25"/><circle cx="581.7" cy="140.5" r="1.25"/><circle cx="575.0" cy="142.8" r="1.25"/><circle cx="514.3" cy="144.9" r="1.25"/><circle cx="624.0" cy="135.3" r="1.25"/><circle cx="520.3" cy="141.9" r="1.25"/><circle cx="598.6" cy="131.3" r="1.25"/><circle cx="568.4" cy="134.9" r="1.25"/><circle cx="600.5" cy="141.4" r="1.25"/><circle cx="572.7" cy="153.6" r="1.25"/><circle cx="603.2" cy="144.9" r="1.25"/><circle cx="567.3" cy="134.0" r="1.25"/><circle cx="545.7" cy="153.1" r="1.25"/><circle cx="598.4" cy="148.1" r="1.25"/><circle cx="609.6" cy="143.8" r="1.25"/><circle cx="573.4" cy="131.9" r="1.25"/><circle cx="628.6" cy="140.1" r="1.25"/><circle cx="593.1" cy="135.5" r="1.25"/><circle cx="629.6" cy="155.1" r="1.25"/><circle cx="535.3" cy="137.2" r="1.25"/><circle cx="633.5" cy="131.4" r="1.25"/><circle cx="602.0" cy="130.2" r="1.25"/><circle cx="629.9" cy="138.9" r="1.25"/><circle cx="556.8" cy="130.1" r="1.25"/><circle cx="577.4" cy="156.2" r="1.25"/><circle cx="623.1" cy="131.6" r="1.25"/><circle cx="591.3" cy="142.4" r="1.25"/><circle cx="554.3" cy="138.5" r="1.25"/><circle cx="550.6" cy="148.1" r="1.25"/><circle cx="632.3" cy="137.4" r="1.25"/><circle cx="444.2" cy="146.9" r="1.25"/><circle cx="444.6" cy="151.9" r="1.25"/></g>
<line x1="476.3" y1="143.3" x2="546.3" y2="143.3" stroke="#222" stroke-width="1.2"/>
<line x1="600.1" y1="143.3" x2="659.2" y2="143.3" stroke="#222" stroke-width="1.2"/>
<rect x="546.3" y="139.2" width="53.8" height="8.6" fill="#FED6B0" fill-opacity="0.15" stroke="#2b2b2b" stroke-width="1"/>
<line x1="573.2" y1="139.2" x2="573.2" y2="147.8" stroke="#222" stroke-width="1.7"/>
<rect x="557.0" y="222.9" width="53.8" height="8.6" fill="#D5EED2"/>
<g fill="#ABDDA4"><circle cx="604.9" cy="223.5" r="1.25"/><circle cx="609.3" cy="215.7" r="1.25"/><circle cx="599.5" cy="219.1" r="1.25"/><circle cx="543.7" cy="237.3" r="1.25"/><circle cx="604.6" cy="214.0" r="1.25"/><circle cx="536.1" cy="226.4" r="1.25"/><circle cx="531.1" cy="223.3" r="1.25"/><circle cx="582.0" cy="230.7" r="1.25"/><circle cx="535.0" cy="237.0" r="1.25"/><circle cx="523.8" cy="219.6" r="1.25"/><circle cx="587.6" cy="220.5" r="1.25"/><circle cx="647.1" cy="227.6" r="1.25"/><circle cx="497.2" cy="239.5" r="1.25"/><circle cx="576.9" cy="238.7" r="1.25"/><circle cx="513.1" cy="226.6" r="1.25"/><circle cx="586.4" cy="234.5" r="1.25"/><circle cx="591.7" cy="228.0" r="1.25"/><circle cx="582.9" cy="231.7" r="1.25"/><circle cx="488.1" cy="214.8" r="1.25"/><circle cx="603.3" cy="238.9" r="1.25"/><circle cx="585.1" cy="235.6" r="1.25"/><circle cx="587.6" cy="239.6" r="1.25"/><circle cx="599.0" cy="217.4" r="1.25"/><circle cx="626.2" cy="223.1" r="1.25"/><circle cx="570.8" cy="236.2" r="1.25"/><circle cx="629.0" cy="219.0" r="1.25"/><circle cx="535.8" cy="236.9" r="1.25"/><circle cx="577.9" cy="227.2" r="1.25"/><circle cx="534.1" cy="226.1" r="1.25"/><circle cx="566.8" cy="235.6" r="1.25"/><circle cx="625.1" cy="214.6" r="1.25"/><circle cx="650.6" cy="218.3" r="1.25"/><circle cx="578.8" cy="232.6" r="1.25"/><circle cx="556.1" cy="238.4" r="1.25"/><circle cx="561.5" cy="218.9" r="1.25"/><circle cx="624.6" cy="237.6" r="1.25"/><circle cx="571.6" cy="237.6" r="1.25"/><circle cx="540.6" cy="238.5" r="1.25"/><circle cx="614.0" cy="236.4" r="1.25"/><circle cx="586.5" cy="232.6" r="1.25"/><circle cx="571.2" cy="240.2" r="1.25"/><circle cx="628.6" cy="219.3" r="1.25"/><circle cx="608.0" cy="216.0" r="1.25"/><circle cx="463.6" cy="214.1" r="1.25"/><circle cx="643.6" cy="224.4" r="1.25"/><circle cx="576.3" cy="226.8" r="1.25"/><circle cx="537.5" cy="216.2" r="1.25"/><circle cx="627.7" cy="218.2" r="1.25"/><circle cx="573.2" cy="222.8" r="1.25"/><circle cx="598.9" cy="214.0" r="1.25"/><circle cx="605.9" cy="225.5" r="1.25"/><circle cx="541.9" cy="218.6" r="1.25"/><circle cx="656.5" cy="214.2" r="1.25"/><circle cx="587.7" cy="230.8" r="1.25"/><circle cx="495.9" cy="220.6" r="1.25"/><circle cx="583.9" cy="233.8" r="1.25"/><circle cx="472.9" cy="222.1" r="1.25"/><circle cx="654.7" cy="214.3" r="1.25"/><circle cx="602.2" cy="231.6" r="1.25"/><circle cx="569.9" cy="219.3" r="1.25"/><circle cx="610.8" cy="233.5" r="1.25"/><circle cx="608.3" cy="236.1" r="1.25"/><circle cx="606.6" cy="234.7" r="1.25"/><circle cx="544.4" cy="234.4" r="1.25"/><circle cx="514.3" cy="217.7" r="1.25"/><circle cx="619.6" cy="236.5" r="1.25"/><circle cx="626.4" cy="220.9" r="1.25"/><circle cx="561.7" cy="231.9" r="1.25"/><circle cx="565.8" cy="218.0" r="1.25"/><circle cx="574.0" cy="237.5" r="1.25"/><circle cx="557.9" cy="238.8" r="1.25"/><circle cx="636.6" cy="223.1" r="1.25"/><circle cx="583.2" cy="223.2" r="1.25"/><circle cx="604.2" cy="234.8" r="1.25"/><circle cx="593.5" cy="224.8" r="1.25"/><circle cx="513.8" cy="240.2" r="1.25"/><circle cx="502.3" cy="232.1" r="1.25"/><circle cx="529.2" cy="235.0" r="1.25"/><circle cx="583.3" cy="214.3" r="1.25"/><circle cx="594.8" cy="222.7" r="1.25"/><circle cx="658.0" cy="221.5" r="1.25"/><circle cx="624.3" cy="233.1" r="1.25"/><circle cx="605.7" cy="230.6" r="1.25"/><circle cx="568.2" cy="223.8" r="1.25"/><circle cx="562.2" cy="226.4" r="1.25"/><circle cx="602.3" cy="223.0" r="1.25"/><circle cx="560.5" cy="215.9" r="1.25"/><circle cx="609.9" cy="228.9" r="1.25"/><circle cx="605.9" cy="233.1" r="1.25"/><circle cx="525.6" cy="215.9" r="1.25"/><circle cx="610.2" cy="223.6" r="1.25"/><circle cx="511.9" cy="229.4" r="1.25"/><circle cx="563.9" cy="214.8" r="1.25"/><circle cx="648.6" cy="216.9" r="1.25"/><circle cx="601.5" cy="228.6" r="1.25"/><circle cx="619.2" cy="227.4" r="1.25"/><circle cx="630.9" cy="219.2" r="1.25"/><circle cx="552.5" cy="224.5" r="1.25"/><circle cx="613.1" cy="238.1" r="1.25"/><circle cx="569.7" cy="224.6" r="1.25"/><circle cx="505.4" cy="215.6" r="1.25"/><circle cx="520.8" cy="223.2" r="1.25"/><circle cx="526.7" cy="214.5" r="1.25"/><circle cx="595.1" cy="215.6" r="1.25"/><circle cx="593.6" cy="228.7" r="1.25"/><circle cx="614.3" cy="232.2" r="1.25"/><circle cx="557.1" cy="219.6" r="1.25"/><circle cx="611.0" cy="225.6" r="1.25"/><circle cx="549.1" cy="232.6" r="1.25"/><circle cx="563.6" cy="237.9" r="1.25"/><circle cx="602.4" cy="223.6" r="1.25"/><circle cx="568.5" cy="229.9" r="1.25"/><circle cx="656.8" cy="233.0" r="1.25"/><circle cx="561.2" cy="225.0" r="1.25"/><circle cx="546.9" cy="227.1" r="1.25"/><circle cx="620.4" cy="236.9" r="1.25"/><circle cx="619.4" cy="229.7" r="1.25"/><circle cx="533.8" cy="238.3" r="1.25"/><circle cx="564.7" cy="232.7" r="1.25"/><circle cx="586.0" cy="234.1" r="1.25"/><circle cx="504.0" cy="233.6" r="1.25"/><circle cx="570.0" cy="219.5" r="1.25"/><circle cx="612.1" cy="218.5" r="1.25"/><circle cx="610.6" cy="222.7" r="1.25"/><circle cx="530.8" cy="230.7" r="1.25"/><circle cx="559.2" cy="236.0" r="1.25"/><circle cx="549.3" cy="218.3" r="1.25"/><circle cx="597.6" cy="232.6" r="1.25"/><circle cx="523.9" cy="239.6" r="1.25"/><circle cx="652.3" cy="239.1" r="1.25"/><circle cx="526.1" cy="234.0" r="1.25"/><circle cx="584.5" cy="237.2" r="1.25"/><circle cx="604.0" cy="236.8" r="1.25"/><circle cx="639.8" cy="229.8" r="1.25"/><circle cx="595.5" cy="219.8" r="1.25"/><circle cx="621.5" cy="229.3" r="1.25"/><circle cx="582.9" cy="214.8" r="1.25"/><circle cx="548.7" cy="235.1" r="1.25"/><circle cx="572.4" cy="227.9" r="1.25"/><circle cx="595.2" cy="239.2" r="1.25"/><circle cx="584.2" cy="232.9" r="1.25"/><circle cx="612.5" cy="216.4" r="1.25"/><circle cx="584.4" cy="238.4" r="1.25"/><circle cx="569.5" cy="238.2" r="1.25"/><circle cx="582.1" cy="234.4" r="1.25"/><circle cx="582.7" cy="237.0" r="1.25"/><circle cx="461.7" cy="223.7" r="1.25"/><circle cx="562.8" cy="226.2" r="1.25"/><circle cx="591.7" cy="228.4" r="1.25"/><circle cx="603.2" cy="227.9" r="1.25"/><circle cx="570.6" cy="217.3" r="1.25"/><circle cx="605.4" cy="226.0" r="1.25"/><circle cx="581.6" cy="222.8" r="1.25"/><circle cx="566.6" cy="221.3" r="1.25"/><circle cx="551.3" cy="214.6" r="1.25"/><circle cx="608.3" cy="220.0" r="1.25"/><circle cx="633.5" cy="238.6" r="1.25"/><circle cx="606.8" cy="215.7" r="1.25"/><circle cx="548.0" cy="235.5" r="1.25"/><circle cx="607.3" cy="233.0" r="1.25"/><circle cx="582.6" cy="226.9" r="1.25"/><circle cx="632.0" cy="214.6" r="1.25"/><circle cx="455.0" cy="220.7" r="1.25"/><circle cx="613.3" cy="231.4" r="1.25"/><circle cx="580.2" cy="214.6" r="1.25"/><circle cx="622.7" cy="235.1" r="1.25"/><circle cx="594.5" cy="220.4" r="1.25"/><circle cx="454.7" cy="228.3" r="1.25"/><circle cx="599.7" cy="222.2" r="1.25"/><circle cx="584.8" cy="237.4" r="1.25"/><circle cx="550.4" cy="237.2" r="1.25"/><circle cx="522.3" cy="232.0" r="1.25"/><circle cx="572.3" cy="227.7" r="1.25"/><circle cx="588.5" cy="215.8" r="1.25"/><circle cx="576.7" cy="240.0" r="1.25"/><circle cx="470.5" cy="239.0" r="1.25"/><circle cx="530.2" cy="237.6" r="1.25"/><circle cx="599.8" cy="240.1" r="1.25"/><circle cx="589.2" cy="220.6" r="1.25"/><circle cx="603.7" cy="215.6" r="1.25"/><circle cx="571.1" cy="231.8" r="1.25"/><circle cx="550.9" cy="236.9" r="1.25"/><circle cx="609.2" cy="238.5" r="1.25"/><circle cx="544.6" cy="220.9" r="1.25"/><circle cx="497.0" cy="220.7" r="1.25"/><circle cx="567.3" cy="235.1" r="1.25"/><circle cx="576.2" cy="220.2" r="1.25"/><circle cx="543.9" cy="234.3" r="1.25"/><circle cx="641.1" cy="227.3" r="1.25"/><circle cx="548.2" cy="222.1" r="1.25"/><circle cx="522.7" cy="220.8" r="1.25"/><circle cx="602.4" cy="216.2" r="1.25"/><circle cx="532.1" cy="216.9" r="1.25"/><circle cx="555.2" cy="234.2" r="1.25"/><circle cx="573.9" cy="222.2" r="1.25"/><circle cx="558.1" cy="217.6" r="1.25"/><circle cx="602.1" cy="229.0" r="1.25"/><circle cx="532.5" cy="229.6" r="1.25"/><circle cx="595.1" cy="236.5" r="1.25"/><circle cx="525.2" cy="216.0" r="1.25"/><circle cx="589.9" cy="221.5" r="1.25"/><circle cx="654.6" cy="240.2" r="1.25"/><circle cx="611.4" cy="235.9" r="1.25"/><circle cx="636.9" cy="214.0" r="1.25"/><circle cx="586.9" cy="214.2" r="1.25"/><circle cx="534.0" cy="220.9" r="1.25"/><circle cx="566.8" cy="231.1" r="1.25"/><circle cx="612.2" cy="234.1" r="1.25"/><circle cx="526.1" cy="236.4" r="1.25"/><circle cx="601.2" cy="225.9" r="1.25"/><circle cx="561.9" cy="215.9" r="1.25"/><circle cx="629.7" cy="236.5" r="1.25"/><circle cx="565.9" cy="236.7" r="1.25"/><circle cx="561.9" cy="215.3" r="1.25"/><circle cx="558.8" cy="232.7" r="1.25"/><circle cx="586.6" cy="228.1" r="1.25"/><circle cx="640.0" cy="227.2" r="1.25"/><circle cx="582.6" cy="224.4" r="1.25"/><circle cx="606.3" cy="237.4" r="1.25"/><circle cx="585.6" cy="238.5" r="1.25"/><circle cx="508.8" cy="226.0" r="1.25"/><circle cx="589.4" cy="238.5" r="1.25"/><circle cx="594.0" cy="215.3" r="1.25"/><circle cx="594.1" cy="231.0" r="1.25"/><circle cx="558.8" cy="238.8" r="1.25"/><circle cx="552.6" cy="235.3" r="1.25"/><circle cx="564.1" cy="235.2" r="1.25"/><circle cx="482.2" cy="238.8" r="1.25"/><circle cx="537.6" cy="213.9" r="1.25"/><circle cx="555.0" cy="240.1" r="1.25"/><circle cx="584.8" cy="217.4" r="1.25"/><circle cx="629.2" cy="216.1" r="1.25"/><circle cx="605.6" cy="224.0" r="1.25"/><circle cx="582.8" cy="220.1" r="1.25"/><circle cx="603.2" cy="223.7" r="1.25"/><circle cx="576.4" cy="230.3" r="1.25"/><circle cx="491.5" cy="234.1" r="1.25"/><circle cx="602.4" cy="237.3" r="1.25"/><circle cx="606.7" cy="234.5" r="1.25"/><circle cx="597.9" cy="239.6" r="1.25"/><circle cx="622.0" cy="228.1" r="1.25"/><circle cx="611.8" cy="218.7" r="1.25"/><circle cx="616.0" cy="216.9" r="1.25"/><circle cx="494.7" cy="227.0" r="1.25"/><circle cx="657.3" cy="239.5" r="1.25"/><circle cx="589.7" cy="233.8" r="1.25"/><circle cx="590.9" cy="232.2" r="1.25"/><circle cx="594.4" cy="221.2" r="1.25"/><circle cx="549.2" cy="230.3" r="1.25"/><circle cx="554.9" cy="223.5" r="1.25"/><circle cx="623.7" cy="237.7" r="1.25"/><circle cx="596.4" cy="218.8" r="1.25"/><circle cx="645.5" cy="217.4" r="1.25"/><circle cx="548.5" cy="233.6" r="1.25"/><circle cx="591.8" cy="239.9" r="1.25"/><circle cx="594.8" cy="222.0" r="1.25"/><circle cx="489.3" cy="222.0" r="1.25"/><circle cx="593.8" cy="228.8" r="1.25"/><circle cx="565.9" cy="225.8" r="1.25"/><circle cx="571.2" cy="225.8" r="1.25"/><circle cx="543.1" cy="238.2" r="1.25"/><circle cx="597.1" cy="233.0" r="1.25"/><circle cx="601.4" cy="225.1" r="1.25"/><circle cx="629.1" cy="217.3" r="1.25"/><circle cx="614.4" cy="216.8" r="1.25"/><circle cx="653.4" cy="215.3" r="1.25"/><circle cx="649.6" cy="218.6" r="1.25"/><circle cx="606.5" cy="228.7" r="1.25"/><circle cx="558.1" cy="232.4" r="1.25"/><circle cx="585.5" cy="226.4" r="1.25"/><circle cx="509.0" cy="220.4" r="1.25"/><circle cx="589.3" cy="216.1" r="1.25"/><circle cx="559.5" cy="238.4" r="1.25"/><circle cx="581.6" cy="214.0" r="1.25"/><circle cx="604.9" cy="227.7" r="1.25"/><circle cx="497.7" cy="222.7" r="1.25"/><circle cx="622.2" cy="224.4" r="1.25"/><circle cx="486.6" cy="214.6" r="1.25"/><circle cx="579.0" cy="215.9" r="1.25"/><circle cx="548.2" cy="226.4" r="1.25"/><circle cx="486.3" cy="231.3" r="1.25"/><circle cx="580.6" cy="218.2" r="1.25"/><circle cx="551.1" cy="239.6" r="1.25"/><circle cx="510.6" cy="224.1" r="1.25"/><circle cx="615.5" cy="235.4" r="1.25"/><circle cx="549.4" cy="216.9" r="1.25"/><circle cx="638.1" cy="228.8" r="1.25"/><circle cx="595.1" cy="234.1" r="1.25"/><circle cx="569.8" cy="224.3" r="1.25"/><circle cx="496.9" cy="236.3" r="1.25"/><circle cx="620.2" cy="237.0" r="1.25"/><circle cx="520.5" cy="236.2" r="1.25"/><circle cx="611.6" cy="216.5" r="1.25"/><circle cx="585.1" cy="226.9" r="1.25"/><circle cx="576.8" cy="216.4" r="1.25"/><circle cx="507.3" cy="217.0" r="1.25"/><circle cx="571.2" cy="236.1" r="1.25"/><circle cx="473.4" cy="240.2" r="1.25"/><circle cx="611.1" cy="228.8" r="1.25"/><circle cx="603.1" cy="216.9" r="1.25"/><circle cx="531.6" cy="228.9" r="1.25"/><circle cx="584.3" cy="233.7" r="1.25"/><circle cx="537.2" cy="232.6" r="1.25"/><circle cx="602.8" cy="228.2" r="1.25"/><circle cx="542.7" cy="235.5" r="1.25"/><circle cx="537.9" cy="227.5" r="1.25"/><circle cx="557.1" cy="214.4" r="1.25"/><circle cx="648.5" cy="228.7" r="1.25"/><circle cx="618.4" cy="237.2" r="1.25"/><circle cx="570.8" cy="217.5" r="1.25"/><circle cx="610.2" cy="234.4" r="1.25"/><circle cx="566.0" cy="234.3" r="1.25"/><circle cx="541.4" cy="237.0" r="1.25"/><circle cx="626.1" cy="224.4" r="1.25"/><circle cx="484.7" cy="227.5" r="1.25"/><circle cx="612.3" cy="227.4" r="1.25"/><circle cx="643.2" cy="238.0" r="1.25"/><circle cx="510.0" cy="222.1" r="1.25"/><circle cx="624.0" cy="233.0" r="1.25"/><circle cx="609.7" cy="219.3" r="1.25"/><circle cx="488.0" cy="227.2" r="1.25"/><circle cx="579.1" cy="217.1" r="1.25"/><circle cx="553.1" cy="236.6" r="1.25"/><circle cx="567.3" cy="221.8" r="1.25"/><circle cx="570.3" cy="239.6" r="1.25"/><circle cx="571.1" cy="228.1" r="1.25"/><circle cx="459.8" cy="221.2" r="1.25"/><circle cx="551.7" cy="231.5" r="1.25"/><circle cx="556.3" cy="221.9" r="1.25"/><circle cx="602.0" cy="231.2" r="1.25"/><circle cx="599.0" cy="217.9" r="1.25"/><circle cx="604.8" cy="238.7" r="1.25"/><circle cx="596.5" cy="219.3" r="1.25"/><circle cx="627.5" cy="213.8" r="1.25"/><circle cx="591.5" cy="238.8" r="1.25"/><circle cx="560.9" cy="222.8" r="1.25"/><circle cx="486.0" cy="218.7" r="1.25"/><circle cx="606.4" cy="223.7" r="1.25"/><circle cx="586.6" cy="219.5" r="1.25"/><circle cx="536.4" cy="232.4" r="1.25"/><circle cx="581.3" cy="228.3" r="1.25"/><circle cx="638.5" cy="230.6" r="1.25"/><circle cx="595.5" cy="234.5" r="1.25"/><circle cx="561.5" cy="236.3" r="1.25"/><circle cx="615.9" cy="215.3" r="1.25"/><circle cx="574.0" cy="222.8" r="1.25"/><circle cx="466.3" cy="223.6" r="1.25"/><circle cx="508.6" cy="228.5" r="1.25"/><circle cx="644.2" cy="221.6" r="1.25"/><circle cx="514.9" cy="219.9" r="1.25"/><circle cx="612.4" cy="219.9" r="1.25"/><circle cx="479.4" cy="214.7" r="1.25"/><circle cx="573.7" cy="222.3" r="1.25"/><circle cx="557.4" cy="222.0" r="1.25"/><circle cx="562.1" cy="236.8" r="1.25"/><circle cx="516.3" cy="214.8" r="1.25"/><circle cx="575.6" cy="227.1" r="1.25"/><circle cx="612.1" cy="238.4" r="1.25"/><circle cx="582.2" cy="223.9" r="1.25"/><circle cx="526.8" cy="227.5" r="1.25"/><circle cx="618.3" cy="236.0" r="1.25"/><circle cx="624.3" cy="231.3" r="1.25"/><circle cx="576.2" cy="237.7" r="1.25"/><circle cx="566.1" cy="217.9" r="1.25"/><circle cx="470.2" cy="219.2" r="1.25"/><circle cx="501.3" cy="230.7" r="1.25"/><circle cx="570.0" cy="220.7" r="1.25"/><circle cx="518.7" cy="230.8" r="1.25"/><circle cx="647.4" cy="226.8" r="1.25"/><circle cx="596.9" cy="216.8" r="1.25"/><circle cx="562.6" cy="219.4" r="1.25"/><circle cx="590.8" cy="219.2" r="1.25"/><circle cx="537.2" cy="224.4" r="1.25"/><circle cx="634.7" cy="223.4" r="1.25"/><circle cx="583.9" cy="216.5" r="1.25"/><circle cx="604.2" cy="224.8" r="1.25"/><circle cx="543.0" cy="229.3" r="1.25"/><circle cx="580.2" cy="236.4" r="1.25"/><circle cx="603.2" cy="222.1" r="1.25"/><circle cx="569.6" cy="233.8" r="1.25"/><circle cx="503.6" cy="224.4" r="1.25"/><circle cx="578.5" cy="214.1" r="1.25"/><circle cx="614.2" cy="223.2" r="1.25"/><circle cx="576.6" cy="219.8" r="1.25"/><circle cx="655.5" cy="234.1" r="1.25"/><circle cx="590.5" cy="228.8" r="1.25"/><circle cx="623.8" cy="219.8" r="1.25"/><circle cx="482.3" cy="224.9" r="1.25"/><circle cx="597.1" cy="222.8" r="1.25"/><circle cx="582.5" cy="234.1" r="1.25"/><circle cx="569.4" cy="232.8" r="1.25"/><circle cx="628.5" cy="218.8" r="1.25"/><circle cx="514.5" cy="228.0" r="1.25"/><circle cx="580.7" cy="224.3" r="1.25"/><circle cx="555.7" cy="221.9" r="1.25"/><circle cx="643.2" cy="239.9" r="1.25"/><circle cx="611.9" cy="232.9" r="1.25"/><circle cx="540.7" cy="224.3" r="1.25"/><circle cx="527.1" cy="225.7" r="1.25"/><circle cx="474.3" cy="234.4" r="1.25"/><circle cx="533.9" cy="224.1" r="1.25"/><circle cx="632.9" cy="235.8" r="1.25"/><circle cx="618.9" cy="231.0" r="1.25"/><circle cx="608.9" cy="230.5" r="1.25"/><circle cx="573.7" cy="227.4" r="1.25"/><circle cx="578.1" cy="228.1" r="1.25"/><circle cx="591.8" cy="223.1" r="1.25"/><circle cx="616.0" cy="217.6" r="1.25"/><circle cx="448.8" cy="215.1" r="1.25"/><circle cx="543.1" cy="222.9" r="1.25"/><circle cx="591.7" cy="217.3" r="1.25"/><circle cx="531.0" cy="229.7" r="1.25"/><circle cx="638.6" cy="234.8" r="1.25"/><circle cx="490.2" cy="233.4" r="1.25"/><circle cx="645.9" cy="221.7" r="1.25"/><circle cx="548.1" cy="228.9" r="1.25"/><circle cx="543.2" cy="236.6" r="1.25"/><circle cx="572.7" cy="221.2" r="1.25"/><circle cx="593.1" cy="214.8" r="1.25"/><circle cx="655.0" cy="235.1" r="1.25"/><circle cx="576.1" cy="226.8" r="1.25"/><circle cx="628.7" cy="230.7" r="1.25"/><circle cx="626.5" cy="239.0" r="1.25"/><circle cx="653.4" cy="222.0" r="1.25"/><circle cx="567.8" cy="222.9" r="1.25"/><circle cx="578.0" cy="226.9" r="1.25"/><circle cx="474.0" cy="229.8" r="1.25"/><circle cx="568.2" cy="232.6" r="1.25"/><circle cx="566.4" cy="214.8" r="1.25"/><circle cx="525.9" cy="223.5" r="1.25"/><circle cx="616.7" cy="220.9" r="1.25"/><circle cx="556.2" cy="220.7" r="1.25"/><circle cx="524.7" cy="230.9" r="1.25"/><circle cx="517.9" cy="222.1" r="1.25"/><circle cx="476.1" cy="232.2" r="1.25"/><circle cx="610.1" cy="215.4" r="1.25"/><circle cx="584.0" cy="225.8" r="1.25"/><circle cx="586.6" cy="229.1" r="1.25"/><circle cx="570.7" cy="230.8" r="1.25"/><circle cx="640.9" cy="223.6" r="1.25"/><circle cx="565.3" cy="229.7" r="1.25"/><circle cx="576.8" cy="238.8" r="1.25"/><circle cx="598.4" cy="239.5" r="1.25"/><circle cx="634.6" cy="227.5" r="1.25"/><circle cx="621.4" cy="224.0" r="1.25"/><circle cx="622.9" cy="218.7" r="1.25"/><circle cx="540.1" cy="215.3" r="1.25"/><circle cx="637.3" cy="218.8" r="1.25"/><circle cx="618.5" cy="225.7" r="1.25"/><circle cx="560.9" cy="221.0" r="1.25"/><circle cx="614.5" cy="216.1" r="1.25"/><circle cx="635.3" cy="232.8" r="1.25"/><circle cx="603.3" cy="236.1" r="1.25"/><circle cx="608.0" cy="238.0" r="1.25"/><circle cx="614.5" cy="234.8" r="1.25"/><circle cx="622.1" cy="238.9" r="1.25"/><circle cx="609.7" cy="229.8" r="1.25"/><circle cx="509.2" cy="218.7" r="1.25"/><circle cx="546.8" cy="233.0" r="1.25"/><circle cx="526.4" cy="236.5" r="1.25"/><circle cx="576.0" cy="233.9" r="1.25"/><circle cx="502.3" cy="234.1" r="1.25"/><circle cx="587.4" cy="223.7" r="1.25"/><circle cx="631.8" cy="232.2" r="1.25"/><circle cx="654.5" cy="235.3" r="1.25"/><circle cx="484.4" cy="221.3" r="1.25"/><circle cx="601.3" cy="220.1" r="1.25"/><circle cx="532.0" cy="222.0" r="1.25"/><circle cx="622.5" cy="215.2" r="1.25"/><circle cx="483.9" cy="216.7" r="1.25"/><circle cx="518.9" cy="224.1" r="1.25"/><circle cx="561.3" cy="228.0" r="1.25"/><circle cx="449.6" cy="234.8" r="1.25"/><circle cx="602.6" cy="235.0" r="1.25"/><circle cx="542.1" cy="219.0" r="1.25"/><circle cx="603.9" cy="214.0" r="1.25"/><circle cx="635.5" cy="234.5" r="1.25"/><circle cx="576.2" cy="220.9" r="1.25"/><circle cx="577.9" cy="217.9" r="1.25"/><circle cx="658.4" cy="220.4" r="1.25"/><circle cx="561.9" cy="218.4" r="1.25"/><circle cx="619.0" cy="237.9" r="1.25"/><circle cx="606.7" cy="234.2" r="1.25"/><circle cx="458.9" cy="238.7" r="1.25"/><circle cx="558.8" cy="224.6" r="1.25"/><circle cx="604.3" cy="234.8" r="1.25"/><circle cx="489.9" cy="228.9" r="1.25"/><circle cx="623.6" cy="238.0" r="1.25"/><circle cx="629.2" cy="225.1" r="1.25"/><circle cx="608.2" cy="223.0" r="1.25"/><circle cx="615.0" cy="229.1" r="1.25"/><circle cx="595.9" cy="239.8" r="1.25"/><circle cx="615.2" cy="223.4" r="1.25"/><circle cx="576.3" cy="235.9" r="1.25"/><circle cx="573.2" cy="219.9" r="1.25"/><circle cx="605.5" cy="226.6" r="1.25"/><circle cx="580.2" cy="219.8" r="1.25"/><circle cx="562.4" cy="225.5" r="1.25"/><circle cx="549.5" cy="217.4" r="1.25"/><circle cx="571.8" cy="225.3" r="1.25"/><circle cx="568.1" cy="233.5" r="1.25"/><circle cx="613.0" cy="216.1" r="1.25"/><circle cx="613.4" cy="224.7" r="1.25"/><circle cx="612.3" cy="222.5" r="1.25"/><circle cx="617.4" cy="231.9" r="1.25"/><circle cx="565.2" cy="236.9" r="1.25"/><circle cx="565.3" cy="226.8" r="1.25"/><circle cx="614.7" cy="229.4" r="1.25"/><circle cx="533.8" cy="229.9" r="1.25"/><circle cx="606.9" cy="229.5" r="1.25"/><circle cx="585.7" cy="223.8" r="1.25"/><circle cx="601.0" cy="225.6" r="1.25"/><circle cx="602.3" cy="216.2" r="1.25"/><circle cx="602.0" cy="214.1" r="1.25"/><circle cx="548.2" cy="216.0" r="1.25"/><circle cx="477.4" cy="216.4" r="1.25"/><circle cx="639.2" cy="219.6" r="1.25"/><circle cx="624.6" cy="236.8" r="1.25"/><circle cx="584.3" cy="236.2" r="1.25"/><circle cx="601.6" cy="216.2" r="1.25"/><circle cx="511.8" cy="232.7" r="1.25"/><circle cx="580.4" cy="218.5" r="1.25"/><circle cx="591.4" cy="214.4" r="1.25"/><circle cx="606.9" cy="230.4" r="1.25"/><circle cx="545.6" cy="223.9" r="1.25"/><circle cx="512.9" cy="226.4" r="1.25"/><circle cx="643.1" cy="218.1" r="1.25"/><circle cx="613.6" cy="227.7" r="1.25"/><circle cx="533.8" cy="216.3" r="1.25"/><circle cx="614.9" cy="217.5" r="1.25"/><circle cx="618.2" cy="221.4" r="1.25"/><circle cx="541.7" cy="214.0" r="1.25"/><circle cx="617.1" cy="239.1" r="1.25"/><circle cx="569.2" cy="234.0" r="1.25"/><circle cx="562.0" cy="226.4" r="1.25"/><circle cx="537.7" cy="220.0" r="1.25"/><circle cx="589.3" cy="233.1" r="1.25"/><circle cx="593.8" cy="226.3" r="1.25"/><circle cx="581.4" cy="231.8" r="1.25"/><circle cx="517.6" cy="220.6" r="1.25"/><circle cx="609.3" cy="232.8" r="1.25"/><circle cx="561.9" cy="240.1" r="1.25"/><circle cx="553.3" cy="238.3" r="1.25"/><circle cx="595.7" cy="219.8" r="1.25"/><circle cx="539.9" cy="223.4" r="1.25"/><circle cx="625.4" cy="226.1" r="1.25"/><circle cx="601.6" cy="227.6" r="1.25"/><circle cx="609.0" cy="233.2" r="1.25"/><circle cx="564.9" cy="226.3" r="1.25"/><circle cx="571.2" cy="233.1" r="1.25"/><circle cx="551.9" cy="235.2" r="1.25"/><circle cx="552.2" cy="236.9" r="1.25"/><circle cx="570.5" cy="231.0" r="1.25"/><circle cx="611.4" cy="234.4" r="1.25"/><circle cx="582.4" cy="229.3" r="1.25"/><circle cx="614.9" cy="233.8" r="1.25"/><circle cx="517.1" cy="217.9" r="1.25"/><circle cx="559.4" cy="233.3" r="1.25"/><circle cx="485.7" cy="222.0" r="1.25"/><circle cx="626.6" cy="219.9" r="1.25"/><circle cx="501.3" cy="239.5" r="1.25"/><circle cx="587.7" cy="233.6" r="1.25"/><circle cx="601.2" cy="233.3" r="1.25"/><circle cx="539.8" cy="219.6" r="1.25"/><circle cx="654.5" cy="240.2" r="1.25"/><circle cx="653.3" cy="219.5" r="1.25"/><circle cx="546.3" cy="218.7" r="1.25"/><circle cx="529.3" cy="233.3" r="1.25"/><circle cx="598.7" cy="225.6" r="1.25"/><circle cx="584.7" cy="217.9" r="1.25"/><circle cx="592.8" cy="239.4" r="1.25"/><circle cx="596.7" cy="237.2" r="1.25"/><circle cx="643.5" cy="227.1" r="1.25"/><circle cx="608.7" cy="220.1" r="1.25"/><circle cx="560.3" cy="227.9" r="1.25"/><circle cx="605.1" cy="218.3" r="1.25"/><circle cx="576.4" cy="229.0" r="1.25"/><circle cx="646.5" cy="214.0" r="1.25"/><circle cx="577.1" cy="235.1" r="1.25"/><circle cx="461.0" cy="227.5" r="1.25"/><circle cx="630.9" cy="226.1" r="1.25"/><circle cx="554.4" cy="222.4" r="1.25"/><circle cx="616.1" cy="216.1" r="1.25"/><circle cx="595.1" cy="225.5" r="1.25"/><circle cx="603.0" cy="217.6" r="1.25"/><circle cx="605.4" cy="237.6" r="1.25"/><circle cx="624.6" cy="228.7" r="1.25"/><circle cx="615.0" cy="224.0" r="1.25"/><circle cx="597.0" cy="230.5" r="1.25"/><circle cx="561.2" cy="225.7" r="1.25"/><circle cx="586.5" cy="236.8" r="1.25"/><circle cx="556.6" cy="227.8" r="1.25"/><circle cx="562.2" cy="217.7" r="1.25"/><circle cx="581.1" cy="219.8" r="1.25"/><circle cx="571.6" cy="216.6" r="1.25"/><circle cx="559.4" cy="238.0" r="1.25"/><circle cx="557.8" cy="227.8" r="1.25"/><circle cx="562.8" cy="223.6" r="1.25"/><circle cx="543.0" cy="228.5" r="1.25"/><circle cx="591.2" cy="232.2" r="1.25"/><circle cx="514.9" cy="231.6" r="1.25"/><circle cx="553.1" cy="235.3" r="1.25"/><circle cx="536.5" cy="222.2" r="1.25"/><circle cx="604.2" cy="218.9" r="1.25"/><circle cx="558.9" cy="226.6" r="1.25"/><circle cx="516.7" cy="229.6" r="1.25"/><circle cx="618.2" cy="238.1" r="1.25"/><circle cx="575.5" cy="236.8" r="1.25"/><circle cx="614.5" cy="227.4" r="1.25"/><circle cx="563.5" cy="230.8" r="1.25"/><circle cx="561.6" cy="214.7" r="1.25"/><circle cx="591.4" cy="234.4" r="1.25"/><circle cx="505.2" cy="224.0" r="1.25"/><circle cx="647.1" cy="236.2" r="1.25"/><circle cx="525.6" cy="231.4" r="1.25"/><circle cx="624.5" cy="216.6" r="1.25"/><circle cx="601.5" cy="237.2" r="1.25"/><circle cx="610.0" cy="236.9" r="1.25"/><circle cx="544.5" cy="229.1" r="1.25"/><circle cx="626.1" cy="227.9" r="1.25"/><circle cx="582.3" cy="223.9" r="1.25"/><circle cx="573.0" cy="229.1" r="1.25"/><circle cx="539.3" cy="229.8" r="1.25"/><circle cx="533.9" cy="239.7" r="1.25"/><circle cx="620.2" cy="216.6" r="1.25"/><circle cx="647.2" cy="228.8" r="1.25"/><circle cx="572.9" cy="231.2" r="1.25"/><circle cx="603.3" cy="224.7" r="1.25"/><circle cx="600.4" cy="239.6" r="1.25"/><circle cx="586.0" cy="228.9" r="1.25"/><circle cx="577.5" cy="216.8" r="1.25"/><circle cx="590.0" cy="228.7" r="1.25"/><circle cx="562.3" cy="232.9" r="1.25"/><circle cx="605.3" cy="234.4" r="1.25"/><circle cx="572.0" cy="222.4" r="1.25"/><circle cx="586.1" cy="229.1" r="1.25"/><circle cx="543.3" cy="215.3" r="1.25"/><circle cx="650.8" cy="215.2" r="1.25"/><circle cx="509.9" cy="229.1" r="1.25"/><circle cx="603.4" cy="221.8" r="1.25"/><circle cx="600.0" cy="228.5" r="1.25"/><circle cx="562.3" cy="214.4" r="1.25"/><circle cx="651.1" cy="223.1" r="1.25"/><circle cx="488.3" cy="238.4" r="1.25"/><circle cx="559.6" cy="218.6" r="1.25"/><circle cx="564.5" cy="227.3" r="1.25"/><circle cx="595.5" cy="220.2" r="1.25"/><circle cx="587.4" cy="229.1" r="1.25"/><circle cx="607.6" cy="224.8" r="1.25"/><circle cx="624.0" cy="232.5" r="1.25"/><circle cx="468.4" cy="238.5" r="1.25"/><circle cx="587.2" cy="219.6" r="1.25"/><circle cx="573.5" cy="238.7" r="1.25"/><circle cx="598.1" cy="221.6" r="1.25"/><circle cx="581.5" cy="216.0" r="1.25"/><circle cx="562.0" cy="229.0" r="1.25"/><circle cx="454.9" cy="215.0" r="1.25"/><circle cx="562.0" cy="225.5" r="1.25"/><circle cx="580.9" cy="222.4" r="1.25"/><circle cx="563.1" cy="226.7" r="1.25"/><circle cx="569.3" cy="229.8" r="1.25"/><circle cx="602.7" cy="230.6" r="1.25"/><circle cx="561.5" cy="224.9" r="1.25"/><circle cx="623.5" cy="223.5" r="1.25"/><circle cx="570.1" cy="225.4" r="1.25"/><circle cx="575.5" cy="217.7" r="1.25"/><circle cx="574.7" cy="225.5" r="1.25"/><circle cx="625.5" cy="229.4" r="1.25"/><circle cx="592.3" cy="219.0" r="1.25"/><circle cx="645.0" cy="227.6" r="1.25"/><circle cx="448.5" cy="217.5" r="1.25"/><circle cx="641.3" cy="219.8" r="1.25"/><circle cx="540.7" cy="214.2" r="1.25"/><circle cx="625.4" cy="225.1" r="1.25"/><circle cx="494.5" cy="236.7" r="1.25"/><circle cx="623.9" cy="219.7" r="1.25"/><circle cx="592.7" cy="236.3" r="1.25"/><circle cx="601.1" cy="220.3" r="1.25"/><circle cx="567.4" cy="238.3" r="1.25"/><circle cx="569.5" cy="238.6" r="1.25"/><circle cx="535.5" cy="218.8" r="1.25"/><circle cx="530.3" cy="216.7" r="1.25"/><circle cx="592.6" cy="216.1" r="1.25"/><circle cx="561.1" cy="218.1" r="1.25"/><circle cx="480.4" cy="232.2" r="1.25"/><circle cx="536.4" cy="214.4" r="1.25"/><circle cx="537.4" cy="235.5" r="1.25"/><circle cx="543.3" cy="219.5" r="1.25"/><circle cx="579.8" cy="228.5" r="1.25"/><circle cx="628.1" cy="237.7" r="1.25"/><circle cx="587.0" cy="236.1" r="1.25"/><circle cx="607.4" cy="230.9" r="1.25"/><circle cx="518.8" cy="228.1" r="1.25"/><circle cx="598.1" cy="233.5" r="1.25"/><circle cx="621.9" cy="229.0" r="1.25"/><circle cx="660.4" cy="216.4" r="1.25"/><circle cx="603.0" cy="216.9" r="1.25"/><circle cx="592.4" cy="235.0" r="1.25"/><circle cx="641.1" cy="223.7" r="1.25"/><circle cx="525.6" cy="220.6" r="1.25"/><circle cx="613.0" cy="238.0" r="1.25"/><circle cx="604.9" cy="229.3" r="1.25"/><circle cx="607.0" cy="239.8" r="1.25"/><circle cx="568.8" cy="225.7" r="1.25"/><circle cx="506.1" cy="230.8" r="1.25"/><circle cx="531.0" cy="232.1" r="1.25"/><circle cx="599.2" cy="236.6" r="1.25"/><circle cx="562.9" cy="223.8" r="1.25"/><circle cx="636.3" cy="214.5" r="1.25"/><circle cx="525.9" cy="222.1" r="1.25"/><circle cx="618.1" cy="222.3" r="1.25"/><circle cx="577.5" cy="234.5" r="1.25"/><circle cx="556.4" cy="239.9" r="1.25"/><circle cx="552.0" cy="238.6" r="1.25"/><circle cx="565.7" cy="214.9" r="1.25"/><circle cx="565.2" cy="237.0" r="1.25"/><circle cx="546.1" cy="233.2" r="1.25"/><circle cx="546.4" cy="239.4" r="1.25"/><circle cx="650.1" cy="226.5" r="1.25"/><circle cx="571.4" cy="223.9" r="1.25"/><circle cx="594.1" cy="223.3" r="1.25"/><circle cx="606.6" cy="236.0" r="1.25"/><circle cx="564.2" cy="218.9" r="1.25"/><circle cx="630.6" cy="231.5" r="1.25"/><circle cx="558.3" cy="234.5" r="1.25"/><circle cx="543.1" cy="222.6" r="1.25"/><circle cx="490.1" cy="223.5" r="1.25"/><circle cx="550.7" cy="216.6" r="1.25"/><circle cx="498.8" cy="227.3" r="1.25"/><circle cx="595.3" cy="236.8" r="1.25"/><circle cx="589.7" cy="237.3" r="1.25"/><circle cx="478.0" cy="227.7" r="1.25"/><circle cx="638.4" cy="226.2" r="1.25"/><circle cx="604.8" cy="233.2" r="1.25"/><circle cx="589.8" cy="223.5" r="1.25"/><circle cx="638.5" cy="227.9" r="1.25"/><circle cx="581.8" cy="233.5" r="1.25"/><circle cx="535.5" cy="238.4" r="1.25"/><circle cx="613.0" cy="216.7" r="1.25"/><circle cx="641.8" cy="232.2" r="1.25"/><circle cx="496.2" cy="235.6" r="1.25"/><circle cx="584.9" cy="239.0" r="1.25"/><circle cx="545.5" cy="232.0" r="1.25"/><circle cx="627.5" cy="231.8" r="1.25"/><circle cx="516.4" cy="223.1" r="1.25"/><circle cx="614.8" cy="235.1" r="1.25"/><circle cx="539.0" cy="228.4" r="1.25"/><circle cx="597.0" cy="236.2" r="1.25"/><circle cx="601.1" cy="214.1" r="1.25"/><circle cx="613.4" cy="225.7" r="1.25"/><circle cx="496.7" cy="215.5" r="1.25"/><circle cx="576.6" cy="214.9" r="1.25"/><circle cx="525.1" cy="223.8" r="1.25"/><circle cx="523.6" cy="235.5" r="1.25"/><circle cx="533.2" cy="224.9" r="1.25"/><circle cx="531.8" cy="235.8" r="1.25"/><circle cx="633.5" cy="227.6" r="1.25"/><circle cx="587.5" cy="224.2" r="1.25"/><circle cx="552.9" cy="234.5" r="1.25"/><circle cx="579.1" cy="237.6" r="1.25"/><circle cx="498.2" cy="236.2" r="1.25"/><circle cx="548.4" cy="218.2" r="1.25"/><circle cx="592.8" cy="240.0" r="1.25"/><circle cx="599.0" cy="225.6" r="1.25"/><circle cx="594.3" cy="236.3" r="1.25"/><circle cx="651.2" cy="226.8" r="1.25"/><circle cx="653.7" cy="216.3" r="1.25"/><circle cx="615.9" cy="237.0" r="1.25"/><circle cx="576.1" cy="220.4" r="1.25"/><circle cx="611.4" cy="228.2" r="1.25"/><circle cx="553.0" cy="222.8" r="1.25"/><circle cx="619.6" cy="223.5" r="1.25"/><circle cx="553.4" cy="225.3" r="1.25"/><circle cx="658.7" cy="234.5" r="1.25"/><circle cx="466.0" cy="217.3" r="1.25"/><circle cx="610.2" cy="237.9" r="1.25"/><circle cx="581.4" cy="234.0" r="1.25"/><circle cx="615.2" cy="233.6" r="1.25"/><circle cx="582.1" cy="231.2" r="1.25"/><circle cx="618.1" cy="215.5" r="1.25"/><circle cx="607.9" cy="216.5" r="1.25"/><circle cx="592.1" cy="235.6" r="1.25"/><circle cx="637.8" cy="214.6" r="1.25"/><circle cx="525.6" cy="227.2" r="1.25"/><circle cx="635.0" cy="239.7" r="1.25"/><circle cx="586.0" cy="227.6" r="1.25"/><circle cx="607.2" cy="233.3" r="1.25"/><circle cx="598.8" cy="233.6" r="1.25"/><circle cx="566.7" cy="224.9" r="1.25"/><circle cx="581.7" cy="217.3" r="1.25"/><circle cx="648.5" cy="236.0" r="1.25"/><circle cx="580.1" cy="217.9" r="1.25"/><circle cx="632.6" cy="221.9" r="1.25"/><circle cx="453.2" cy="223.4" r="1.25"/><circle cx="590.3" cy="238.3" r="1.25"/><circle cx="597.9" cy="221.5" r="1.25"/><circle cx="574.5" cy="226.9" r="1.25"/><circle cx="508.0" cy="235.0" r="1.25"/><circle cx="608.2" cy="238.9" r="1.25"/><circle cx="609.6" cy="236.2" r="1.25"/><circle cx="569.6" cy="236.0" r="1.25"/><circle cx="514.6" cy="231.0" r="1.25"/><circle cx="613.8" cy="225.1" r="1.25"/><circle cx="611.5" cy="221.0" r="1.25"/><circle cx="617.2" cy="228.4" r="1.25"/><circle cx="617.1" cy="236.5" r="1.25"/><circle cx="550.7" cy="230.3" r="1.25"/><circle cx="592.3" cy="234.9" r="1.25"/><circle cx="580.2" cy="232.0" r="1.25"/><circle cx="568.8" cy="228.6" r="1.25"/><circle cx="572.2" cy="234.9" r="1.25"/><circle cx="598.1" cy="229.2" r="1.25"/><circle cx="657.1" cy="233.5" r="1.25"/><circle cx="578.6" cy="230.5" r="1.25"/><circle cx="566.0" cy="224.8" r="1.25"/><circle cx="595.5" cy="225.4" r="1.25"/><circle cx="595.9" cy="216.0" r="1.25"/><circle cx="572.4" cy="216.6" r="1.25"/><circle cx="601.3" cy="224.2" r="1.25"/><circle cx="601.4" cy="233.8" r="1.25"/><circle cx="603.0" cy="230.2" r="1.25"/><circle cx="537.1" cy="238.1" r="1.25"/><circle cx="597.8" cy="216.2" r="1.25"/><circle cx="572.9" cy="233.7" r="1.25"/><circle cx="619.5" cy="240.2" r="1.25"/><circle cx="595.8" cy="214.1" r="1.25"/><circle cx="617.5" cy="225.1" r="1.25"/><circle cx="614.5" cy="231.3" r="1.25"/><circle cx="547.4" cy="230.2" r="1.25"/><circle cx="507.3" cy="218.5" r="1.25"/><circle cx="608.5" cy="218.2" r="1.25"/><circle cx="497.1" cy="222.7" r="1.25"/><circle cx="635.4" cy="236.2" r="1.25"/><circle cx="598.4" cy="215.8" r="1.25"/><circle cx="571.6" cy="225.5" r="1.25"/><circle cx="600.7" cy="215.9" r="1.25"/><circle cx="522.9" cy="214.4" r="1.25"/><circle cx="594.1" cy="240.3" r="1.25"/><circle cx="633.9" cy="236.4" r="1.25"/><circle cx="446.3" cy="219.6" r="1.25"/><circle cx="638.5" cy="224.8" r="1.25"/><circle cx="561.7" cy="233.9" r="1.25"/><circle cx="573.5" cy="230.3" r="1.25"/><circle cx="636.5" cy="238.7" r="1.25"/><circle cx="611.7" cy="230.4" r="1.25"/><circle cx="569.2" cy="238.0" r="1.25"/><circle cx="652.1" cy="220.7" r="1.25"/><circle cx="484.2" cy="231.6" r="1.25"/><circle cx="602.1" cy="222.5" r="1.25"/><circle cx="586.5" cy="225.2" r="1.25"/><circle cx="628.6" cy="237.9" r="1.25"/><circle cx="471.0" cy="224.8" r="1.25"/><circle cx="562.4" cy="217.1" r="1.25"/><circle cx="576.2" cy="238.8" r="1.25"/><circle cx="504.0" cy="215.9" r="1.25"/><circle cx="600.5" cy="220.3" r="1.25"/><circle cx="618.0" cy="223.2" r="1.25"/><circle cx="624.4" cy="231.4" r="1.25"/><circle cx="532.8" cy="233.3" r="1.25"/><circle cx="586.4" cy="216.4" r="1.25"/><circle cx="652.7" cy="234.3" r="1.25"/><circle cx="503.0" cy="218.4" r="1.25"/><circle cx="604.6" cy="221.3" r="1.25"/><circle cx="558.1" cy="234.3" r="1.25"/><circle cx="628.2" cy="231.5" r="1.25"/><circle cx="596.0" cy="238.3" r="1.25"/><circle cx="625.7" cy="221.1" r="1.25"/><circle cx="495.1" cy="237.1" r="1.25"/><circle cx="595.6" cy="234.8" r="1.25"/><circle cx="573.9" cy="221.9" r="1.25"/><circle cx="519.7" cy="220.2" r="1.25"/><circle cx="571.0" cy="222.7" r="1.25"/><circle cx="607.1" cy="217.4" r="1.25"/><circle cx="586.9" cy="220.0" r="1.25"/><circle cx="596.2" cy="237.2" r="1.25"/><circle cx="555.8" cy="239.2" r="1.25"/><circle cx="583.8" cy="232.0" r="1.25"/><circle cx="579.4" cy="225.5" r="1.25"/><circle cx="628.8" cy="237.6" r="1.25"/><circle cx="621.4" cy="221.7" r="1.25"/><circle cx="575.5" cy="232.3" r="1.25"/><circle cx="583.2" cy="218.1" r="1.25"/><circle cx="556.5" cy="225.5" r="1.25"/><circle cx="591.0" cy="232.4" r="1.25"/><circle cx="524.8" cy="237.9" r="1.25"/><circle cx="643.6" cy="236.7" r="1.25"/><circle cx="570.8" cy="215.8" r="1.25"/><circle cx="462.1" cy="233.3" r="1.25"/><circle cx="555.7" cy="216.9" r="1.25"/><circle cx="635.4" cy="222.2" r="1.25"/><circle cx="564.5" cy="218.8" r="1.25"/><circle cx="566.4" cy="235.8" r="1.25"/><circle cx="646.8" cy="220.1" r="1.25"/><circle cx="612.1" cy="236.5" r="1.25"/><circle cx="570.2" cy="214.9" r="1.25"/><circle cx="534.6" cy="229.9" r="1.25"/><circle cx="566.9" cy="233.4" r="1.25"/><circle cx="566.3" cy="229.8" r="1.25"/><circle cx="625.1" cy="217.7" r="1.25"/><circle cx="585.5" cy="230.4" r="1.25"/><circle cx="632.7" cy="223.7" r="1.25"/><circle cx="654.8" cy="239.0" r="1.25"/><circle cx="620.9" cy="215.0" r="1.25"/><circle cx="571.9" cy="234.5" r="1.25"/><circle cx="566.7" cy="233.8" r="1.25"/><circle cx="587.7" cy="229.6" r="1.25"/><circle cx="599.3" cy="227.9" r="1.25"/><circle cx="615.5" cy="229.5" r="1.25"/><circle cx="617.5" cy="232.3" r="1.25"/><circle cx="562.0" cy="214.7" r="1.25"/><circle cx="607.2" cy="216.5" r="1.25"/><circle cx="567.1" cy="234.7" r="1.25"/><circle cx="613.4" cy="233.0" r="1.25"/><circle cx="463.5" cy="239.4" r="1.25"/><circle cx="613.8" cy="214.7" r="1.25"/><circle cx="601.3" cy="238.1" r="1.25"/><circle cx="530.9" cy="237.0" r="1.25"/><circle cx="552.4" cy="216.0" r="1.25"/><circle cx="563.0" cy="234.1" r="1.25"/><circle cx="583.9" cy="232.6" r="1.25"/><circle cx="626.8" cy="216.4" r="1.25"/><circle cx="650.4" cy="219.2" r="1.25"/><circle cx="593.1" cy="217.1" r="1.25"/><circle cx="518.5" cy="224.4" r="1.25"/><circle cx="646.9" cy="218.0" r="1.25"/><circle cx="642.8" cy="214.0" r="1.25"/><circle cx="513.9" cy="216.5" r="1.25"/><circle cx="598.1" cy="216.9" r="1.25"/><circle cx="601.9" cy="235.4" r="1.25"/><circle cx="602.7" cy="235.1" r="1.25"/><circle cx="605.5" cy="224.2" r="1.25"/><circle cx="449.9" cy="230.5" r="1.25"/><circle cx="565.0" cy="222.6" r="1.25"/><circle cx="564.6" cy="239.0" r="1.25"/><circle cx="602.5" cy="230.3" r="1.25"/><circle cx="514.6" cy="240.2" r="1.25"/><circle cx="556.6" cy="234.3" r="1.25"/><circle cx="533.2" cy="220.0" r="1.25"/><circle cx="492.5" cy="233.3" r="1.25"/><circle cx="576.8" cy="235.5" r="1.25"/><circle cx="541.3" cy="217.3" r="1.25"/><circle cx="576.1" cy="224.3" r="1.25"/><circle cx="542.6" cy="239.7" r="1.25"/><circle cx="612.2" cy="219.7" r="1.25"/><circle cx="521.5" cy="217.9" r="1.25"/><circle cx="610.3" cy="231.5" r="1.25"/><circle cx="599.2" cy="222.4" r="1.25"/><circle cx="535.1" cy="237.8" r="1.25"/><circle cx="567.6" cy="216.0" r="1.25"/><circle cx="567.0" cy="229.3" r="1.25"/><circle cx="578.8" cy="239.1" r="1.25"/><circle cx="600.1" cy="234.7" r="1.25"/><circle cx="466.9" cy="226.1" r="1.25"/><circle cx="535.1" cy="225.9" r="1.25"/><circle cx="598.0" cy="216.0" r="1.25"/><circle cx="511.9" cy="217.2" r="1.25"/><circle cx="614.0" cy="224.2" r="1.25"/><circle cx="565.9" cy="239.7" r="1.25"/><circle cx="486.6" cy="213.8" r="1.25"/><circle cx="611.7" cy="232.7" r="1.25"/><circle cx="554.1" cy="220.2" r="1.25"/><circle cx="658.3" cy="233.6" r="1.25"/><circle cx="633.0" cy="230.3" r="1.25"/><circle cx="623.9" cy="240.2" r="1.25"/><circle cx="618.9" cy="224.0" r="1.25"/><circle cx="511.0" cy="214.2" r="1.25"/><circle cx="480.8" cy="234.0" r="1.25"/><circle cx="570.9" cy="229.3" r="1.25"/><circle cx="575.4" cy="227.9" r="1.25"/><circle cx="570.5" cy="216.7" r="1.25"/><circle cx="594.2" cy="214.0" r="1.25"/><circle cx="611.7" cy="220.9" r="1.25"/><circle cx="610.0" cy="234.5" r="1.25"/><circle cx="633.6" cy="235.0" r="1.25"/><circle cx="598.4" cy="222.8" r="1.25"/><circle cx="622.3" cy="227.1" r="1.25"/><circle cx="515.6" cy="224.7" r="1.25"/><circle cx="478.5" cy="219.6" r="1.25"/><circle cx="579.4" cy="235.0" r="1.25"/><circle cx="624.2" cy="223.8" r="1.25"/><circle cx="569.8" cy="229.7" r="1.25"/><circle cx="520.1" cy="220.5" r="1.25"/><circle cx="526.8" cy="215.5" r="1.25"/><circle cx="548.9" cy="228.8" r="1.25"/><circle cx="622.0" cy="218.4" r="1.25"/><circle cx="563.3" cy="217.8" r="1.25"/><circle cx="623.4" cy="233.6" r="1.25"/><circle cx="635.9" cy="234.7" r="1.25"/><circle cx="611.5" cy="221.6" r="1.25"/><circle cx="633.2" cy="232.2" r="1.25"/><circle cx="551.6" cy="232.1" r="1.25"/><circle cx="542.4" cy="237.4" r="1.25"/><circle cx="553.4" cy="216.6" r="1.25"/><circle cx="472.9" cy="239.0" r="1.25"/><circle cx="632.2" cy="237.8" r="1.25"/><circle cx="539.4" cy="214.8" r="1.25"/><circle cx="594.4" cy="216.9" r="1.25"/><circle cx="555.0" cy="225.5" r="1.25"/><circle cx="586.5" cy="227.5" r="1.25"/><circle cx="575.8" cy="227.2" r="1.25"/><circle cx="605.2" cy="214.3" r="1.25"/><circle cx="538.6" cy="237.0" r="1.25"/><circle cx="558.0" cy="228.7" r="1.25"/><circle cx="532.2" cy="231.0" r="1.25"/><circle cx="561.2" cy="236.7" r="1.25"/><circle cx="617.4" cy="215.8" r="1.25"/><circle cx="644.9" cy="223.4" r="1.25"/><circle cx="467.4" cy="235.7" r="1.25"/><circle cx="618.4" cy="216.7" r="1.25"/><circle cx="606.7" cy="222.0" r="1.25"/><circle cx="510.5" cy="216.8" r="1.25"/><circle cx="537.5" cy="239.6" r="1.25"/><circle cx="621.7" cy="228.3" r="1.25"/><circle cx="541.5" cy="237.6" r="1.25"/><circle cx="624.7" cy="236.4" r="1.25"/><circle cx="583.1" cy="224.5" r="1.25"/><circle cx="655.9" cy="216.9" r="1.25"/><circle cx="582.0" cy="231.8" r="1.25"/><circle cx="526.0" cy="219.7" r="1.25"/><circle cx="595.7" cy="223.2" r="1.25"/><circle cx="576.0" cy="220.7" r="1.25"/><circle cx="501.4" cy="225.7" r="1.25"/><circle cx="615.9" cy="223.9" r="1.25"/><circle cx="629.2" cy="223.9" r="1.25"/><circle cx="641.4" cy="238.9" r="1.25"/><circle cx="595.4" cy="239.0" r="1.25"/><circle cx="589.0" cy="229.8" r="1.25"/><circle cx="540.0" cy="239.3" r="1.25"/><circle cx="641.9" cy="238.5" r="1.25"/><circle cx="604.6" cy="234.1" r="1.25"/><circle cx="600.9" cy="234.4" r="1.25"/><circle cx="598.5" cy="240.3" r="1.25"/><circle cx="616.2" cy="215.7" r="1.25"/><circle cx="563.4" cy="215.8" r="1.25"/><circle cx="520.2" cy="232.8" r="1.25"/><circle cx="657.6" cy="216.8" r="1.25"/><circle cx="479.7" cy="231.2" r="1.25"/><circle cx="558.3" cy="238.2" r="1.25"/><circle cx="583.0" cy="216.3" r="1.25"/><circle cx="487.8" cy="236.0" r="1.25"/><circle cx="563.6" cy="226.7" r="1.25"/><circle cx="620.3" cy="233.1" r="1.25"/><circle cx="596.6" cy="219.5" r="1.25"/><circle cx="590.4" cy="234.2" r="1.25"/><circle cx="473.6" cy="223.7" r="1.25"/><circle cx="572.6" cy="214.9" r="1.25"/><circle cx="522.9" cy="233.5" r="1.25"/><circle cx="566.6" cy="237.9" r="1.25"/><circle cx="566.8" cy="234.9" r="1.25"/><circle cx="572.4" cy="233.8" r="1.25"/><circle cx="562.1" cy="219.3" r="1.25"/><circle cx="609.2" cy="221.3" r="1.25"/><circle cx="576.5" cy="236.8" r="1.25"/><circle cx="629.2" cy="234.9" r="1.25"/><circle cx="559.7" cy="237.2" r="1.25"/><circle cx="531.7" cy="236.1" r="1.25"/><circle cx="568.5" cy="219.2" r="1.25"/><circle cx="620.5" cy="224.0" r="1.25"/><circle cx="566.1" cy="214.4" r="1.25"/><circle cx="618.6" cy="224.1" r="1.25"/><circle cx="600.6" cy="216.6" r="1.25"/><circle cx="553.6" cy="233.7" r="1.25"/><circle cx="538.4" cy="219.1" r="1.25"/><circle cx="520.7" cy="215.2" r="1.25"/><circle cx="576.0" cy="216.9" r="1.25"/><circle cx="598.1" cy="234.3" r="1.25"/><circle cx="558.5" cy="228.9" r="1.25"/><circle cx="642.1" cy="234.5" r="1.25"/><circle cx="466.3" cy="215.3" r="1.25"/><circle cx="609.1" cy="232.2" r="1.25"/><circle cx="535.9" cy="224.2" r="1.25"/><circle cx="659.4" cy="220.2" r="1.25"/><circle cx="514.4" cy="217.4" r="1.25"/><circle cx="635.0" cy="235.6" r="1.25"/><circle cx="573.1" cy="239.7" r="1.25"/><circle cx="558.0" cy="229.1" r="1.25"/><circle cx="487.9" cy="232.4" r="1.25"/><circle cx="548.9" cy="234.6" r="1.25"/><circle cx="566.4" cy="215.3" r="1.25"/><circle cx="634.6" cy="233.3" r="1.25"/><circle cx="648.9" cy="226.7" r="1.25"/><circle cx="511.0" cy="214.8" r="1.25"/><circle cx="587.4" cy="222.1" r="1.25"/><circle cx="484.4" cy="232.2" r="1.25"/><circle cx="519.9" cy="222.8" r="1.25"/><circle cx="592.8" cy="214.1" r="1.25"/><circle cx="582.0" cy="218.3" r="1.25"/><circle cx="627.0" cy="223.4" r="1.25"/><circle cx="629.5" cy="238.2" r="1.25"/><circle cx="535.8" cy="218.1" r="1.25"/><circle cx="593.7" cy="214.4" r="1.25"/><circle cx="617.1" cy="223.9" r="1.25"/><circle cx="613.1" cy="222.1" r="1.25"/><circle cx="591.2" cy="224.2" r="1.25"/><circle cx="584.7" cy="223.1" r="1.25"/><circle cx="591.0" cy="219.7" r="1.25"/><circle cx="571.3" cy="215.1" r="1.25"/><circle cx="588.7" cy="233.2" r="1.25"/><circle cx="626.8" cy="236.1" r="1.25"/><circle cx="562.9" cy="227.9" r="1.25"/><circle cx="573.2" cy="214.8" r="1.25"/><circle cx="573.6" cy="218.8" r="1.25"/><circle cx="619.3" cy="216.4" r="1.25"/><circle cx="549.8" cy="230.2" r="1.25"/><circle cx="572.0" cy="221.5" r="1.25"/><circle cx="605.0" cy="239.1" r="1.25"/><circle cx="566.5" cy="221.7" r="1.25"/><circle cx="620.2" cy="222.1" r="1.25"/><circle cx="582.8" cy="235.8" r="1.25"/><circle cx="516.6" cy="224.2" r="1.25"/><circle cx="569.8" cy="216.5" r="1.25"/><circle cx="530.0" cy="235.6" r="1.25"/><circle cx="571.0" cy="240.3" r="1.25"/><circle cx="567.2" cy="227.0" r="1.25"/><circle cx="564.8" cy="238.2" r="1.25"/><circle cx="614.6" cy="225.8" r="1.25"/><circle cx="628.2" cy="225.9" r="1.25"/><circle cx="613.2" cy="219.0" r="1.25"/><circle cx="613.4" cy="230.2" r="1.25"/><circle cx="627.6" cy="231.9" r="1.25"/><circle cx="631.1" cy="225.5" r="1.25"/><circle cx="534.0" cy="235.1" r="1.25"/><circle cx="626.1" cy="217.5" r="1.25"/><circle cx="537.6" cy="222.9" r="1.25"/><circle cx="559.4" cy="225.5" r="1.25"/><circle cx="611.6" cy="234.6" r="1.25"/><circle cx="530.2" cy="238.8" r="1.25"/><circle cx="644.8" cy="237.4" r="1.25"/><circle cx="632.5" cy="217.1" r="1.25"/><circle cx="442.3" cy="217.6" r="1.25"/><circle cx="594.9" cy="239.0" r="1.25"/><circle cx="632.6" cy="225.1" r="1.25"/><circle cx="581.8" cy="223.7" r="1.25"/><circle cx="582.2" cy="225.8" r="1.25"/><circle cx="589.1" cy="238.6" r="1.25"/><circle cx="588.7" cy="237.2" r="1.25"/><circle cx="586.8" cy="222.9" r="1.25"/><circle cx="601.3" cy="225.6" r="1.25"/><circle cx="640.8" cy="223.2" r="1.25"/><circle cx="508.9" cy="239.1" r="1.25"/><circle cx="544.8" cy="216.1" r="1.25"/><circle cx="450.8" cy="230.1" r="1.25"/><circle cx="502.4" cy="224.1" r="1.25"/><circle cx="540.0" cy="231.3" r="1.25"/><circle cx="628.9" cy="221.7" r="1.25"/><circle cx="564.6" cy="224.8" r="1.25"/><circle cx="594.6" cy="220.5" r="1.25"/><circle cx="560.2" cy="219.1" r="1.25"/><circle cx="652.5" cy="225.3" r="1.25"/><circle cx="540.8" cy="236.2" r="1.25"/></g>
<line x1="476.3" y1="227.0" x2="557.0" y2="227.0" stroke="#222" stroke-width="1.2"/>
<line x1="610.8" y1="227.0" x2="659.2" y2="227.0" stroke="#222" stroke-width="1.2"/>
<rect x="557.0" y="222.9" width="53.8" height="8.6" fill="#D5EED2" fill-opacity="0.15" stroke="#2b2b2b" stroke-width="1"/>
<line x1="583.9" y1="222.9" x2="583.9" y2="231.5" stroke="#222" stroke-width="1.7"/>
<rect x="573.2" y="306.6" width="43.0" height="8.6" fill="#95C1DC"/>
<g fill="#2B83BA"><circle cx="590.0" cy="317.7" r="1.25"/><circle cx="620.8" cy="301.7" r="1.25"/><circle cx="577.1" cy="312.0" r="1.25"/><circle cx="600.2" cy="308.2" r="1.25"/><circle cx="548.5" cy="308.1" r="1.25"/><circle cx="630.8" cy="313.4" r="1.25"/><circle cx="589.7" cy="318.3" r="1.25"/><circle cx="611.1" cy="297.6" r="1.25"/><circle cx="605.4" cy="302.3" r="1.25"/><circle cx="604.0" cy="317.9" r="1.25"/><circle cx="581.0" cy="320.6" r="1.25"/><circle cx="625.5" cy="308.7" r="1.25"/><circle cx="602.0" cy="319.8" r="1.25"/><circle cx="554.6" cy="304.8" r="1.25"/><circle cx="552.1" cy="302.6" r="1.25"/><circle cx="602.9" cy="303.3" r="1.25"/><circle cx="605.7" cy="316.4" r="1.25"/><circle cx="579.8" cy="312.5" r="1.25"/><circle cx="573.7" cy="311.3" r="1.25"/><circle cx="628.5" cy="314.7" r="1.25"/><circle cx="617.2" cy="321.4" r="1.25"/><circle cx="560.3" cy="298.4" r="1.25"/><circle cx="621.8" cy="309.3" r="1.25"/><circle cx="543.1" cy="305.6" r="1.25"/><circle cx="627.9" cy="315.9" r="1.25"/><circle cx="625.6" cy="297.6" r="1.25"/><circle cx="556.6" cy="302.8" r="1.25"/><circle cx="657.6" cy="309.6" r="1.25"/><circle cx="636.0" cy="312.3" r="1.25"/><circle cx="568.4" cy="309.9" r="1.25"/><circle cx="611.2" cy="302.7" r="1.25"/><circle cx="600.5" cy="320.1" r="1.25"/><circle cx="564.3" cy="300.3" r="1.25"/><circle cx="572.2" cy="316.5" r="1.25"/><circle cx="573.6" cy="307.7" r="1.25"/><circle cx="618.0" cy="321.2" r="1.25"/><circle cx="611.2" cy="304.0" r="1.25"/><circle cx="651.0" cy="310.2" r="1.25"/><circle cx="583.1" cy="300.8" r="1.25"/><circle cx="602.4" cy="315.8" r="1.25"/><circle cx="592.4" cy="302.2" r="1.25"/><circle cx="597.0" cy="299.4" r="1.25"/><circle cx="611.8" cy="312.5" r="1.25"/><circle cx="621.6" cy="315.8" r="1.25"/><circle cx="615.3" cy="314.1" r="1.25"/><circle cx="559.0" cy="312.6" r="1.25"/><circle cx="578.7" cy="313.7" r="1.25"/><circle cx="609.1" cy="306.3" r="1.25"/><circle cx="622.7" cy="312.5" r="1.25"/><circle cx="630.3" cy="320.5" r="1.25"/><circle cx="588.8" cy="304.0" r="1.25"/><circle cx="598.2" cy="322.0" r="1.25"/><circle cx="536.7" cy="305.6" r="1.25"/><circle cx="603.8" cy="320.1" r="1.25"/><circle cx="582.0" cy="311.3" r="1.25"/><circle cx="606.3" cy="322.4" r="1.25"/><circle cx="611.8" cy="300.3" r="1.25"/><circle cx="567.9" cy="321.6" r="1.25"/><circle cx="545.0" cy="299.7" r="1.25"/><circle cx="613.8" cy="319.6" r="1.25"/><circle cx="618.5" cy="309.7" r="1.25"/><circle cx="658.2" cy="308.0" r="1.25"/><circle cx="603.7" cy="309.0" r="1.25"/><circle cx="540.7" cy="311.6" r="1.25"/><circle cx="544.1" cy="323.3" r="1.25"/><circle cx="649.2" cy="312.6" r="1.25"/><circle cx="618.0" cy="298.7" r="1.25"/><circle cx="562.9" cy="307.2" r="1.25"/><circle cx="600.8" cy="322.4" r="1.25"/><circle cx="565.5" cy="302.0" r="1.25"/><circle cx="620.8" cy="311.6" r="1.25"/><circle cx="618.0" cy="316.9" r="1.25"/><circle cx="643.4" cy="302.5" r="1.25"/><circle cx="616.2" cy="309.1" r="1.25"/><circle cx="592.6" cy="321.7" r="1.25"/><circle cx="639.6" cy="313.7" r="1.25"/><circle cx="593.3" cy="312.7" r="1.25"/><circle cx="615.2" cy="314.6" r="1.25"/><circle cx="570.7" cy="313.4" r="1.25"/><circle cx="578.9" cy="322.0" r="1.25"/><circle cx="611.2" cy="318.2" r="1.25"/><circle cx="582.4" cy="312.1" r="1.25"/><circle cx="631.4" cy="323.6" r="1.25"/><circle cx="607.9" cy="303.9" r="1.25"/><circle cx="643.8" cy="299.3" r="1.25"/><circle cx="611.1" cy="323.6" r="1.25"/><circle cx="608.9" cy="316.8" r="1.25"/><circle cx="605.5" cy="323.8" r="1.25"/><circle cx="567.3" cy="319.4" r="1.25"/><circle cx="589.8" cy="318.7" r="1.25"/><circle cx="639.6" cy="314.6" r="1.25"/><circle cx="615.4" cy="313.3" r="1.25"/><circle cx="623.1" cy="319.2" r="1.25"/><circle cx="595.4" cy="309.5" r="1.25"/><circle cx="570.9" cy="300.5" r="1.25"/><circle cx="622.4" cy="307.9" r="1.25"/><circle cx="595.6" cy="311.3" r="1.25"/><circle cx="621.0" cy="302.8" r="1.25"/><circle cx="542.7" cy="304.6" r="1.25"/><circle cx="590.0" cy="300.1" r="1.25"/><circle cx="613.3" cy="301.5" r="1.25"/><circle cx="643.1" cy="319.0" r="1.25"/><circle cx="566.3" cy="314.6" r="1.25"/><circle cx="653.4" cy="323.0" r="1.25"/><circle cx="614.2" cy="302.5" r="1.25"/><circle cx="568.0" cy="315.5" r="1.25"/><circle cx="519.8" cy="302.3" r="1.25"/><circle cx="643.0" cy="299.1" r="1.25"/><circle cx="617.1" cy="306.1" r="1.25"/><circle cx="618.7" cy="308.0" r="1.25"/><circle cx="592.3" cy="297.7" r="1.25"/><circle cx="545.3" cy="304.4" r="1.25"/><circle cx="602.5" cy="318.2" r="1.25"/><circle cx="610.1" cy="304.3" r="1.25"/><circle cx="581.6" cy="300.7" r="1.25"/><circle cx="649.8" cy="298.9" r="1.25"/><circle cx="623.1" cy="307.9" r="1.25"/><circle cx="525.7" cy="313.8" r="1.25"/><circle cx="581.8" cy="317.5" r="1.25"/><circle cx="639.8" cy="300.3" r="1.25"/><circle cx="624.1" cy="318.8" r="1.25"/><circle cx="622.1" cy="315.9" r="1.25"/><circle cx="565.3" cy="303.4" r="1.25"/><circle cx="634.5" cy="320.4" r="1.25"/><circle cx="614.7" cy="312.0" r="1.25"/><circle cx="593.8" cy="302.4" r="1.25"/><circle cx="617.7" cy="315.4" r="1.25"/><circle cx="576.2" cy="315.2" r="1.25"/><circle cx="635.1" cy="299.9" r="1.25"/><circle cx="545.8" cy="298.3" r="1.25"/><circle cx="578.6" cy="315.6" r="1.25"/><circle cx="614.9" cy="315.9" r="1.25"/><circle cx="592.4" cy="299.8" r="1.25"/><circle cx="632.3" cy="298.2" r="1.25"/><circle cx="628.3" cy="321.1" r="1.25"/><circle cx="613.5" cy="318.7" r="1.25"/><circle cx="589.7" cy="323.3" r="1.25"/><circle cx="601.7" cy="321.4" r="1.25"/><circle cx="591.2" cy="320.1" r="1.25"/><circle cx="585.3" cy="321.5" r="1.25"/><circle cx="517.1" cy="318.8" r="1.25"/><circle cx="579.5" cy="307.1" r="1.25"/><circle cx="615.9" cy="300.4" r="1.25"/><circle cx="604.4" cy="316.4" r="1.25"/><circle cx="589.6" cy="322.1" r="1.25"/><circle cx="588.0" cy="303.5" r="1.25"/><circle cx="569.1" cy="322.8" r="1.25"/><circle cx="545.5" cy="307.9" r="1.25"/><circle cx="560.0" cy="303.6" r="1.25"/><circle cx="613.0" cy="323.4" r="1.25"/><circle cx="643.1" cy="320.1" r="1.25"/><circle cx="614.7" cy="314.6" r="1.25"/><circle cx="591.5" cy="306.7" r="1.25"/><circle cx="606.2" cy="317.2" r="1.25"/><circle cx="555.1" cy="304.3" r="1.25"/><circle cx="546.8" cy="304.3" r="1.25"/><circle cx="539.1" cy="301.7" r="1.25"/><circle cx="612.3" cy="309.6" r="1.25"/><circle cx="611.1" cy="314.3" r="1.25"/><circle cx="561.5" cy="314.9" r="1.25"/><circle cx="642.8" cy="299.9" r="1.25"/><circle cx="562.5" cy="310.7" r="1.25"/><circle cx="606.5" cy="322.9" r="1.25"/><circle cx="608.4" cy="313.8" r="1.25"/><circle cx="531.2" cy="310.2" r="1.25"/><circle cx="578.2" cy="316.3" r="1.25"/><circle cx="605.7" cy="308.5" r="1.25"/><circle cx="617.0" cy="313.5" r="1.25"/><circle cx="614.0" cy="306.9" r="1.25"/><circle cx="618.3" cy="301.6" r="1.25"/><circle cx="546.4" cy="314.3" r="1.25"/><circle cx="538.8" cy="302.7" r="1.25"/><circle cx="631.4" cy="313.3" r="1.25"/><circle cx="560.4" cy="317.8" r="1.25"/><circle cx="590.3" cy="318.8" r="1.25"/><circle cx="625.6" cy="311.8" r="1.25"/><circle cx="537.4" cy="309.0" r="1.25"/><circle cx="627.3" cy="308.3" r="1.25"/><circle cx="612.1" cy="314.1" r="1.25"/><circle cx="596.0" cy="323.2" r="1.25"/><circle cx="580.0" cy="312.6" r="1.25"/><circle cx="604.1" cy="311.0" r="1.25"/><circle cx="629.4" cy="323.6" r="1.25"/><circle cx="571.1" cy="315.3" r="1.25"/><circle cx="576.0" cy="300.3" r="1.25"/><circle cx="604.7" cy="300.0" r="1.25"/><circle cx="627.8" cy="310.7" r="1.25"/><circle cx="594.1" cy="320.0" r="1.25"/><circle cx="593.9" cy="304.0" r="1.25"/><circle cx="647.3" cy="298.0" r="1.25"/><circle cx="606.6" cy="314.6" r="1.25"/><circle cx="621.1" cy="319.1" r="1.25"/><circle cx="615.3" cy="303.1" r="1.25"/><circle cx="602.9" cy="302.1" r="1.25"/><circle cx="599.8" cy="306.2" r="1.25"/><circle cx="615.9" cy="298.8" r="1.25"/><circle cx="624.4" cy="315.4" r="1.25"/><circle cx="561.9" cy="318.3" r="1.25"/><circle cx="580.4" cy="307.0" r="1.25"/><circle cx="572.9" cy="317.7" r="1.25"/><circle cx="625.0" cy="318.8" r="1.25"/><circle cx="588.6" cy="304.0" r="1.25"/><circle cx="599.9" cy="314.6" r="1.25"/><circle cx="607.3" cy="319.3" r="1.25"/><circle cx="646.0" cy="301.8" r="1.25"/><circle cx="507.7" cy="299.0" r="1.25"/><circle cx="567.5" cy="309.4" r="1.25"/><circle cx="632.5" cy="306.7" r="1.25"/><circle cx="598.7" cy="313.1" r="1.25"/><circle cx="592.3" cy="298.5" r="1.25"/><circle cx="644.4" cy="302.5" r="1.25"/><circle cx="549.8" cy="304.0" r="1.25"/><circle cx="519.8" cy="303.8" r="1.25"/><circle cx="638.6" cy="314.4" r="1.25"/><circle cx="626.4" cy="322.1" r="1.25"/><circle cx="606.8" cy="301.1" r="1.25"/><circle cx="577.1" cy="300.3" r="1.25"/><circle cx="622.7" cy="302.5" r="1.25"/><circle cx="562.1" cy="299.9" r="1.25"/><circle cx="602.1" cy="317.2" r="1.25"/><circle cx="568.7" cy="316.0" r="1.25"/><circle cx="593.9" cy="302.4" r="1.25"/><circle cx="511.4" cy="308.3" r="1.25"/><circle cx="602.3" cy="298.1" r="1.25"/><circle cx="598.4" cy="311.4" r="1.25"/><circle cx="651.6" cy="305.3" r="1.25"/><circle cx="596.0" cy="303.1" r="1.25"/><circle cx="604.4" cy="304.9" r="1.25"/><circle cx="560.8" cy="318.8" r="1.25"/><circle cx="586.3" cy="313.1" r="1.25"/><circle cx="571.8" cy="303.9" r="1.25"/><circle cx="654.9" cy="316.5" r="1.25"/><circle cx="558.7" cy="301.0" r="1.25"/><circle cx="609.2" cy="306.5" r="1.25"/><circle cx="626.6" cy="319.0" r="1.25"/><circle cx="640.9" cy="305.3" r="1.25"/><circle cx="614.1" cy="318.8" r="1.25"/><circle cx="568.9" cy="318.9" r="1.25"/><circle cx="636.7" cy="311.4" r="1.25"/><circle cx="607.5" cy="297.9" r="1.25"/><circle cx="607.1" cy="317.8" r="1.25"/><circle cx="632.0" cy="318.0" r="1.25"/><circle cx="520.7" cy="302.2" r="1.25"/><circle cx="618.7" cy="322.4" r="1.25"/><circle cx="620.3" cy="322.8" r="1.25"/><circle cx="616.4" cy="311.0" r="1.25"/><circle cx="569.3" cy="321.7" r="1.25"/><circle cx="636.4" cy="300.6" r="1.25"/><circle cx="580.4" cy="309.2" r="1.25"/><circle cx="589.6" cy="310.1" r="1.25"/><circle cx="629.0" cy="312.5" r="1.25"/><circle cx="638.8" cy="317.8" r="1.25"/><circle cx="575.9" cy="312.3" r="1.25"/><circle cx="600.6" cy="300.2" r="1.25"/><circle cx="625.2" cy="299.2" r="1.25"/><circle cx="605.0" cy="318.0" r="1.25"/><circle cx="571.8" cy="320.6" r="1.25"/><circle cx="592.4" cy="306.6" r="1.25"/><circle cx="609.4" cy="322.9" r="1.25"/><circle cx="614.4" cy="320.1" r="1.25"/><circle cx="584.0" cy="304.6" r="1.25"/><circle cx="567.3" cy="300.9" r="1.25"/><circle cx="622.2" cy="315.1" r="1.25"/><circle cx="583.6" cy="318.5" r="1.25"/><circle cx="580.0" cy="315.3" r="1.25"/><circle cx="585.3" cy="308.8" r="1.25"/><circle cx="571.3" cy="311.5" r="1.25"/><circle cx="556.8" cy="301.4" r="1.25"/><circle cx="595.7" cy="309.2" r="1.25"/><circle cx="568.7" cy="302.5" r="1.25"/><circle cx="609.4" cy="299.9" r="1.25"/><circle cx="553.8" cy="315.8" r="1.25"/><circle cx="588.3" cy="298.8" r="1.25"/><circle cx="642.2" cy="318.1" r="1.25"/><circle cx="602.2" cy="301.8" r="1.25"/><circle cx="634.6" cy="302.8" r="1.25"/><circle cx="570.7" cy="300.9" r="1.25"/><circle cx="619.0" cy="303.8" r="1.25"/><circle cx="547.7" cy="310.1" r="1.25"/><circle cx="650.1" cy="299.9" r="1.25"/><circle cx="649.8" cy="301.0" r="1.25"/><circle cx="615.2" cy="322.3" r="1.25"/><circle cx="574.4" cy="316.8" r="1.25"/><circle cx="622.4" cy="307.2" r="1.25"/><circle cx="622.3" cy="308.8" r="1.25"/><circle cx="617.8" cy="315.3" r="1.25"/><circle cx="623.7" cy="319.7" r="1.25"/><circle cx="580.4" cy="299.9" r="1.25"/><circle cx="619.0" cy="307.6" r="1.25"/><circle cx="575.6" cy="313.5" r="1.25"/><circle cx="605.9" cy="319.4" r="1.25"/><circle cx="595.4" cy="300.4" r="1.25"/><circle cx="573.0" cy="320.5" r="1.25"/><circle cx="580.2" cy="299.0" r="1.25"/><circle cx="635.0" cy="311.3" r="1.25"/><circle cx="539.7" cy="308.9" r="1.25"/><circle cx="607.8" cy="321.2" r="1.25"/><circle cx="599.3" cy="314.4" r="1.25"/><circle cx="549.3" cy="318.5" r="1.25"/><circle cx="544.0" cy="316.5" r="1.25"/><circle cx="599.1" cy="301.4" r="1.25"/><circle cx="587.4" cy="323.3" r="1.25"/><circle cx="577.0" cy="309.9" r="1.25"/><circle cx="576.7" cy="310.4" r="1.25"/><circle cx="574.9" cy="304.0" r="1.25"/><circle cx="612.0" cy="306.9" r="1.25"/><circle cx="651.8" cy="319.0" r="1.25"/><circle cx="583.1" cy="314.4" r="1.25"/><circle cx="597.1" cy="316.6" r="1.25"/><circle cx="615.3" cy="313.8" r="1.25"/><circle cx="585.3" cy="303.1" r="1.25"/><circle cx="559.5" cy="303.4" r="1.25"/><circle cx="608.3" cy="311.6" r="1.25"/><circle cx="589.2" cy="301.5" r="1.25"/><circle cx="508.5" cy="304.6" r="1.25"/><circle cx="591.0" cy="310.5" r="1.25"/><circle cx="632.5" cy="301.2" r="1.25"/><circle cx="543.3" cy="304.1" r="1.25"/><circle cx="632.8" cy="318.1" r="1.25"/><circle cx="610.9" cy="305.9" r="1.25"/><circle cx="627.7" cy="316.5" r="1.25"/><circle cx="603.5" cy="304.2" r="1.25"/><circle cx="614.5" cy="298.0" r="1.25"/><circle cx="633.0" cy="324.0" r="1.25"/><circle cx="566.6" cy="322.3" r="1.25"/><circle cx="551.0" cy="321.7" r="1.25"/><circle cx="608.6" cy="305.8" r="1.25"/><circle cx="601.9" cy="321.6" r="1.25"/><circle cx="607.1" cy="315.5" r="1.25"/><circle cx="588.3" cy="323.6" r="1.25"/><circle cx="654.3" cy="319.2" r="1.25"/><circle cx="610.3" cy="322.3" r="1.25"/><circle cx="611.5" cy="316.3" r="1.25"/><circle cx="528.2" cy="308.4" r="1.25"/><circle cx="576.4" cy="306.8" r="1.25"/><circle cx="584.3" cy="305.1" r="1.25"/><circle cx="656.6" cy="308.9" r="1.25"/><circle cx="558.4" cy="307.5" r="1.25"/><circle cx="606.9" cy="307.7" r="1.25"/><circle cx="616.5" cy="305.4" r="1.25"/><circle cx="484.9" cy="318.2" r="1.25"/><circle cx="489.3" cy="318.5" r="1.25"/><circle cx="494.0" cy="318.1" r="1.25"/><circle cx="497.2" cy="305.2" r="1.25"/><circle cx="501.7" cy="309.9" r="1.25"/><circle cx="501.1" cy="320.3" r="1.25"/></g>
<line x1="508.6" y1="310.7" x2="573.2" y2="310.7" stroke="#222" stroke-width="1.2"/>
<line x1="616.2" y1="310.7" x2="659.2" y2="310.7" stroke="#222" stroke-width="1.2"/>
<rect x="573.2" y="306.6" width="43.0" height="8.6" fill="#95C1DC" fill-opacity="0.15" stroke="#2b2b2b" stroke-width="1"/>
<line x1="607.1" y1="306.6" x2="607.1" y2="315.2" stroke="#222" stroke-width="1.7"/>
</svg></body></html>
